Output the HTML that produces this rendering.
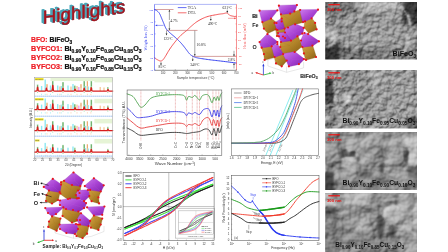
<!DOCTYPE html>
<html><head><meta charset="utf-8"><title>Highlights</title>
<style>html,body{margin:0;padding:0;background:#fff;overflow:hidden}svg{display:block}</style>
</head><body>
<svg width="448" height="252" viewBox="0 0 448 252">
<defs>
<filter id="blur2" x="-50%" y="-50%" width="200%" height="200%"><feGaussianBlur stdDeviation="2.2"/></filter>
<filter id="blur1" x="-50%" y="-50%" width="200%" height="200%"><feGaussianBlur stdDeviation="1.0"/></filter>
<filter id="blur06" x="-50%" y="-50%" width="200%" height="200%"><feGaussianBlur stdDeviation="0.6"/></filter>
<filter id="blur4" x="-50%" y="-50%" width="200%" height="200%"><feGaussianBlur stdDeviation="4"/></filter>
<filter id="semtex0" x="0" y="0" width="1" height="1" color-interpolation-filters="sRGB">
<feTurbulence type="fractalNoise" baseFrequency="0.18" numOctaves="4" seed="11" result="n"/>
<feDiffuseLighting in="n" surfaceScale="2.0" diffuseConstant="0.68" lighting-color="#fff" result="lit"><feDistantLight azimuth="235" elevation="50"/></feDiffuseLighting>
<feColorMatrix in="lit" type="saturate" values="0" result="g"/>
<feBlend in="g" in2="SourceGraphic" mode="overlay" result="b"/>
<feComposite in="b" in2="SourceGraphic" operator="arithmetic" k1="0" k2="1" k3="0" k4="0" result="c"/>
<feComposite in="c" in2="SourceGraphic" operator="in"/>
</filter>
<filter id="semtex1" x="0" y="0" width="1" height="1" color-interpolation-filters="sRGB">
<feTurbulence type="fractalNoise" baseFrequency="0.2" numOctaves="4" seed="5" result="n"/>
<feDiffuseLighting in="n" surfaceScale="2.0" diffuseConstant="0.68" lighting-color="#fff" result="lit"><feDistantLight azimuth="235" elevation="50"/></feDiffuseLighting>
<feColorMatrix in="lit" type="saturate" values="0" result="g"/>
<feBlend in="g" in2="SourceGraphic" mode="overlay" result="b"/>
<feComposite in="b" in2="SourceGraphic" operator="arithmetic" k1="0" k2="1" k3="0" k4="0" result="c"/>
<feComposite in="c" in2="SourceGraphic" operator="in"/>
</filter>
<filter id="semtex2" x="0" y="0" width="1" height="1" color-interpolation-filters="sRGB">
<feTurbulence type="fractalNoise" baseFrequency="0.08" numOctaves="3" seed="8" result="n"/>
<feDiffuseLighting in="n" surfaceScale="2.6" diffuseConstant="0.68" lighting-color="#fff" result="lit"><feDistantLight azimuth="235" elevation="50"/></feDiffuseLighting>
<feColorMatrix in="lit" type="saturate" values="0" result="g"/>
<feBlend in="g" in2="SourceGraphic" mode="overlay" result="b"/>
<feComposite in="b" in2="SourceGraphic" operator="arithmetic" k1="0" k2="1" k3="0" k4="0" result="c"/>
<feComposite in="c" in2="SourceGraphic" operator="in"/>
</filter>
<filter id="semtex3" x="0" y="0" width="1" height="1" color-interpolation-filters="sRGB">
<feTurbulence type="fractalNoise" baseFrequency="0.08" numOctaves="3" seed="21" result="n"/>
<feDiffuseLighting in="n" surfaceScale="2.6" diffuseConstant="0.68" lighting-color="#fff" result="lit"><feDistantLight azimuth="235" elevation="50"/></feDiffuseLighting>
<feColorMatrix in="lit" type="saturate" values="0" result="g"/>
<feBlend in="g" in2="SourceGraphic" mode="overlay" result="b"/>
<feComposite in="b" in2="SourceGraphic" operator="arithmetic" k1="0" k2="1" k3="0" k4="0" result="c"/>
<feComposite in="c" in2="SourceGraphic" operator="in"/>
</filter>
<clipPath id="semclip0"><rect x="325.2" y="1.9" width="91.8" height="57.6"/></clipPath>
<clipPath id="semclip1"><rect x="325.2" y="70" width="91.8" height="58.5"/></clipPath>
<clipPath id="semclip2"><rect x="325.2" y="132" width="91.8" height="58"/></clipPath>
<clipPath id="semclip3"><rect x="325.2" y="193" width="91.8" height="59.5"/></clipPath>

<linearGradient id="gp" x1="0" y1="0" x2="1" y2="1"><stop offset="0" stop-color="#cf80ee"/><stop offset="0.5" stop-color="#a943d4"/><stop offset="1" stop-color="#7f22ac"/></linearGradient>
<linearGradient id="gb" x1="0" y1="0" x2="1" y2="1"><stop offset="0" stop-color="#d6a444"/><stop offset="0.5" stop-color="#b3852a"/><stop offset="1" stop-color="#845a12"/></linearGradient>
</defs>
<rect width="448" height="252" fill="#fff"/>
<text x="40.2" y="22.3" font-size="18.6" font-weight="normal" font-family="'Liberation Sans',Arial,sans-serif" fill="#8ccdd9" stroke="#8ccdd9" stroke-width="0.5" textLength="82.6" lengthAdjust="spacingAndGlyphs" transform="translate(42.8 24) skewY(-7.7) translate(-42.8 -24)">Highlights</text>
<text x="40.52" y="22.51" font-size="18.6" font-weight="normal" font-family="'Liberation Sans',Arial,sans-serif" fill="#4ea6b8" stroke="#4ea6b8" stroke-width="0.5" textLength="82.6" lengthAdjust="spacingAndGlyphs" transform="translate(42.8 24) skewY(-7.7) translate(-42.8 -24)">Highlights</text>
<text x="40.85" y="22.73" font-size="18.6" font-weight="normal" font-family="'Liberation Sans',Arial,sans-serif" fill="#4ea6b8" stroke="#4ea6b8" stroke-width="0.5" textLength="82.6" lengthAdjust="spacingAndGlyphs" transform="translate(42.8 24) skewY(-7.7) translate(-42.8 -24)">Highlights</text>
<text x="41.17" y="22.94" font-size="18.6" font-weight="normal" font-family="'Liberation Sans',Arial,sans-serif" fill="#4ea6b8" stroke="#4ea6b8" stroke-width="0.5" textLength="82.6" lengthAdjust="spacingAndGlyphs" transform="translate(42.8 24) skewY(-7.7) translate(-42.8 -24)">Highlights</text>
<text x="41.5" y="23.15" font-size="18.6" font-weight="normal" font-family="'Liberation Sans',Arial,sans-serif" fill="#4ea6b8" stroke="#4ea6b8" stroke-width="0.5" textLength="82.6" lengthAdjust="spacingAndGlyphs" transform="translate(42.8 24) skewY(-7.7) translate(-42.8 -24)">Highlights</text>
<text x="41.82" y="23.36" font-size="18.6" font-weight="normal" font-family="'Liberation Sans',Arial,sans-serif" fill="#4ea6b8" stroke="#4ea6b8" stroke-width="0.5" textLength="82.6" lengthAdjust="spacingAndGlyphs" transform="translate(42.8 24) skewY(-7.7) translate(-42.8 -24)">Highlights</text>
<text x="42.15" y="23.57" font-size="18.6" font-weight="normal" font-family="'Liberation Sans',Arial,sans-serif" fill="#4ea6b8" stroke="#4ea6b8" stroke-width="0.5" textLength="82.6" lengthAdjust="spacingAndGlyphs" transform="translate(42.8 24) skewY(-7.7) translate(-42.8 -24)">Highlights</text>
<text x="42.47" y="23.79" font-size="18.6" font-weight="normal" font-family="'Liberation Sans',Arial,sans-serif" fill="#4ea6b8" stroke="#4ea6b8" stroke-width="0.5" textLength="82.6" lengthAdjust="spacingAndGlyphs" transform="translate(42.8 24) skewY(-7.7) translate(-42.8 -24)">Highlights</text>
<text x="42.8" y="24" font-size="18.6" font-weight="normal" font-family="'Liberation Sans',Arial,sans-serif" fill="#a8141e" stroke="#a8141e" stroke-width="0.45" textLength="82.6" lengthAdjust="spacingAndGlyphs" transform="translate(42.8 24) skewY(-7.7) translate(-42.8 -24)">Highlights</text>
<text x="31" y="41.6" font-size="7.2" font-weight="bold" font-family="'Liberation Sans',Arial,sans-serif" fill="#111" stroke="#111" stroke-width="0.22" textLength="41.2" lengthAdjust="spacingAndGlyphs"><tspan fill="#ee1c24" stroke="#ee1c24">BFO:</tspan> BiFeO<tspan font-size="5.0" dy="1.9">3</tspan><tspan dy="-1.9">​</tspan></text>
<text x="31" y="50.6" font-size="7.2" font-weight="bold" font-family="'Liberation Sans',Arial,sans-serif" fill="#111" stroke="#111" stroke-width="0.22" textLength="110.5" lengthAdjust="spacingAndGlyphs"><tspan fill="#ee1c24" stroke="#ee1c24">BYFCO1:</tspan> Bi<tspan font-size="5.0" dy="1.9">0.90</tspan><tspan dy="-1.9">​</tspan>Y<tspan font-size="5.0" dy="1.9">0.10</tspan><tspan dy="-1.9">​</tspan>Fe<tspan font-size="5.0" dy="1.9">0.95</tspan><tspan dy="-1.9">​</tspan>Cu<tspan font-size="5.0" dy="1.9">0.05</tspan><tspan dy="-1.9">​</tspan>O<tspan font-size="5.0" dy="1.9">3</tspan><tspan dy="-1.9">​</tspan></text>
<text x="31" y="59.8" font-size="7.2" font-weight="bold" font-family="'Liberation Sans',Arial,sans-serif" fill="#111" stroke="#111" stroke-width="0.22" textLength="110.5" lengthAdjust="spacingAndGlyphs"><tspan fill="#ee1c24" stroke="#ee1c24">BYFCO2:</tspan> Bi<tspan font-size="5.0" dy="1.9">0.90</tspan><tspan dy="-1.9">​</tspan>Y<tspan font-size="5.0" dy="1.9">0.10</tspan><tspan dy="-1.9">​</tspan>Fe<tspan font-size="5.0" dy="1.9">0.90</tspan><tspan dy="-1.9">​</tspan>Cu<tspan font-size="5.0" dy="1.9">0.10</tspan><tspan dy="-1.9">​</tspan>O<tspan font-size="5.0" dy="1.9">3</tspan><tspan dy="-1.9">​</tspan></text>
<text x="31" y="69" font-size="7.2" font-weight="bold" font-family="'Liberation Sans',Arial,sans-serif" fill="#111" stroke="#111" stroke-width="0.22" textLength="110.5" lengthAdjust="spacingAndGlyphs"><tspan fill="#ee1c24" stroke="#ee1c24">BYFCO3:</tspan> Bi<tspan font-size="5.0" dy="1.9">0.90</tspan><tspan dy="-1.9">​</tspan>Y<tspan font-size="5.0" dy="1.9">0.10</tspan><tspan dy="-1.9">​</tspan>Fe<tspan font-size="5.0" dy="1.9">0.85</tspan><tspan dy="-1.9">​</tspan>Cu<tspan font-size="5.0" dy="1.9">0.15</tspan><tspan dy="-1.9">​</tspan>O<tspan font-size="5.0" dy="1.9">3</tspan><tspan dy="-1.9">​</tspan></text>
<line x1="154.5" y1="9.5" x2="173.5" y2="9.5" stroke="#b5524f" stroke-width="0.55" />
<line x1="166.5" y1="30.4" x2="197.5" y2="30.4" stroke="#b5524f" stroke-width="0.55" />
<line x1="192" y1="56.4" x2="236.3" y2="56.4" stroke="#b5524f" stroke-width="0.55" />
<polyline points="154.5,57.8 154.68,57.93 154.92,58.11 155.19,58.32 155.51,58.56 155.85,58.8 156.22,59.05 156.6,59.29 157,59.5 157.43,59.72 157.9,59.98 158.4,60.25 158.91,60.51 159.43,60.74 159.95,60.91 160.44,61.01 160.9,61 161.31,60.93 161.67,60.82 162,60.66 162.33,60.44 162.67,60.13 163.05,59.71 163.49,59.17 164,58.5 164.59,57.64 165.26,56.58 165.97,55.38 166.72,54.09 167.49,52.76 168.27,51.43 169.05,50.16 169.8,49 170.55,47.91 171.3,46.84 172.07,45.79 172.84,44.77 173.6,43.77 174.35,42.81 175.09,41.88 175.8,41 176.48,40.16 177.14,39.37 177.79,38.62 178.42,37.89 179.05,37.2 179.68,36.52 180.33,35.86 181,35.2 181.69,34.56 182.41,33.94 183.14,33.35 183.87,32.77 184.61,32.2 185.33,31.64 186.03,31.07 186.7,30.5 187.33,29.93 187.92,29.37 188.49,28.82 189.05,28.27 189.62,27.72 190.2,27.16 190.82,26.59 191.5,26 192.22,25.39 192.95,24.77 193.71,24.13 194.5,23.48 195.32,22.84 196.17,22.21 197.07,21.59 198,21 198.97,20.42 199.99,19.85 201.03,19.29 202.12,18.74 203.24,18.21 204.39,17.7 205.58,17.23 206.8,16.8 208.11,16.4 209.53,16.03 211.02,15.69 212.53,15.38 214,15.1 215.41,14.84 216.69,14.61 217.8,14.4 218.74,14.23 219.55,14.11 220.25,14.01 220.87,13.94 221.43,13.89 221.96,13.84 222.47,13.78 223,13.7 223.53,13.6 224.03,13.48 224.5,13.35 224.95,13.23 225.37,13.12 225.77,13.04 226.15,13 226.5,13 226.82,13.06 227.11,13.16 227.36,13.3 227.59,13.47 227.82,13.65 228.04,13.84 228.26,14.03 228.5,14.2 228.72,14.37 228.91,14.54 229.08,14.72 229.26,14.9 229.47,15.08 229.73,15.26 230.07,15.43 230.5,15.6 231.08,15.77 231.82,15.94 232.65,16.12 233.53,16.29 234.38,16.45 235.17,16.59 235.83,16.71 236.3,16.8" fill="none" stroke="#f0484a" stroke-width="0.95" stroke-linejoin="round" stroke-linecap="round" />
<polyline points="154.5,9.5 154.69,9.59 154.95,9.7 155.25,9.83 155.59,9.98 155.95,10.15 156.32,10.35 156.67,10.56 157,10.8 157.32,11.06 157.64,11.33 157.96,11.63 158.28,11.95 158.6,12.29 158.91,12.67 159.21,13.07 159.5,13.5 159.77,13.97 160.04,14.49 160.29,15.04 160.53,15.62 160.77,16.21 161.01,16.81 161.25,17.41 161.5,18 161.75,18.58 161.99,19.16 162.23,19.74 162.47,20.33 162.71,20.92 162.96,21.53 163.23,22.15 163.5,22.8 163.79,23.48 164.08,24.21 164.38,24.97 164.69,25.73 165,26.48 165.33,27.21 165.66,27.89 166,28.5 166.33,29.03 166.63,29.47 166.92,29.87 167.23,30.24 167.57,30.61 167.97,31.01 168.44,31.46 169,32 169.68,32.63 170.47,33.32 171.34,34.07 172.26,34.85 173.2,35.64 174.12,36.42 175,37.18 175.8,37.9 176.53,38.57 177.22,39.21 177.89,39.84 178.53,40.46 179.16,41.07 179.77,41.69 180.38,42.33 181,43 181.62,43.7 182.24,44.43 182.86,45.19 183.47,45.94 184.06,46.7 184.64,47.43 185.18,48.14 185.7,48.8 186.18,49.43 186.64,50.05 187.07,50.64 187.47,51.21 187.87,51.76 188.25,52.27 188.63,52.76 189,53.2 189.36,53.6 189.7,53.96 190.03,54.28 190.35,54.58 190.67,54.85 191,55.1 191.34,55.35 191.7,55.6 192.07,55.84 192.45,56.07 192.84,56.28 193.23,56.48 193.64,56.67 194.07,56.85 194.52,57.03 195,57.2 195.47,57.36 195.92,57.5 196.37,57.63 196.86,57.76 197.39,57.88 198.01,58.01 198.74,58.15 199.6,58.3 200.61,58.47 201.75,58.65 203,58.84 204.34,59.03 205.73,59.23 207.15,59.42 208.58,59.61 210,59.8 211.41,59.98 212.83,60.15 214.28,60.31 215.76,60.48 217.26,60.65 218.8,60.82 220.38,61.01 222,61.2 223.78,61.42 225.75,61.66 227.82,61.92 229.9,62.19 231.88,62.44 233.68,62.67 235.18,62.86 236.3,63" fill="none" stroke="#3b47f0" stroke-width="1" stroke-linejoin="round" stroke-linecap="round" />
<line x1="169.4" y1="20" x2="169.4" y2="10" stroke="#222" stroke-width="0.4" /><polygon points="168.5,11.6 170.3,11.6 169.4,10" fill="#222" stroke="none" stroke-width="0" /><line x1="169.4" y1="21.5" x2="169.4" y2="30" stroke="#222" stroke-width="0.4" /><polygon points="168.5,28.4 170.3,28.4 169.4,30" fill="#222" stroke="none" stroke-width="0" />
<line x1="194.8" y1="30.6" x2="194.8" y2="55.8" stroke="#222" stroke-width="0.4" /><polygon points="193.9,54.2 195.7,54.2 194.8,55.8" fill="#222" stroke="none" stroke-width="0" />
<line x1="234" y1="50.8" x2="234" y2="56.2" stroke="#222" stroke-width="0.4" /><polygon points="233.1,54.6 234.9,54.6 234,56.2" fill="#222" stroke="none" stroke-width="0" /><line x1="234" y1="68.5" x2="234" y2="63.2" stroke="#222" stroke-width="0.4" /><polygon points="233.1,64.8 234.9,64.8 234,63.2" fill="#222" stroke="none" stroke-width="0" />
<line x1="166.5" y1="30.6" x2="166.5" y2="35.2" stroke="#222" stroke-width="0.4" /><polygon points="165.6,33.6 167.4,33.6 166.5,35.2" fill="#222" stroke="none" stroke-width="0" />
<line x1="161" y1="62" x2="161" y2="65" stroke="#222" stroke-width="0.4" /><polygon points="160.1,63.4 161.9,63.4 161,65" fill="#222" stroke="none" stroke-width="0" />
<line x1="192.7" y1="57.5" x2="192.7" y2="61" stroke="#222" stroke-width="0.4" /><polygon points="191.8,59.4 193.6,59.4 192.7,61" fill="#222" stroke="none" stroke-width="0" />
<line x1="210.8" y1="16.5" x2="210.8" y2="20.6" stroke="#222" stroke-width="0.4" /><polygon points="209.9,19 211.7,19 210.8,20.6" fill="#222" stroke="none" stroke-width="0" />
<line x1="227.3" y1="9.6" x2="227.3" y2="12.7" stroke="#222" stroke-width="0.4" /><polygon points="226.4,11.1 228.2,11.1 227.3,12.7" fill="#222" stroke="none" stroke-width="0" />
<line x1="163.5" y1="25.4" x2="155.8" y2="25.4" stroke="#3b47f0" stroke-width="0.5" /><polygon points="155.2,25.4 157.2,24.5 157.2,26.3" fill="#3b47f0" stroke="none" stroke-width="0" />
<line x1="228" y1="18.3" x2="235.6" y2="18.3" stroke="#f0484a" stroke-width="0.5" /><polygon points="236.2,18.3 234.2,17.4 234.2,19.2" fill="#f0484a" stroke="none" stroke-width="0" />
<text x="170.3" y="21.5" font-size="3.6" fill="#222" text-anchor="start" font-family="'Liberation Serif','Times New Roman',serif" font-weight="normal" >4.7%</text>
<text x="196.6" y="45.8" font-size="3.6" fill="#222" text-anchor="start" font-family="'Liberation Serif','Times New Roman',serif" font-weight="normal" >10.8%</text>
<text x="227.8" y="61" font-size="3.6" fill="#222" text-anchor="start" font-family="'Liberation Serif','Times New Roman',serif" font-weight="normal" >2.8%</text>
<text x="163.5" y="40.3" font-size="3.6" fill="#222" text-anchor="start" font-family="'Liberation Serif','Times New Roman',serif" font-weight="normal" >123°C</text>
<text x="158.6" y="67.8" font-size="3.6" fill="#222" text-anchor="start" font-family="'Liberation Serif','Times New Roman',serif" font-weight="normal" >85°C</text>
<text x="190.3" y="65.6" font-size="3.6" fill="#222" text-anchor="start" font-family="'Liberation Serif','Times New Roman',serif" font-weight="normal" >340°C</text>
<text x="208" y="25.2" font-size="3.6" fill="#222" text-anchor="start" font-family="'Liberation Serif','Times New Roman',serif" font-weight="normal" >490°C</text>
<text x="222.6" y="9" font-size="3.6" fill="#222" text-anchor="start" font-family="'Liberation Serif','Times New Roman',serif" font-weight="normal" >621°C</text>
<line x1="177.8" y1="7.6" x2="186.5" y2="7.6" stroke="#3b47f0" stroke-width="0.8" /><text x="187.8" y="9" font-size="4" fill="#333" text-anchor="start" font-family="'Liberation Serif','Times New Roman',serif" font-weight="normal" >TGA</text>
<line x1="177.8" y1="12.8" x2="186.5" y2="12.8" stroke="#f0484a" stroke-width="0.8" /><text x="187.8" y="14.2" font-size="4" fill="#333" text-anchor="start" font-family="'Liberation Serif','Times New Roman',serif" font-weight="normal" >DTA</text>
<line x1="154.5" y1="4.4" x2="236.5" y2="4.4" stroke="#7a86f0" stroke-width="0.6" />
<line x1="154.5" y1="4.4" x2="154.5" y2="70.3" stroke="#3b47f0" stroke-width="0.6" />
<line x1="236.5" y1="4.4" x2="236.5" y2="70.3" stroke="#f0484a" stroke-width="0.6" />
<line x1="154.5" y1="70.3" x2="236.5" y2="70.3" stroke="#444" stroke-width="0.6" />
<line x1="154.5" y1="9.8" x2="155.7" y2="9.8" stroke="#3b47f0" stroke-width="0.4" />
<text x="153.2" y="10.7" font-size="2.7" fill="#3b47f0" text-anchor="end" font-family="'Liberation Serif','Times New Roman',serif" font-weight="normal" >100</text>
<line x1="154.5" y1="21.85" x2="155.7" y2="21.85" stroke="#3b47f0" stroke-width="0.4" />
<text x="153.2" y="22.75" font-size="2.7" fill="#3b47f0" text-anchor="end" font-family="'Liberation Serif','Times New Roman',serif" font-weight="normal" >95</text>
<line x1="154.5" y1="33.9" x2="155.7" y2="33.9" stroke="#3b47f0" stroke-width="0.4" />
<text x="153.2" y="34.8" font-size="2.7" fill="#3b47f0" text-anchor="end" font-family="'Liberation Serif','Times New Roman',serif" font-weight="normal" >90</text>
<line x1="154.5" y1="45.95" x2="155.7" y2="45.95" stroke="#3b47f0" stroke-width="0.4" />
<text x="153.2" y="46.85" font-size="2.7" fill="#3b47f0" text-anchor="end" font-family="'Liberation Serif','Times New Roman',serif" font-weight="normal" >85</text>
<line x1="154.5" y1="58" x2="155.7" y2="58" stroke="#3b47f0" stroke-width="0.4" />
<text x="153.2" y="58.9" font-size="2.7" fill="#3b47f0" text-anchor="end" font-family="'Liberation Serif','Times New Roman',serif" font-weight="normal" >80</text>
<line x1="154.5" y1="70.05" x2="155.7" y2="70.05" stroke="#3b47f0" stroke-width="0.4" />
<text x="153.2" y="70.95" font-size="2.7" fill="#3b47f0" text-anchor="end" font-family="'Liberation Serif','Times New Roman',serif" font-weight="normal" >75</text>
<line x1="236.5" y1="7.9" x2="235.5" y2="7.9" stroke="#f0484a" stroke-width="0.4" />
<text x="238.1" y="8.8" font-size="2.7" fill="#f0484a" text-anchor="start" font-family="'Liberation Serif','Times New Roman',serif" font-weight="normal" >100</text>
<line x1="236.5" y1="15.9" x2="235.5" y2="15.9" stroke="#f0484a" stroke-width="0.4" />
<text x="238.1" y="16.8" font-size="2.7" fill="#f0484a" text-anchor="start" font-family="'Liberation Serif','Times New Roman',serif" font-weight="normal" >80</text>
<line x1="236.5" y1="23.9" x2="235.5" y2="23.9" stroke="#f0484a" stroke-width="0.4" />
<text x="238.1" y="24.8" font-size="2.7" fill="#f0484a" text-anchor="start" font-family="'Liberation Serif','Times New Roman',serif" font-weight="normal" >60</text>
<line x1="236.5" y1="31.9" x2="235.5" y2="31.9" stroke="#f0484a" stroke-width="0.4" />
<text x="238.1" y="32.8" font-size="2.7" fill="#f0484a" text-anchor="start" font-family="'Liberation Serif','Times New Roman',serif" font-weight="normal" >40</text>
<line x1="236.5" y1="39.9" x2="235.5" y2="39.9" stroke="#f0484a" stroke-width="0.4" />
<text x="238.1" y="40.8" font-size="2.7" fill="#f0484a" text-anchor="start" font-family="'Liberation Serif','Times New Roman',serif" font-weight="normal" >20</text>
<line x1="236.5" y1="47.9" x2="235.5" y2="47.9" stroke="#f0484a" stroke-width="0.4" />
<text x="238.1" y="48.8" font-size="2.7" fill="#f0484a" text-anchor="start" font-family="'Liberation Serif','Times New Roman',serif" font-weight="normal" >0</text>
<line x1="236.5" y1="55.9" x2="235.5" y2="55.9" stroke="#f0484a" stroke-width="0.4" />
<text x="238.1" y="56.8" font-size="2.7" fill="#f0484a" text-anchor="start" font-family="'Liberation Serif','Times New Roman',serif" font-weight="normal" >-20</text>
<line x1="236.5" y1="63.9" x2="235.5" y2="63.9" stroke="#f0484a" stroke-width="0.4" />
<text x="238.1" y="64.8" font-size="2.7" fill="#f0484a" text-anchor="start" font-family="'Liberation Serif','Times New Roman',serif" font-weight="normal" >-40</text>
<line x1="163.1" y1="70.3" x2="163.1" y2="69.3" stroke="#444" stroke-width="0.4" />
<text x="163.1" y="73.9" font-size="2.8" fill="#444" text-anchor="middle" font-family="'Liberation Sans',Arial,sans-serif" font-weight="normal" >100</text>
<line x1="175.3" y1="70.3" x2="175.3" y2="69.3" stroke="#444" stroke-width="0.4" />
<text x="175.3" y="73.9" font-size="2.8" fill="#444" text-anchor="middle" font-family="'Liberation Sans',Arial,sans-serif" font-weight="normal" >200</text>
<line x1="187.5" y1="70.3" x2="187.5" y2="69.3" stroke="#444" stroke-width="0.4" />
<text x="187.5" y="73.9" font-size="2.8" fill="#444" text-anchor="middle" font-family="'Liberation Sans',Arial,sans-serif" font-weight="normal" >300</text>
<line x1="199.7" y1="70.3" x2="199.7" y2="69.3" stroke="#444" stroke-width="0.4" />
<text x="199.7" y="73.9" font-size="2.8" fill="#444" text-anchor="middle" font-family="'Liberation Sans',Arial,sans-serif" font-weight="normal" >400</text>
<line x1="211.9" y1="70.3" x2="211.9" y2="69.3" stroke="#444" stroke-width="0.4" />
<text x="211.9" y="73.9" font-size="2.8" fill="#444" text-anchor="middle" font-family="'Liberation Sans',Arial,sans-serif" font-weight="normal" >500</text>
<line x1="224.1" y1="70.3" x2="224.1" y2="69.3" stroke="#444" stroke-width="0.4" />
<text x="224.1" y="73.9" font-size="2.8" fill="#444" text-anchor="middle" font-family="'Liberation Sans',Arial,sans-serif" font-weight="normal" >600</text>
<line x1="236.3" y1="70.3" x2="236.3" y2="69.3" stroke="#444" stroke-width="0.4" />
<text x="236.3" y="73.9" font-size="2.8" fill="#444" text-anchor="middle" font-family="'Liberation Sans',Arial,sans-serif" font-weight="normal" >700</text>
<text x="195.5" y="79" font-size="3.4" fill="#444" text-anchor="middle" font-family="'Liberation Sans',Arial,sans-serif" font-weight="normal" >Sample temperature (°C)</text>
<text x="0" y="0" font-size="3.9" fill="#3b47f0" text-anchor="middle" font-family="'Liberation Serif','Times New Roman',serif" font-weight="normal" transform="translate(147.2 38) rotate(-90)">Weight loss (%)</text>
<text x="0" y="0" font-size="3.9" fill="#f0484a" text-anchor="middle" font-family="'Liberation Serif','Times New Roman',serif" font-weight="normal" transform="translate(245.6 36) rotate(-90)">Heat flow (mW)</text>
<line x1="267.9" y1="60" x2="267.9" y2="66" stroke="#c4c4c4" stroke-width="0.4" />
<line x1="267.9" y1="66" x2="286.6" y2="72.3" stroke="#c4c4c4" stroke-width="0.4" />
<line x1="286.6" y1="72.3" x2="303.6" y2="67.9" stroke="#c4c4c4" stroke-width="0.4" />
<line x1="286.6" y1="72.3" x2="286.6" y2="66.5" stroke="#c4c4c4" stroke-width="0.4" />
<line x1="303.6" y1="67.9" x2="303.6" y2="62" stroke="#c4c4c4" stroke-width="0.4" />
<line x1="267.9" y1="60" x2="276" y2="57.5" stroke="#c4c4c4" stroke-width="0.4" />
<polygon points="261.97,21.88 271.08,18.17 276.91,22.83 276.38,29.51 267.9,33.43 263.56,28.77" fill="url(#gb)" stroke="#7d5612" stroke-width="0.25" /><line x1="269.63" y1="25.77" x2="261.97" y2="21.88" stroke="#a07824" stroke-width="0.25" opacity="0.7"/><line x1="269.63" y1="25.77" x2="276.91" y2="22.83" stroke="#a07824" stroke-width="0.25" opacity="0.7"/><line x1="269.63" y1="25.77" x2="267.9" y2="33.43" stroke="#a07824" stroke-width="0.25" opacity="0.7"/>
<polygon points="280.43,13.94 290.08,13.2 300.68,9.39 303.75,22.21 295.38,24.54 287.85,27.94 284.25,29.1 281.18,21.47" fill="url(#gb)" stroke="#7d5612" stroke-width="0.25" /><line x1="290.45" y1="20.23" x2="280.43" y2="13.94" stroke="#a07824" stroke-width="0.25" opacity="0.7"/><line x1="290.45" y1="20.23" x2="300.68" y2="9.39" stroke="#a07824" stroke-width="0.25" opacity="0.7"/><line x1="290.45" y1="20.23" x2="295.38" y2="24.54" stroke="#a07824" stroke-width="0.25" opacity="0.7"/><line x1="290.45" y1="20.23" x2="284.25" y2="29.1" stroke="#a07824" stroke-width="0.25" opacity="0.7"/>
<polygon points="311.68,17.88 315.39,22.75 316.98,29.54 308.61,33.35 304.05,27.21 304.69,21.16" fill="url(#gb)" stroke="#7d5612" stroke-width="0.25" /><line x1="310.23" y1="25.32" x2="311.68" y2="17.88" stroke="#a07824" stroke-width="0.25" opacity="0.7"/><line x1="310.23" y1="25.32" x2="316.98" y2="29.54" stroke="#a07824" stroke-width="0.25" opacity="0.7"/><line x1="310.23" y1="25.32" x2="304.05" y2="27.21" stroke="#a07824" stroke-width="0.25" opacity="0.7"/>
<polygon points="275.68,29.83 284.8,28.35 286.28,33.01 283.1,36.72 276.74,36.19" fill="url(#gb)" stroke="#7d5612" stroke-width="0.25" /><line x1="281.32" y1="32.82" x2="275.68" y2="29.83" stroke="#a07824" stroke-width="0.25" opacity="0.7"/><line x1="281.32" y1="32.82" x2="286.28" y2="33.01" stroke="#a07824" stroke-width="0.25" opacity="0.7"/><line x1="281.32" y1="32.82" x2="276.74" y2="36.19" stroke="#a07824" stroke-width="0.25" opacity="0.7"/>
<polygon points="261.36,47.38 271.96,45.9 275.04,57.24 264.44,60.31 263.7,54.17" fill="url(#gb)" stroke="#7d5612" stroke-width="0.25" /><line x1="267.3" y1="53" x2="261.36" y2="47.38" stroke="#a07824" stroke-width="0.25" opacity="0.7"/><line x1="267.3" y1="53" x2="275.04" y2="57.24" stroke="#a07824" stroke-width="0.25" opacity="0.7"/><line x1="267.3" y1="53" x2="263.7" y2="54.17" stroke="#a07824" stroke-width="0.25" opacity="0.7"/>
<polygon points="280.47,41.79 291.07,40.31 297.85,35.75 302.41,46.35 294.88,52.39 282.69,54.62 279.73,47.09" fill="url(#gb)" stroke="#7d5612" stroke-width="0.25" /><line x1="289.87" y1="45.47" x2="280.47" y2="41.79" stroke="#a07824" stroke-width="0.25" opacity="0.7"/><line x1="289.87" y1="45.47" x2="297.85" y2="35.75" stroke="#a07824" stroke-width="0.25" opacity="0.7"/><line x1="289.87" y1="45.47" x2="294.88" y2="52.39" stroke="#a07824" stroke-width="0.25" opacity="0.7"/><line x1="289.87" y1="45.47" x2="279.73" y2="47.09" stroke="#a07824" stroke-width="0.25" opacity="0.7"/>
<polygon points="274.25,56.8 283.26,53.73 287.08,60.62 281.78,66.66 275.73,63.59" fill="url(#gb)" stroke="#7d5612" stroke-width="0.25" /><line x1="280.42" y1="60.28" x2="274.25" y2="56.8" stroke="#a07824" stroke-width="0.25" opacity="0.7"/><line x1="280.42" y1="60.28" x2="287.08" y2="60.62" stroke="#a07824" stroke-width="0.25" opacity="0.7"/><line x1="280.42" y1="60.28" x2="275.73" y2="63.59" stroke="#a07824" stroke-width="0.25" opacity="0.7"/>
<polygon points="302.06,46.67 312.66,45.18 316.47,57.27 305.87,60.34 303.65,53.45" fill="url(#gb)" stroke="#7d5612" stroke-width="0.25" /><line x1="308.14" y1="52.58" x2="302.06" y2="46.67" stroke="#a07824" stroke-width="0.25" opacity="0.7"/><line x1="308.14" y1="52.58" x2="316.47" y2="57.27" stroke="#a07824" stroke-width="0.25" opacity="0.7"/><line x1="308.14" y1="52.58" x2="303.65" y2="53.45" stroke="#a07824" stroke-width="0.25" opacity="0.7"/>
<polygon points="259.12,10.42 277.99,9.99 271.2,18.79 262.09,22.5" fill="url(#gp)" stroke="#8a2aa8" stroke-width="0.25" /><line x1="267.6" y1="15.43" x2="259.12" y2="10.42" stroke="#b764dc" stroke-width="0.25" opacity="0.7"/><line x1="267.6" y1="15.43" x2="271.2" y2="18.79" stroke="#b764dc" stroke-width="0.25" opacity="0.7"/>
<polygon points="278.34,5.44 297.42,4.7 294.77,11.48 290.21,13.82 280.56,14.56" fill="url(#gp)" stroke="#8a2aa8" stroke-width="0.25" /><line x1="288.26" y1="10" x2="278.34" y2="5.44" stroke="#b764dc" stroke-width="0.25" opacity="0.7"/><line x1="288.26" y1="10" x2="294.77" y2="11.48" stroke="#b764dc" stroke-width="0.25" opacity="0.7"/><line x1="288.26" y1="10" x2="280.56" y2="14.56" stroke="#b764dc" stroke-width="0.25" opacity="0.7"/>
<polygon points="299.62,9.7 318.59,9.38 311.81,18.5 302.69,22.52" fill="url(#gp)" stroke="#8a2aa8" stroke-width="0.25" /><line x1="308.18" y1="15.03" x2="299.62" y2="9.7" stroke="#b764dc" stroke-width="0.25" opacity="0.7"/><line x1="308.18" y1="15.03" x2="311.81" y2="18.5" stroke="#b764dc" stroke-width="0.25" opacity="0.7"/>
<polygon points="274.3,22.77 281.83,18.21 284.9,28.81 277.27,30.3" fill="url(#gp)" stroke="#8a2aa8" stroke-width="0.25" /><line x1="279.57" y1="25.02" x2="274.3" y2="22.77" stroke="#b764dc" stroke-width="0.25" opacity="0.7"/><line x1="279.57" y1="25.02" x2="284.9" y2="28.81" stroke="#b764dc" stroke-width="0.25" opacity="0.7"/>
<polygon points="284.97,28.35 295.15,23.79 304.26,27.61 302.78,33.65 297.59,36.51 290.8,41.07 284.44,38.31" fill="url(#gp)" stroke="#8a2aa8" stroke-width="0.25" /><line x1="294.29" y1="32.76" x2="284.97" y2="28.35" stroke="#b764dc" stroke-width="0.25" opacity="0.7"/><line x1="294.29" y1="32.76" x2="304.26" y2="27.61" stroke="#b764dc" stroke-width="0.25" opacity="0.7"/><line x1="294.29" y1="32.76" x2="297.59" y2="36.51" stroke="#b764dc" stroke-width="0.25" opacity="0.7"/><line x1="294.29" y1="32.76" x2="284.44" y2="38.31" stroke="#b764dc" stroke-width="0.25" opacity="0.7"/>
<polygon points="304.19,32.56 308.11,33.73 319.56,41.36 312.67,45.92 302.07,47.4 300.59,40.62" fill="url(#gp)" stroke="#8a2aa8" stroke-width="0.25" /><line x1="307.87" y1="40.27" x2="304.19" y2="32.56" stroke="#b764dc" stroke-width="0.25" opacity="0.7"/><line x1="307.87" y1="40.27" x2="319.56" y2="41.36" stroke="#b764dc" stroke-width="0.25" opacity="0.7"/><line x1="307.87" y1="40.27" x2="302.07" y2="47.4" stroke="#b764dc" stroke-width="0.25" opacity="0.7"/>
<polygon points="267.39,33.6 277.99,41.97 271.95,46.53 261.35,48.02 259.12,41.97" fill="url(#gp)" stroke="#8a2aa8" stroke-width="0.25" /><line x1="267.56" y1="42.42" x2="267.39" y2="33.6" stroke="#b764dc" stroke-width="0.25" opacity="0.7"/><line x1="267.56" y1="42.42" x2="271.95" y2="46.53" stroke="#b764dc" stroke-width="0.25" opacity="0.7"/><line x1="267.56" y1="42.42" x2="259.12" y2="41.97" stroke="#b764dc" stroke-width="0.25" opacity="0.7"/>
<polygon points="277.71,32.77 285.13,32.24 291.49,40.82 280.89,42.31 278.67,36.27" fill="url(#gp)" stroke="#8a2aa8" stroke-width="0.25" /><line x1="282.78" y1="36.88" x2="277.71" y2="32.77" stroke="#b764dc" stroke-width="0.25" opacity="0.7"/><line x1="282.78" y1="36.88" x2="291.49" y2="40.82" stroke="#b764dc" stroke-width="0.25" opacity="0.7"/><line x1="282.78" y1="36.88" x2="278.67" y2="36.27" stroke="#b764dc" stroke-width="0.25" opacity="0.7"/>
<polygon points="271.4,46.06 277.44,43.72 283.48,54.32 274.47,57.4" fill="url(#gp)" stroke="#8a2aa8" stroke-width="0.25" /><line x1="276.7" y1="50.38" x2="271.4" y2="46.06" stroke="#b764dc" stroke-width="0.25" opacity="0.7"/><line x1="276.7" y1="50.38" x2="283.48" y2="54.32" stroke="#b764dc" stroke-width="0.25" opacity="0.7"/>
<polygon points="282.53,53.78 294.72,51.56 304.57,59.08 299.27,64.38 288.67,66.72 286.34,60.67" fill="url(#gp)" stroke="#8a2aa8" stroke-width="0.25" /><line x1="292.68" y1="59.37" x2="282.53" y2="53.78" stroke="#b764dc" stroke-width="0.25" opacity="0.7"/><line x1="292.68" y1="59.37" x2="304.57" y2="59.08" stroke="#b764dc" stroke-width="0.25" opacity="0.7"/><line x1="292.68" y1="59.37" x2="288.67" y2="66.72" stroke="#b764dc" stroke-width="0.25" opacity="0.7"/>
<circle cx="259.6" cy="10.7" r="1.1" fill="#e8161b" /><circle cx="277.4" cy="10.3" r="1.1" fill="#e8161b" /><circle cx="271" cy="18.6" r="1.1" fill="#e8161b" /><circle cx="262.4" cy="22.1" r="1.1" fill="#e8161b" /><circle cx="278.9" cy="5.7" r="1.1" fill="#e8161b" /><circle cx="296.9" cy="5" r="1.1" fill="#e8161b" /><circle cx="294.4" cy="11.4" r="1.1" fill="#e8161b" /><circle cx="290.1" cy="13.6" r="1.1" fill="#e8161b" /><circle cx="281" cy="14.3" r="1.1" fill="#e8161b" /><circle cx="300.1" cy="10" r="1.1" fill="#e8161b" /><circle cx="318" cy="9.7" r="1.1" fill="#e8161b" /><circle cx="311.6" cy="18.3" r="1.1" fill="#e8161b" /><circle cx="303" cy="22.1" r="1.1" fill="#e8161b" /><circle cx="274.6" cy="22.9" r="1.1" fill="#e8161b" /><circle cx="281.7" cy="18.6" r="1.1" fill="#e8161b" /><circle cx="284.6" cy="28.6" r="1.1" fill="#e8161b" /><circle cx="277.4" cy="30" r="1.1" fill="#e8161b" /><circle cx="295.1" cy="24.3" r="1.1" fill="#e8161b" /><circle cx="303.7" cy="27.9" r="1.1" fill="#e8161b" /><circle cx="302.3" cy="33.6" r="1.1" fill="#e8161b" /><circle cx="297.4" cy="36.3" r="1.1" fill="#e8161b" /><circle cx="291" cy="40.6" r="1.1" fill="#e8161b" /><circle cx="285" cy="38" r="1.1" fill="#e8161b" /><circle cx="304.4" cy="33" r="1.1" fill="#e8161b" /><circle cx="308.1" cy="34.1" r="1.1" fill="#e8161b" /><circle cx="318.9" cy="41.3" r="1.1" fill="#e8161b" /><circle cx="312.4" cy="45.6" r="1.1" fill="#e8161b" /><circle cx="302.4" cy="47" r="1.1" fill="#e8161b" /><circle cx="301" cy="40.6" r="1.1" fill="#e8161b" /><circle cx="267.4" cy="34.1" r="1.1" fill="#e8161b" /><circle cx="277.4" cy="42" r="1.1" fill="#e8161b" /><circle cx="271.7" cy="46.3" r="1.1" fill="#e8161b" /><circle cx="261.7" cy="47.7" r="1.1" fill="#e8161b" /><circle cx="259.6" cy="42" r="1.1" fill="#e8161b" /><circle cx="278" cy="33" r="1.1" fill="#e8161b" /><circle cx="285" cy="32.5" r="1.1" fill="#e8161b" /><circle cx="281" cy="42" r="1.1" fill="#e8161b" /><circle cx="278.9" cy="36.3" r="1.1" fill="#e8161b" /><circle cx="277.4" cy="44.1" r="1.1" fill="#e8161b" /><circle cx="283.1" cy="54.1" r="1.1" fill="#e8161b" /><circle cx="274.6" cy="57" r="1.1" fill="#e8161b" /><circle cx="294.6" cy="52" r="1.1" fill="#e8161b" /><circle cx="303.9" cy="59.1" r="1.1" fill="#e8161b" /><circle cx="298.9" cy="64.1" r="1.1" fill="#e8161b" /><circle cx="288.9" cy="66.3" r="1.1" fill="#e8161b" /><circle cx="286.7" cy="60.6" r="1.1" fill="#e8161b" /><circle cx="276.5" cy="23" r="1.1" fill="#e8161b" /><circle cx="276" cy="29.3" r="1.1" fill="#e8161b" /><circle cx="263.9" cy="28.6" r="1.1" fill="#e8161b" /><circle cx="288" cy="27.5" r="1.1" fill="#e8161b" /><circle cx="281.7" cy="21.4" r="1.1" fill="#e8161b" /><circle cx="315.1" cy="22.9" r="1.1" fill="#e8161b" /><circle cx="316.6" cy="29.3" r="1.1" fill="#e8161b" /><circle cx="305" cy="21.4" r="1.1" fill="#e8161b" /><circle cx="283" cy="36.5" r="1.1" fill="#e8161b" /><circle cx="277" cy="36" r="1.1" fill="#e8161b" /><circle cx="264.6" cy="59.9" r="1.1" fill="#e8161b" /><circle cx="263.9" cy="54.1" r="1.1" fill="#e8161b" /><circle cx="280.3" cy="47" r="1.1" fill="#e8161b" /><circle cx="281.7" cy="66.3" r="1.1" fill="#e8161b" /><circle cx="276" cy="63.4" r="1.1" fill="#e8161b" /><circle cx="316" cy="57" r="1.1" fill="#e8161b" /><circle cx="306" cy="59.9" r="1.1" fill="#e8161b" /><circle cx="303.9" cy="53.4" r="1.1" fill="#e8161b" />
<line x1="263.4" y1="75" x2="263.4" y2="65.6" stroke="#2a3ad8" stroke-width="0.8" /><polygon points="263.4,63.6 262.3,66.2 264.5,66.2" fill="#2a3ad8" stroke="none" stroke-width="0" />
<line x1="263.4" y1="75" x2="269.8" y2="73.4" stroke="#22b02a" stroke-width="0.8" /><polygon points="271.6,72.9 269.2,72.2 269.7,74.3" fill="#22b02a" stroke="none" stroke-width="0" />
<line x1="263.4" y1="75" x2="257" y2="73" stroke="#e02020" stroke-width="0.8" /><polygon points="255.2,72.4 257.6,71.9 257,74" fill="#e02020" stroke="none" stroke-width="0" />
<text x="262.5" y="62.6" font-size="2.8" fill="#333" text-anchor="start" font-family="'Liberation Sans',Arial,sans-serif" font-weight="normal" >c</text>
<text x="272.6" y="74" font-size="2.8" fill="#333" text-anchor="start" font-family="'Liberation Sans',Arial,sans-serif" font-weight="normal" >b</text>
<text x="251.6" y="74" font-size="2.8" fill="#333" text-anchor="start" font-family="'Liberation Sans',Arial,sans-serif" font-weight="normal" >a</text>
<text x="252.2" y="18.4" font-size="5.4" fill="#222" text-anchor="start" font-family="'Liberation Sans',Arial,sans-serif" font-weight="bold" stroke="#222" stroke-width="0.2">Bi</text>
<text x="252.2" y="27.4" font-size="5.4" fill="#222" text-anchor="start" font-family="'Liberation Sans',Arial,sans-serif" font-weight="bold" >Fe</text>
<text x="252.6" y="49.4" font-size="5.4" fill="#222" text-anchor="start" font-family="'Liberation Sans',Arial,sans-serif" font-weight="bold" >O</text>
<text x="300.2" y="77.8" font-size="6" fill="#333" text-anchor="start" font-family="'Liberation Sans',Arial,sans-serif" font-weight="bold" textLength="17.5" lengthAdjust="spacingAndGlyphs" stroke="#333" stroke-width="0.2">BiFeO<tspan font-size="4" dy="1.2">3</tspan></text>
<g clip-path="url(#semclip0)"><g filter="url(#semtex0)">
<rect x="325.2" y="1.9" width="91.8" height="57.6" fill="#8e8e8e" stroke="none" stroke-width="0" />
<rect x="319" y="-4" width="38" height="20" fill="#6c6c6c" stroke="none" stroke-width="0" filter="url(#blur2)"/>
<rect x="357" y="-4" width="44" height="16" fill="#a6a6a6" stroke="none" stroke-width="0" filter="url(#blur2)"/>
<ellipse cx="380" cy="6" rx="16" ry="4" fill="#b4b4b4" filter="url(#blur1)" opacity="1" transform="rotate(0 380 6)"/>
<rect x="402" y="-4" width="22" height="31" fill="#383838" stroke="none" stroke-width="0" filter="url(#blur2)"/>
<rect x="319" y="14" width="20" height="18" fill="#888888" stroke="none" stroke-width="0" filter="url(#blur2)"/>
<rect x="339" y="13" width="62" height="35" fill="#979797" stroke="none" stroke-width="0" filter="url(#blur2)"/>
<ellipse cx="332" cy="36" rx="6" ry="5" fill="#bcbcbc" filter="url(#blur1)" opacity="1" transform="rotate(0 332 36)"/>
<rect x="319" y="43" width="22" height="23" fill="#323232" stroke="none" stroke-width="0" filter="url(#blur2)"/>
<rect x="340" y="49" width="42" height="17" fill="#6e6e6e" stroke="none" stroke-width="0" filter="url(#blur2)"/>
<rect x="401" y="26" width="23" height="22" fill="#8c8c8c" stroke="none" stroke-width="0" filter="url(#blur2)"/>
<ellipse cx="407" cy="40" rx="2" ry="7" fill="#bdbdbd" filter="url(#blur1)" opacity="1" transform="rotate(0 407 40)"/>
<rect x="382" y="48" width="42" height="18" fill="#7c7c7c" stroke="none" stroke-width="0" filter="url(#blur2)"/>
<path d="M356,9 Q380,0 401,7 Q413,18 410,34 Q409,44 404,52" fill="none" stroke="#b8b8b8" stroke-width="2.2" stroke-linecap="round" filter="url(#blur1)"/>
<path d="M346,13 Q338,24 338,40 Q340,50 352,53" fill="none" stroke="#646464" stroke-width="2" stroke-linecap="round" filter="url(#blur1)"/>
<path d="M326,30 Q334,28 338,34 Q336,44 327,47" fill="none" stroke="#c0c0c0" stroke-width="2" stroke-linecap="round" filter="url(#blur1)"/>
</g></g>
<rect x="328.3" y="4.1" width="11.6" height="1.2" fill="#ee1111" stroke="none" stroke-width="0" />
<text x="327" y="10.5" font-size="4.2" fill="#ee1111" text-anchor="start" font-family="'Liberation Sans',Arial,sans-serif" font-weight="bold" textLength="14.5" lengthAdjust="spacingAndGlyphs">300 nm</text>
<g clip-path="url(#semclip1)"><g filter="url(#semtex1)">
<rect x="325.2" y="70" width="91.8" height="58.5" fill="#909090" stroke="none" stroke-width="0" />
<rect x="319" y="64" width="18" height="14" fill="#8a8a8a" stroke="none" stroke-width="0" filter="url(#blur1)"/>
<rect x="319" y="79" width="15" height="25" fill="#3e3e3e" stroke="none" stroke-width="0" filter="url(#blur1)"/>
<ellipse cx="335.5" cy="92" rx="1.2" ry="11" fill="#b0b0b0" filter="url(#blur1)" opacity="1" transform="rotate(0 335.5 92)"/>
<rect x="319" y="103" width="15" height="32" fill="#727272" stroke="none" stroke-width="0" filter="url(#blur2)"/>
<ellipse cx="327" cy="118" rx="3" ry="3" fill="#b0b0b0" filter="url(#blur1)" opacity="1" transform="rotate(0 327 118)"/>
<rect x="336" y="64" width="36" height="71" fill="#8f8f8f" stroke="none" stroke-width="0" filter="url(#blur2)"/>
<ellipse cx="347.3" cy="98.7" rx="3.5" ry="4" fill="#d4d4d4" filter="url(#blur1)" opacity="1" transform="rotate(0 347.3 98.7)"/>
<rect x="372" y="64" width="52" height="53" fill="#999999" stroke="none" stroke-width="0" filter="url(#blur2)"/>
<ellipse cx="376" cy="78" rx="3" ry="10" fill="#b0b0b0" filter="url(#blur1)" opacity="1" transform="rotate(0 376 78)"/>
<rect x="405" y="117" width="19" height="18" fill="#5e5e5e" stroke="none" stroke-width="0" filter="url(#blur2)"/>
<rect x="338" y="117" width="67" height="18" fill="#9a9a9a" stroke="none" stroke-width="0" filter="url(#blur2)"/>
<path d="M334,72 Q331,86 335,100 Q338,112 346,124" fill="none" stroke="#b4b4b4" stroke-width="1.8" stroke-linecap="round" filter="url(#blur1)"/>
<path d="M372,70 Q370,80 374,92" fill="none" stroke="#b4b4b4" stroke-width="1.8" stroke-linecap="round" filter="url(#blur1)"/>
<path d="M352,108 Q362,114 372,128" fill="none" stroke="#b0b0b0" stroke-width="1.6" stroke-linecap="round" filter="url(#blur1)"/>
<rect x="319" y="80" width="14" height="23" fill="#3c3c3c" stroke="none" stroke-width="0" filter="url(#blur1)"/>
</g></g>
<rect x="328.3" y="72.2" width="11.6" height="1.2" fill="#ee1111" stroke="none" stroke-width="0" />
<text x="327" y="78.6" font-size="4.2" fill="#ee1111" text-anchor="start" font-family="'Liberation Sans',Arial,sans-serif" font-weight="bold" textLength="14.5" lengthAdjust="spacingAndGlyphs">300 nm</text>
<g clip-path="url(#semclip2)"><g filter="url(#semtex2)">
<rect x="325.2" y="132" width="91.8" height="58" fill="#7e7e7e" stroke="none" stroke-width="0" />
<rect x="319" y="126" width="105" height="15.5" fill="#8c8c8c" stroke="none" stroke-width="0" filter="url(#blur2)"/>
<polygon points="347,137 372,136 372,149 362,152 350,154 346,147" fill="#a6a6a6" stroke="none" stroke-width="0" filter="url(#blur1)"/>
<path d="M347,148 Q352,153 360,156" fill="none" stroke="#c4c4c4" stroke-width="2" stroke-linecap="round" filter="url(#blur1)"/>
<polygon points="325,144 338,143.5 340,152 336,161 325,162" fill="#979797" stroke="none" stroke-width="0" filter="url(#blur1)"/>
<ellipse cx="344" cy="155" rx="4.5" ry="5" fill="#484848" filter="url(#blur1)" opacity="1" transform="rotate(0 344 155)"/>
<ellipse cx="352" cy="154" rx="3.5" ry="3.5" fill="#505050" filter="url(#blur1)" opacity="1" transform="rotate(0 352 154)"/>
<polygon points="342,158 350,156.5 357,160 357.5,170 349,172 341.5,166" fill="#ababab" stroke="none" stroke-width="0" filter="url(#blur1)"/>
<path d="M343,160 Q349,157 356,161" fill="none" stroke="#c4c4c4" stroke-width="1.6" stroke-linecap="round" filter="url(#blur1)"/>
<polygon points="360,146 372,146 372,169 362,168 359,158" fill="#9a9a9a" stroke="none" stroke-width="0" filter="url(#blur1)"/>
<rect x="319" y="172" width="15" height="25" fill="#3e3e3e" stroke="none" stroke-width="0" filter="url(#blur1)"/>
<polygon points="334.5,170 350,169.5 357.5,176 352,184 336,183" fill="#979797" stroke="none" stroke-width="0" filter="url(#blur1)"/>
<rect x="360" y="172" width="12" height="7" fill="#5a5a5a" stroke="none" stroke-width="0" filter="url(#blur1)"/>
<polygon points="380,137 404,136.5 405,146 392,150.5 380,148" fill="#9e9e9e" stroke="none" stroke-width="0" filter="url(#blur1)"/>
<polygon points="370,137 379,137 379,166 370,166" fill="#8c8c8c" stroke="none" stroke-width="0" filter="url(#blur1)"/>
<polygon points="384,151 404,150 405,160 398,165 385,164" fill="#9a9a9a" stroke="none" stroke-width="0" filter="url(#blur1)"/>
<polygon points="405,137 418,136 418,165 410,165 406,155" fill="#bdbdbd" stroke="none" stroke-width="0" filter="url(#blur1)"/>
<path d="M406,139 Q405,150 410,163" fill="none" stroke="#cccccc" stroke-width="1.8" stroke-linecap="round" filter="url(#blur1)"/>
<ellipse cx="406.5" cy="156" rx="2" ry="9" fill="#4a4a4a" filter="url(#blur1)" opacity="1" transform="rotate(0 406.5 156)"/>
<ellipse cx="382.5" cy="168" rx="3.5" ry="5.5" fill="#4e4e4e" filter="url(#blur1)" opacity="1" transform="rotate(0 382.5 168)"/>
<polygon points="384,167 406,167 407.5,180 394,182 385,178" fill="#999999" stroke="none" stroke-width="0" filter="url(#blur1)"/>
<rect x="408" y="167" width="16" height="12" fill="#5a5a5a" stroke="none" stroke-width="0" filter="url(#blur1)"/>
<rect x="357" y="179" width="67" height="18" fill="#868686" stroke="none" stroke-width="0" filter="url(#blur2)"/>
</g></g>
<rect x="328.3" y="134.2" width="11.6" height="1.2" fill="#ee1111" stroke="none" stroke-width="0" />
<text x="327" y="140.6" font-size="4.2" fill="#ee1111" text-anchor="start" font-family="'Liberation Sans',Arial,sans-serif" font-weight="bold" textLength="14.5" lengthAdjust="spacingAndGlyphs">300 nm</text>
<g clip-path="url(#semclip3)"><g filter="url(#semtex3)">
<rect x="325.2" y="193" width="91.8" height="59.5" fill="#828282" stroke="none" stroke-width="0" />
<rect x="319" y="187" width="13" height="11" fill="#aaaaaa" stroke="none" stroke-width="0" filter="url(#blur1)"/>
<polygon points="325,199.5 336.7,200 337,207 325,207" fill="#bdbdbd" stroke="none" stroke-width="0" filter="url(#blur1)"/>
<polygon points="325,207 336.7,207 338,219 325,219" fill="#5c5c5c" stroke="none" stroke-width="0" filter="url(#blur1)"/>
<polygon points="343.7,193 372,193 372,204.7 343.7,204.7" fill="#b2b2b2" stroke="none" stroke-width="0" filter="url(#blur1)"/>
<polygon points="336.7,204.7 355.4,204.7 355.4,218.8 336.7,218.8" fill="#8c8c8c" stroke="none" stroke-width="0" filter="url(#blur1)"/>
<polygon points="339,207 350.8,206.5 351,215.5 340,216.4" fill="#a0a0a0" stroke="none" stroke-width="0" filter="url(#blur1)"/>
<polygon points="348.4,212 372,211.7 372,232.8 348.4,232.8" fill="#929292" stroke="none" stroke-width="0" filter="url(#blur1)"/>
<polygon points="355.4,219 367,218.8 367.2,230 356,230.5" fill="#a8a8a8" stroke="none" stroke-width="0" filter="url(#blur1)"/>
<rect x="319" y="219" width="20" height="40" fill="#787878" stroke="none" stroke-width="0" filter="url(#blur2)"/>
<rect x="339" y="233" width="33" height="26" fill="#848484" stroke="none" stroke-width="0" filter="url(#blur2)"/>
<rect x="372" y="187" width="52" height="15" fill="#929292" stroke="none" stroke-width="0" filter="url(#blur2)"/>
<polygon points="370,202.4 379.4,202.4 379.4,228 370,228" fill="#838383" stroke="none" stroke-width="0" filter="url(#blur1)"/>
<polygon points="383,208 392,205.5 400.4,208 400,220 392,225.8 384,219" fill="#b0b0b0" stroke="none" stroke-width="0" filter="url(#blur1)"/>
<path d="M383.5,219 Q383,209 392,206 Q397,206 400,209" fill="none" stroke="#cccccc" stroke-width="2" stroke-linecap="round" filter="url(#blur1)"/>
<polygon points="398,193 412,193 412,223.4 400,222" fill="#a6a6a6" stroke="none" stroke-width="0" filter="url(#blur1)"/>
<polygon points="412,200 418,200 418,228 412,228" fill="#adadad" stroke="none" stroke-width="0" filter="url(#blur1)"/>
<ellipse cx="380.5" cy="227" rx="3.5" ry="13" fill="#4c4c4c" filter="url(#blur1)" opacity="1" transform="rotate(0 380.5 227)"/>
<ellipse cx="392" cy="232" rx="3.5" ry="8" fill="#525252" filter="url(#blur1)" opacity="1" transform="rotate(0 392 232)"/>
<polygon points="398,224 418,223.4 418,253 398,253" fill="#999999" stroke="none" stroke-width="0" filter="url(#blur1)"/>
<path d="M399,226 Q408,226 416,236" fill="none" stroke="#c0c0c0" stroke-width="1.8" stroke-linecap="round" filter="url(#blur1)"/>
<rect x="372" y="240" width="26" height="19" fill="#808080" stroke="none" stroke-width="0" filter="url(#blur2)"/>
</g></g>
<rect x="328.3" y="195.2" width="11.6" height="1.2" fill="#ee1111" stroke="none" stroke-width="0" />
<text x="327" y="201.6" font-size="4.2" fill="#ee1111" text-anchor="start" font-family="'Liberation Sans',Arial,sans-serif" font-weight="bold" textLength="14.5" lengthAdjust="spacingAndGlyphs">300 nm</text>
<text x="392.6" y="56.2" font-size="7" fill="#111" text-anchor="start" font-family="'Liberation Sans',Arial,sans-serif" font-weight="bold" textLength="23.6" lengthAdjust="spacingAndGlyphs">BiFeO<tspan font-size="4.6" dy="1.6">3</tspan><tspan dy="-1.6">​</tspan></text>
<text x="342.5" y="123.3" font-size="6.6" fill="#111" text-anchor="start" font-family="'Liberation Sans',Arial,sans-serif" font-weight="bold" textLength="72.8" lengthAdjust="spacingAndGlyphs">Bi<tspan font-size="4.6" dy="1.6">0.90</tspan><tspan dy="-1.6">​</tspan>Y<tspan font-size="4.6" dy="1.6">0.10</tspan><tspan dy="-1.6">​</tspan>Fe<tspan font-size="4.6" dy="1.6">0.95</tspan><tspan dy="-1.6">​</tspan>Cu<tspan font-size="4.6" dy="1.6">0.05</tspan><tspan dy="-1.6">​</tspan>O<tspan font-size="4.6" dy="1.6">3</tspan><tspan dy="-1.6">​</tspan></text>
<text x="342.5" y="185.3" font-size="6.6" fill="#111" text-anchor="start" font-family="'Liberation Sans',Arial,sans-serif" font-weight="bold" textLength="72.8" lengthAdjust="spacingAndGlyphs">Bi<tspan font-size="4.6" dy="1.6">0.90</tspan><tspan dy="-1.6">​</tspan>Y<tspan font-size="4.6" dy="1.6">0.10</tspan><tspan dy="-1.6">​</tspan>Fe<tspan font-size="4.6" dy="1.6">0.90</tspan><tspan dy="-1.6">​</tspan>Cu<tspan font-size="4.6" dy="1.6">0.10</tspan><tspan dy="-1.6">​</tspan>O<tspan font-size="4.6" dy="1.6">3</tspan><tspan dy="-1.6">​</tspan></text>
<text x="335.3" y="247.3" font-size="6.6" fill="#111" text-anchor="start" font-family="'Liberation Sans',Arial,sans-serif" font-weight="bold" textLength="69" lengthAdjust="spacingAndGlyphs">Bi<tspan font-size="4.6" dy="1.6">0.90</tspan><tspan dy="-1.6">​</tspan>Y<tspan font-size="4.6" dy="1.6">0.10</tspan><tspan dy="-1.6">​</tspan>Fe<tspan font-size="4.6" dy="1.6">0.85</tspan><tspan dy="-1.6">​</tspan>Cu<tspan font-size="4.6" dy="1.6">0.15</tspan><tspan dy="-1.6">​</tspan>O<tspan font-size="4.6" dy="1.6">3</tspan><tspan dy="-1.6">​</tspan></text>
<rect x="40.9" y="86" width="1.4" height="5" fill="#8ee8f2" stroke="none" stroke-width="0" />
<rect x="44.5" y="79.5" width="1.4" height="11.5" fill="#8ee8f2" stroke="none" stroke-width="0" />
<rect x="49.8" y="85.5" width="1.4" height="5.5" fill="#8ee8f2" stroke="none" stroke-width="0" />
<rect x="57" y="85.5" width="1.4" height="5.5" fill="#8ee8f2" stroke="none" stroke-width="0" />
<rect x="60.5" y="86" width="1.4" height="5" fill="#8ee8f2" stroke="none" stroke-width="0" />
<rect x="67.3" y="85.5" width="1.4" height="5.5" fill="#8ee8f2" stroke="none" stroke-width="0" />
<rect x="72.3" y="84" width="1.4" height="7" fill="#8ee8f2" stroke="none" stroke-width="0" />
<rect x="84.8" y="86" width="1.4" height="5" fill="#8ee8f2" stroke="none" stroke-width="0" />
<rect x="87.5" y="86.5" width="1.4" height="4.5" fill="#8ee8f2" stroke="none" stroke-width="0" />
<rect x="46.4" y="84" width="1.2" height="7" fill="#f6c08e" stroke="none" stroke-width="0" />
<rect x="46.7" y="84.6" width="0.6" height="3.15" fill="#e09a5a" stroke="none" stroke-width="0" />
<rect x="59.3" y="86.5" width="1.2" height="4.5" fill="#f6c08e" stroke="none" stroke-width="0" />
<rect x="70.4" y="86.5" width="1.2" height="4.5" fill="#f6c08e" stroke="none" stroke-width="0" />
<rect x="76.4" y="86" width="1.2" height="5" fill="#f6c08e" stroke="none" stroke-width="0" />
<rect x="80.4" y="84" width="1.2" height="7" fill="#f6c08e" stroke="none" stroke-width="0" />
<rect x="80.7" y="84.6" width="0.6" height="3.15" fill="#e09a5a" stroke="none" stroke-width="0" />
<rect x="86.7" y="81" width="1.2" height="10" fill="#f6c08e" stroke="none" stroke-width="0" />
<rect x="87" y="81.6" width="0.6" height="4.5" fill="#e09a5a" stroke="none" stroke-width="0" />
<rect x="90.3" y="87" width="1.2" height="4" fill="#f6c08e" stroke="none" stroke-width="0" />
<rect x="99.6" y="87" width="1.2" height="4" fill="#f6c08e" stroke="none" stroke-width="0" />
<rect x="103.4" y="87.5" width="1.2" height="3.5" fill="#f6c08e" stroke="none" stroke-width="0" />
<rect x="36.8" y="84.5" width="1.6" height="6.5" fill="#9cd49c" stroke="none" stroke-width="0" />
<rect x="37.25" y="85.1" width="0.7" height="2.93" fill="#5f9f5f" stroke="none" stroke-width="0" />
<rect x="51.95" y="81" width="1.6" height="10" fill="#9cd49c" stroke="none" stroke-width="0" />
<rect x="52.4" y="81.6" width="0.7" height="4.5" fill="#5f9f5f" stroke="none" stroke-width="0" />
<rect x="62.2" y="82" width="1.6" height="9" fill="#9cd49c" stroke="none" stroke-width="0" />
<rect x="62.65" y="82.6" width="0.7" height="4.05" fill="#5f9f5f" stroke="none" stroke-width="0" />
<rect x="74" y="85.5" width="1.6" height="5.5" fill="#9cd49c" stroke="none" stroke-width="0" />
<rect x="74.45" y="86.1" width="0.7" height="2.48" fill="#5f9f5f" stroke="none" stroke-width="0" />
<rect x="83.4" y="81" width="1.6" height="10" fill="#9cd49c" stroke="none" stroke-width="0" />
<rect x="83.85" y="81.6" width="0.7" height="4.5" fill="#5f9f5f" stroke="none" stroke-width="0" />
<rect x="90.5" y="81" width="1.6" height="10" fill="#9cd49c" stroke="none" stroke-width="0" />
<rect x="90.95" y="81.6" width="0.7" height="4.5" fill="#5f9f5f" stroke="none" stroke-width="0" />
<rect x="107" y="87" width="1.6" height="4" fill="#9cd49c" stroke="none" stroke-width="0" />
<rect x="45.9" y="87.5" width="1.4" height="3.5" fill="#f0a0f2" stroke="none" stroke-width="0" />
<rect x="78.1" y="87" width="1.4" height="4" fill="#f0a0f2" stroke="none" stroke-width="0" />
<rect x="37.1" y="91.9" width="1" height="1" fill="#9cd49c" stroke="none" stroke-width="0" />
<rect x="52.25" y="91.9" width="1" height="1" fill="#9cd49c" stroke="none" stroke-width="0" />
<rect x="62.5" y="91.9" width="1" height="1" fill="#9cd49c" stroke="none" stroke-width="0" />
<rect x="74.3" y="91.9" width="1" height="1" fill="#9cd49c" stroke="none" stroke-width="0" />
<rect x="83.7" y="91.9" width="1" height="1" fill="#9cd49c" stroke="none" stroke-width="0" />
<rect x="90.8" y="91.9" width="1" height="1" fill="#9cd49c" stroke="none" stroke-width="0" />
<rect x="107.3" y="91.9" width="1" height="1" fill="#9cd49c" stroke="none" stroke-width="0" />
<rect x="46.6" y="93.8" width="0.8" height="1" fill="#f6c08e" stroke="none" stroke-width="0" />
<rect x="59.5" y="93.8" width="0.8" height="1" fill="#f6c08e" stroke="none" stroke-width="0" />
<rect x="70.6" y="93.8" width="0.8" height="1" fill="#f6c08e" stroke="none" stroke-width="0" />
<rect x="76.6" y="93.8" width="0.8" height="1" fill="#f6c08e" stroke="none" stroke-width="0" />
<rect x="80.6" y="93.8" width="0.8" height="1" fill="#f6c08e" stroke="none" stroke-width="0" />
<rect x="86.9" y="93.8" width="0.8" height="1" fill="#f6c08e" stroke="none" stroke-width="0" />
<rect x="90.5" y="93.8" width="0.8" height="1" fill="#f6c08e" stroke="none" stroke-width="0" />
<rect x="41.2" y="93.8" width="0.8" height="1" fill="#8ee8f2" stroke="none" stroke-width="0" />
<rect x="44.8" y="93.8" width="0.8" height="1" fill="#8ee8f2" stroke="none" stroke-width="0" />
<rect x="50.1" y="93.8" width="0.8" height="1" fill="#8ee8f2" stroke="none" stroke-width="0" />
<rect x="57.3" y="93.8" width="0.8" height="1" fill="#8ee8f2" stroke="none" stroke-width="0" />
<rect x="60.8" y="93.8" width="0.8" height="1" fill="#8ee8f2" stroke="none" stroke-width="0" />
<rect x="67.6" y="93.8" width="0.8" height="1" fill="#8ee8f2" stroke="none" stroke-width="0" />
<polyline points="34.7,91 34.95,91 35.2,91 35.45,91 35.7,91 35.95,91 36.2,91 36.45,90.99 36.7,90.93 36.95,90.5 37.2,89.18 37.45,87.42 37.7,87.19 37.95,88.82 38.2,90.32 38.45,90.89 38.7,90.99 38.95,91 39.2,91 39.45,91 39.7,91 39.95,91 40.2,91 40.45,91 40.7,91 40.95,91 41.2,91 41.45,91 41.7,91 41.95,91 42.2,91 42.45,91 42.7,91 42.95,91 43.2,91 43.45,91 43.7,91 43.95,91 44.2,91 44.45,91 44.7,91 44.95,91 45.2,91 45.45,90.97 45.7,90.73 45.95,89.9 46.2,88.54 46.45,88.04 46.7,89.08 46.95,90.33 47.2,90.87 47.45,90.99 47.7,91 47.95,91 48.2,91 48.45,91 48.7,91 48.95,91 49.2,91 49.45,91 49.7,91 49.95,91 50.2,91 50.45,91 50.7,91 50.95,91 51.2,91 51.45,91 51.7,90.98 51.95,90.83 52.2,89.99 52.45,87.72 52.7,85.29 52.95,85.63 53.2,88.28 53.45,90.26 53.7,90.89 53.95,90.99 54.2,91 54.45,91 54.7,91 54.95,91 55.2,91 55.45,91 55.7,91 55.95,91 56.2,91 56.45,91 56.7,91 56.95,91 57.2,91 57.45,91 57.7,91 57.95,91 58.2,91 58.45,91 58.7,91 58.95,91 59.2,91 59.45,91 59.7,91 59.95,91 60.2,91 60.45,91 60.7,91 60.95,91 61.2,91 61.45,91 61.7,91 61.95,90.99 62.2,90.88 62.45,90.37 62.7,89.2 62.95,88.23 63.2,88.7 63.45,89.97 63.7,90.75 63.95,90.97 64.2,91 64.45,91 64.7,91 64.95,91 65.2,91 65.45,91 65.7,91 65.95,91 66.2,91 66.45,91 66.7,91 66.95,91 67.2,91 67.45,91 67.7,91 67.95,91 68.2,91 68.45,91 68.7,91 68.95,91 69.2,91 69.45,91 69.7,91 69.95,91 70.2,91 70.45,91 70.7,91 70.95,91 71.2,91 71.45,91 71.7,91 71.95,91 72.2,91 72.45,91 72.7,91 72.95,91 73.2,91 73.45,91 73.7,91 73.95,90.99 74.2,90.92 74.45,90.55 74.7,89.72 74.95,89.02 75.2,89.36 75.45,90.26 75.7,90.82 75.95,90.98 76.2,91 76.45,91 76.7,91 76.95,91 77.2,91 77.45,91 77.7,91 77.95,91 78.2,91 78.45,91 78.7,91 78.95,91 79.2,91 79.45,91 79.7,91 79.95,91 80.2,91 80.45,91 80.7,91 80.95,91 81.2,91 81.45,91 81.7,91 81.95,91 82.2,91 82.45,91 82.7,91 82.95,91 83.2,90.98 83.45,90.83 83.7,90.19 83.95,88.94 84.2,88.2 84.45,88.94 84.7,90.19 84.95,90.83 85.2,90.98 85.45,91 85.7,91 85.95,91 86.2,91 86.45,91 86.7,91 86.95,91 87.2,91 87.45,91 87.7,91 87.95,91 88.2,91 88.45,91 88.7,91 88.95,91 89.2,91 89.45,91 89.7,91 89.95,91 90.2,90.99 90.45,90.9 90.7,90.41 90.95,89.09 91.2,87.67 91.45,87.87 91.7,89.41 91.95,90.57 92.2,90.94 92.45,90.99 92.7,91 92.95,91 93.2,91 93.45,91 93.7,91 93.95,91 94.2,91 94.45,91 94.7,91 94.95,91 95.2,91 95.45,91 95.7,91 95.95,91 96.2,91 96.45,91 96.7,91 96.95,91 97.2,91 97.45,91 97.7,91 97.95,91 98.2,91 98.45,91 98.7,91 98.95,91 99.2,91 99.45,91 99.7,91 99.95,91 100.2,91 100.45,91 100.7,91 100.95,91 101.2,91 101.45,91 101.7,91 101.95,91 102.2,91 102.45,91 102.7,91 102.95,91 103.2,91 103.45,91 103.7,91 103.95,91 104.2,91 104.45,91 104.7,91 104.95,91 105.2,91 105.45,91 105.7,91 105.95,91 106.2,91 106.45,91 106.7,91 106.95,90.99 107.2,90.93 107.45,90.64 107.7,89.97 107.95,89.42 108.2,89.69 108.45,90.41 108.7,90.86 108.95,90.98 109.2,91 109.45,91 109.7,91 109.95,91 110.2,91 110.45,91 110.7,91 110.95,91 111.2,91 111.45,91 111.7,91 111.95,91 112.2,91 112.45,91 112.7,91" fill="none" stroke="#d81c1c" stroke-width="1.25" stroke-linejoin="round" stroke-linecap="round" />
<line x1="34.7" y1="96.2" x2="112.7" y2="96.2" stroke="#d6e4f7" stroke-width="1.1" />
<line x1="34.7" y1="96.2" x2="112.7" y2="96.2" stroke="#78a8ea" stroke-width="0.5" stroke-dasharray="1.2,0.8"/>
<rect x="35.1" y="78" width="8.4" height="2.3" fill="#f2e630" stroke="none" stroke-width="0" />
<text x="39.3" y="79.8" font-size="1.8" fill="#555" text-anchor="middle" font-family="'Liberation Sans',Arial,sans-serif" font-weight="normal" >BYFCO-3</text>
<rect x="50.5" y="78" width="62" height="3" fill="#e6f4d6" stroke="none" stroke-width="0" />
<rect x="94.4" y="78" width="17.9" height="4.4" fill="#e6f4d6" stroke="none" stroke-width="0" />
<rect x="40.9" y="104.6" width="1.4" height="5" fill="#8ee8f2" stroke="none" stroke-width="0" />
<rect x="44.5" y="98.5" width="1.4" height="11.1" fill="#8ee8f2" stroke="none" stroke-width="0" />
<rect x="49.8" y="104.1" width="1.4" height="5.5" fill="#8ee8f2" stroke="none" stroke-width="0" />
<rect x="57" y="104.1" width="1.4" height="5.5" fill="#8ee8f2" stroke="none" stroke-width="0" />
<rect x="60.5" y="104.6" width="1.4" height="5" fill="#8ee8f2" stroke="none" stroke-width="0" />
<rect x="67.3" y="104.1" width="1.4" height="5.5" fill="#8ee8f2" stroke="none" stroke-width="0" />
<rect x="72.3" y="102.6" width="1.4" height="7" fill="#8ee8f2" stroke="none" stroke-width="0" />
<rect x="84.8" y="104.6" width="1.4" height="5" fill="#8ee8f2" stroke="none" stroke-width="0" />
<rect x="87.5" y="105.1" width="1.4" height="4.5" fill="#8ee8f2" stroke="none" stroke-width="0" />
<rect x="46.4" y="102.6" width="1.2" height="7" fill="#f6c08e" stroke="none" stroke-width="0" />
<rect x="46.7" y="103.2" width="0.6" height="3.15" fill="#e09a5a" stroke="none" stroke-width="0" />
<rect x="59.3" y="105.1" width="1.2" height="4.5" fill="#f6c08e" stroke="none" stroke-width="0" />
<rect x="70.4" y="105.1" width="1.2" height="4.5" fill="#f6c08e" stroke="none" stroke-width="0" />
<rect x="76.4" y="104.6" width="1.2" height="5" fill="#f6c08e" stroke="none" stroke-width="0" />
<rect x="80.4" y="102.6" width="1.2" height="7" fill="#f6c08e" stroke="none" stroke-width="0" />
<rect x="80.7" y="103.2" width="0.6" height="3.15" fill="#e09a5a" stroke="none" stroke-width="0" />
<rect x="86.7" y="99.6" width="1.2" height="10" fill="#f6c08e" stroke="none" stroke-width="0" />
<rect x="87" y="100.2" width="0.6" height="4.5" fill="#e09a5a" stroke="none" stroke-width="0" />
<rect x="90.3" y="105.6" width="1.2" height="4" fill="#f6c08e" stroke="none" stroke-width="0" />
<rect x="99.6" y="105.6" width="1.2" height="4" fill="#f6c08e" stroke="none" stroke-width="0" />
<rect x="103.4" y="106.1" width="1.2" height="3.5" fill="#f6c08e" stroke="none" stroke-width="0" />
<rect x="36.8" y="103.1" width="1.6" height="6.5" fill="#9cd49c" stroke="none" stroke-width="0" />
<rect x="37.25" y="103.7" width="0.7" height="2.93" fill="#5f9f5f" stroke="none" stroke-width="0" />
<rect x="51.95" y="99.6" width="1.6" height="10" fill="#9cd49c" stroke="none" stroke-width="0" />
<rect x="52.4" y="100.2" width="0.7" height="4.5" fill="#5f9f5f" stroke="none" stroke-width="0" />
<rect x="62.2" y="100.6" width="1.6" height="9" fill="#9cd49c" stroke="none" stroke-width="0" />
<rect x="62.65" y="101.2" width="0.7" height="4.05" fill="#5f9f5f" stroke="none" stroke-width="0" />
<rect x="74" y="104.1" width="1.6" height="5.5" fill="#9cd49c" stroke="none" stroke-width="0" />
<rect x="74.45" y="104.7" width="0.7" height="2.48" fill="#5f9f5f" stroke="none" stroke-width="0" />
<rect x="83.4" y="99.6" width="1.6" height="10" fill="#9cd49c" stroke="none" stroke-width="0" />
<rect x="83.85" y="100.2" width="0.7" height="4.5" fill="#5f9f5f" stroke="none" stroke-width="0" />
<rect x="90.5" y="99.6" width="1.6" height="10" fill="#9cd49c" stroke="none" stroke-width="0" />
<rect x="90.95" y="100.2" width="0.7" height="4.5" fill="#5f9f5f" stroke="none" stroke-width="0" />
<rect x="107" y="105.6" width="1.6" height="4" fill="#9cd49c" stroke="none" stroke-width="0" />
<rect x="45.9" y="106.1" width="1.4" height="3.5" fill="#f0a0f2" stroke="none" stroke-width="0" />
<rect x="78.1" y="105.6" width="1.4" height="4" fill="#f0a0f2" stroke="none" stroke-width="0" />
<rect x="37.1" y="110.5" width="1" height="1" fill="#9cd49c" stroke="none" stroke-width="0" />
<rect x="52.25" y="110.5" width="1" height="1" fill="#9cd49c" stroke="none" stroke-width="0" />
<rect x="62.5" y="110.5" width="1" height="1" fill="#9cd49c" stroke="none" stroke-width="0" />
<rect x="74.3" y="110.5" width="1" height="1" fill="#9cd49c" stroke="none" stroke-width="0" />
<rect x="83.7" y="110.5" width="1" height="1" fill="#9cd49c" stroke="none" stroke-width="0" />
<rect x="90.8" y="110.5" width="1" height="1" fill="#9cd49c" stroke="none" stroke-width="0" />
<rect x="107.3" y="110.5" width="1" height="1" fill="#9cd49c" stroke="none" stroke-width="0" />
<rect x="46.6" y="112.4" width="0.8" height="1" fill="#f6c08e" stroke="none" stroke-width="0" />
<rect x="59.5" y="112.4" width="0.8" height="1" fill="#f6c08e" stroke="none" stroke-width="0" />
<rect x="70.6" y="112.4" width="0.8" height="1" fill="#f6c08e" stroke="none" stroke-width="0" />
<rect x="76.6" y="112.4" width="0.8" height="1" fill="#f6c08e" stroke="none" stroke-width="0" />
<rect x="80.6" y="112.4" width="0.8" height="1" fill="#f6c08e" stroke="none" stroke-width="0" />
<rect x="86.9" y="112.4" width="0.8" height="1" fill="#f6c08e" stroke="none" stroke-width="0" />
<rect x="90.5" y="112.4" width="0.8" height="1" fill="#f6c08e" stroke="none" stroke-width="0" />
<rect x="41.2" y="112.4" width="0.8" height="1" fill="#8ee8f2" stroke="none" stroke-width="0" />
<rect x="44.8" y="112.4" width="0.8" height="1" fill="#8ee8f2" stroke="none" stroke-width="0" />
<rect x="50.1" y="112.4" width="0.8" height="1" fill="#8ee8f2" stroke="none" stroke-width="0" />
<rect x="57.3" y="112.4" width="0.8" height="1" fill="#8ee8f2" stroke="none" stroke-width="0" />
<rect x="60.8" y="112.4" width="0.8" height="1" fill="#8ee8f2" stroke="none" stroke-width="0" />
<rect x="67.6" y="112.4" width="0.8" height="1" fill="#8ee8f2" stroke="none" stroke-width="0" />
<polyline points="34.7,109.6 34.95,109.6 35.2,109.6 35.45,109.6 35.7,109.6 35.95,109.6 36.2,109.6 36.45,109.59 36.7,109.53 36.95,109.1 37.2,107.78 37.45,106.02 37.7,105.79 37.95,107.42 38.2,108.92 38.45,109.49 38.7,109.59 38.95,109.6 39.2,109.6 39.45,109.6 39.7,109.6 39.95,109.6 40.2,109.6 40.45,109.6 40.7,109.6 40.95,109.6 41.2,109.6 41.45,109.6 41.7,109.6 41.95,109.6 42.2,109.6 42.45,109.6 42.7,109.6 42.95,109.6 43.2,109.6 43.45,109.6 43.7,109.6 43.95,109.6 44.2,109.6 44.45,109.6 44.7,109.6 44.95,109.6 45.2,109.6 45.45,109.57 45.7,109.33 45.95,108.5 46.2,107.14 46.45,106.64 46.7,107.68 46.95,108.93 47.2,109.47 47.45,109.59 47.7,109.6 47.95,109.6 48.2,109.6 48.45,109.6 48.7,109.6 48.95,109.6 49.2,109.6 49.45,109.6 49.7,109.6 49.95,109.6 50.2,109.6 50.45,109.6 50.7,109.6 50.95,109.6 51.2,109.6 51.45,109.6 51.7,109.58 51.95,109.43 52.2,108.59 52.45,106.32 52.7,103.89 52.95,104.23 53.2,106.88 53.45,108.86 53.7,109.49 53.95,109.59 54.2,109.6 54.45,109.6 54.7,109.6 54.95,109.6 55.2,109.6 55.45,109.6 55.7,109.6 55.95,109.6 56.2,109.6 56.45,109.6 56.7,109.6 56.95,109.6 57.2,109.6 57.45,109.6 57.7,109.6 57.95,109.6 58.2,109.6 58.45,109.6 58.7,109.6 58.95,109.6 59.2,109.6 59.45,109.6 59.7,109.6 59.95,109.6 60.2,109.6 60.45,109.6 60.7,109.6 60.95,109.6 61.2,109.6 61.45,109.6 61.7,109.6 61.95,109.59 62.2,109.48 62.45,108.97 62.7,107.8 62.95,106.83 63.2,107.3 63.45,108.57 63.7,109.35 63.95,109.57 64.2,109.6 64.45,109.6 64.7,109.6 64.95,109.6 65.2,109.6 65.45,109.6 65.7,109.6 65.95,109.6 66.2,109.6 66.45,109.6 66.7,109.6 66.95,109.6 67.2,109.6 67.45,109.6 67.7,109.6 67.95,109.6 68.2,109.6 68.45,109.6 68.7,109.6 68.95,109.6 69.2,109.6 69.45,109.6 69.7,109.6 69.95,109.6 70.2,109.6 70.45,109.6 70.7,109.6 70.95,109.6 71.2,109.6 71.45,109.6 71.7,109.6 71.95,109.6 72.2,109.6 72.45,109.6 72.7,109.6 72.95,109.6 73.2,109.6 73.45,109.6 73.7,109.6 73.95,109.59 74.2,109.52 74.45,109.15 74.7,108.32 74.95,107.62 75.2,107.96 75.45,108.86 75.7,109.42 75.95,109.58 76.2,109.6 76.45,109.6 76.7,109.6 76.95,109.6 77.2,109.6 77.45,109.6 77.7,109.6 77.95,109.6 78.2,109.6 78.45,109.6 78.7,109.6 78.95,109.6 79.2,109.6 79.45,109.6 79.7,109.6 79.95,109.6 80.2,109.6 80.45,109.6 80.7,109.6 80.95,109.6 81.2,109.6 81.45,109.6 81.7,109.6 81.95,109.6 82.2,109.6 82.45,109.6 82.7,109.6 82.95,109.6 83.2,109.58 83.45,109.43 83.7,108.79 83.95,107.54 84.2,106.8 84.45,107.54 84.7,108.79 84.95,109.43 85.2,109.58 85.45,109.6 85.7,109.6 85.95,109.6 86.2,109.6 86.45,109.6 86.7,109.6 86.95,109.6 87.2,109.6 87.45,109.6 87.7,109.6 87.95,109.6 88.2,109.6 88.45,109.6 88.7,109.6 88.95,109.6 89.2,109.6 89.45,109.6 89.7,109.6 89.95,109.6 90.2,109.59 90.45,109.5 90.7,109.01 90.95,107.69 91.2,106.27 91.45,106.47 91.7,108.01 91.95,109.17 92.2,109.54 92.45,109.59 92.7,109.6 92.95,109.6 93.2,109.6 93.45,109.6 93.7,109.6 93.95,109.6 94.2,109.6 94.45,109.6 94.7,109.6 94.95,109.6 95.2,109.6 95.45,109.6 95.7,109.6 95.95,109.6 96.2,109.6 96.45,109.6 96.7,109.6 96.95,109.6 97.2,109.6 97.45,109.6 97.7,109.6 97.95,109.6 98.2,109.6 98.45,109.6 98.7,109.6 98.95,109.6 99.2,109.6 99.45,109.6 99.7,109.6 99.95,109.6 100.2,109.6 100.45,109.6 100.7,109.6 100.95,109.6 101.2,109.6 101.45,109.6 101.7,109.6 101.95,109.6 102.2,109.6 102.45,109.6 102.7,109.6 102.95,109.6 103.2,109.6 103.45,109.6 103.7,109.6 103.95,109.6 104.2,109.6 104.45,109.6 104.7,109.6 104.95,109.6 105.2,109.6 105.45,109.6 105.7,109.6 105.95,109.6 106.2,109.6 106.45,109.6 106.7,109.6 106.95,109.59 107.2,109.53 107.45,109.24 107.7,108.57 107.95,108.02 108.2,108.29 108.45,109.01 108.7,109.46 108.95,109.58 109.2,109.6 109.45,109.6 109.7,109.6 109.95,109.6 110.2,109.6 110.45,109.6 110.7,109.6 110.95,109.6 111.2,109.6 111.45,109.6 111.7,109.6 111.95,109.6 112.2,109.6 112.45,109.6 112.7,109.6" fill="none" stroke="#d81c1c" stroke-width="1.25" stroke-linejoin="round" stroke-linecap="round" />
<line x1="34.7" y1="116.2" x2="112.7" y2="116.2" stroke="#d6e4f7" stroke-width="1.1" />
<line x1="34.7" y1="116.2" x2="112.7" y2="116.2" stroke="#78a8ea" stroke-width="0.5" stroke-dasharray="1.2,0.8"/>
<rect x="35.1" y="98.1" width="8.4" height="2.3" fill="#f2e630" stroke="none" stroke-width="0" />
<text x="39.3" y="99.9" font-size="1.8" fill="#555" text-anchor="middle" font-family="'Liberation Sans',Arial,sans-serif" font-weight="normal" >BYFCO-2</text>
<rect x="94.4" y="98.8" width="17.9" height="4.5" fill="#e6f4d6" stroke="none" stroke-width="0" />
<rect x="40.9" y="125.85" width="1.4" height="4.75" fill="#8ee8f2" stroke="none" stroke-width="0" />
<rect x="44.5" y="119.67" width="1.4" height="10.92" fill="#8ee8f2" stroke="none" stroke-width="0" />
<rect x="49.8" y="125.38" width="1.4" height="5.22" fill="#8ee8f2" stroke="none" stroke-width="0" />
<rect x="57" y="125.38" width="1.4" height="5.22" fill="#8ee8f2" stroke="none" stroke-width="0" />
<rect x="60.5" y="125.85" width="1.4" height="4.75" fill="#8ee8f2" stroke="none" stroke-width="0" />
<rect x="67.3" y="125.38" width="1.4" height="5.22" fill="#8ee8f2" stroke="none" stroke-width="0" />
<rect x="72.3" y="123.95" width="1.4" height="6.65" fill="#8ee8f2" stroke="none" stroke-width="0" />
<rect x="84.8" y="125.85" width="1.4" height="4.75" fill="#8ee8f2" stroke="none" stroke-width="0" />
<rect x="87.5" y="126.32" width="1.4" height="4.27" fill="#8ee8f2" stroke="none" stroke-width="0" />
<rect x="46.4" y="123.95" width="1.2" height="6.65" fill="#f6c08e" stroke="none" stroke-width="0" />
<rect x="46.7" y="124.55" width="0.6" height="2.99" fill="#e09a5a" stroke="none" stroke-width="0" />
<rect x="59.3" y="126.32" width="1.2" height="4.27" fill="#f6c08e" stroke="none" stroke-width="0" />
<rect x="70.4" y="126.32" width="1.2" height="4.27" fill="#f6c08e" stroke="none" stroke-width="0" />
<rect x="76.4" y="125.85" width="1.2" height="4.75" fill="#f6c08e" stroke="none" stroke-width="0" />
<rect x="80.4" y="123.95" width="1.2" height="6.65" fill="#f6c08e" stroke="none" stroke-width="0" />
<rect x="80.7" y="124.55" width="0.6" height="2.99" fill="#e09a5a" stroke="none" stroke-width="0" />
<rect x="86.7" y="121.1" width="1.2" height="9.5" fill="#f6c08e" stroke="none" stroke-width="0" />
<rect x="87" y="121.7" width="0.6" height="4.28" fill="#e09a5a" stroke="none" stroke-width="0" />
<rect x="90.3" y="126.8" width="1.2" height="3.8" fill="#f6c08e" stroke="none" stroke-width="0" />
<rect x="99.6" y="126.8" width="1.2" height="3.8" fill="#f6c08e" stroke="none" stroke-width="0" />
<rect x="103.4" y="127.27" width="1.2" height="3.32" fill="#f6c08e" stroke="none" stroke-width="0" />
<rect x="36.8" y="124.42" width="1.6" height="6.17" fill="#9cd49c" stroke="none" stroke-width="0" />
<rect x="37.25" y="125.02" width="0.7" height="2.78" fill="#5f9f5f" stroke="none" stroke-width="0" />
<rect x="51.95" y="121.1" width="1.6" height="9.5" fill="#9cd49c" stroke="none" stroke-width="0" />
<rect x="52.4" y="121.7" width="0.7" height="4.28" fill="#5f9f5f" stroke="none" stroke-width="0" />
<rect x="62.2" y="122.05" width="1.6" height="8.55" fill="#9cd49c" stroke="none" stroke-width="0" />
<rect x="62.65" y="122.65" width="0.7" height="3.85" fill="#5f9f5f" stroke="none" stroke-width="0" />
<rect x="74" y="125.38" width="1.6" height="5.22" fill="#9cd49c" stroke="none" stroke-width="0" />
<rect x="74.45" y="125.97" width="0.7" height="2.35" fill="#5f9f5f" stroke="none" stroke-width="0" />
<rect x="83.4" y="121.1" width="1.6" height="9.5" fill="#9cd49c" stroke="none" stroke-width="0" />
<rect x="83.85" y="121.7" width="0.7" height="4.28" fill="#5f9f5f" stroke="none" stroke-width="0" />
<rect x="90.5" y="121.1" width="1.6" height="9.5" fill="#9cd49c" stroke="none" stroke-width="0" />
<rect x="90.95" y="121.7" width="0.7" height="4.28" fill="#5f9f5f" stroke="none" stroke-width="0" />
<rect x="107" y="126.8" width="1.6" height="3.8" fill="#9cd49c" stroke="none" stroke-width="0" />
<rect x="45.9" y="127.27" width="1.4" height="3.32" fill="#f0a0f2" stroke="none" stroke-width="0" />
<rect x="78.1" y="126.8" width="1.4" height="3.8" fill="#f0a0f2" stroke="none" stroke-width="0" />
<rect x="37.1" y="131.5" width="1" height="1" fill="#9cd49c" stroke="none" stroke-width="0" />
<rect x="52.25" y="131.5" width="1" height="1" fill="#9cd49c" stroke="none" stroke-width="0" />
<rect x="62.5" y="131.5" width="1" height="1" fill="#9cd49c" stroke="none" stroke-width="0" />
<rect x="74.3" y="131.5" width="1" height="1" fill="#9cd49c" stroke="none" stroke-width="0" />
<rect x="83.7" y="131.5" width="1" height="1" fill="#9cd49c" stroke="none" stroke-width="0" />
<rect x="90.8" y="131.5" width="1" height="1" fill="#9cd49c" stroke="none" stroke-width="0" />
<rect x="107.3" y="131.5" width="1" height="1" fill="#9cd49c" stroke="none" stroke-width="0" />
<rect x="46.6" y="133.4" width="0.8" height="1" fill="#f6c08e" stroke="none" stroke-width="0" />
<rect x="59.5" y="133.4" width="0.8" height="1" fill="#f6c08e" stroke="none" stroke-width="0" />
<rect x="70.6" y="133.4" width="0.8" height="1" fill="#f6c08e" stroke="none" stroke-width="0" />
<rect x="76.6" y="133.4" width="0.8" height="1" fill="#f6c08e" stroke="none" stroke-width="0" />
<rect x="80.6" y="133.4" width="0.8" height="1" fill="#f6c08e" stroke="none" stroke-width="0" />
<rect x="86.9" y="133.4" width="0.8" height="1" fill="#f6c08e" stroke="none" stroke-width="0" />
<rect x="90.5" y="133.4" width="0.8" height="1" fill="#f6c08e" stroke="none" stroke-width="0" />
<rect x="41.2" y="133.4" width="0.8" height="1" fill="#8ee8f2" stroke="none" stroke-width="0" />
<rect x="44.8" y="133.4" width="0.8" height="1" fill="#8ee8f2" stroke="none" stroke-width="0" />
<rect x="50.1" y="133.4" width="0.8" height="1" fill="#8ee8f2" stroke="none" stroke-width="0" />
<rect x="57.3" y="133.4" width="0.8" height="1" fill="#8ee8f2" stroke="none" stroke-width="0" />
<rect x="60.8" y="133.4" width="0.8" height="1" fill="#8ee8f2" stroke="none" stroke-width="0" />
<rect x="67.6" y="133.4" width="0.8" height="1" fill="#8ee8f2" stroke="none" stroke-width="0" />
<polyline points="34.7,130.6 34.95,130.6 35.2,130.6 35.45,130.6 35.7,130.6 35.95,130.6 36.2,130.6 36.45,130.59 36.7,130.53 36.95,130.13 37.2,128.88 37.45,127.2 37.7,126.98 37.95,128.52 38.2,129.96 38.45,130.49 38.7,130.59 38.95,130.6 39.2,130.6 39.45,130.6 39.7,130.6 39.95,130.6 40.2,130.6 40.45,130.6 40.7,130.6 40.95,130.6 41.2,130.6 41.45,130.6 41.7,130.6 41.95,130.6 42.2,130.6 42.45,130.6 42.7,130.6 42.95,130.6 43.2,130.6 43.45,130.6 43.7,130.6 43.95,130.6 44.2,130.6 44.45,130.6 44.7,130.6 44.95,130.6 45.2,130.6 45.45,130.57 45.7,130.35 45.95,129.55 46.2,128.26 46.45,127.78 46.7,128.77 46.95,129.96 47.2,130.48 47.45,130.59 47.7,130.6 47.95,130.6 48.2,130.6 48.45,130.6 48.7,130.6 48.95,130.6 49.2,130.6 49.45,130.6 49.7,130.6 49.95,130.6 50.2,130.6 50.45,130.6 50.7,130.6 50.95,130.6 51.2,130.6 51.45,130.6 51.7,130.59 51.95,130.44 52.2,129.64 52.45,127.49 52.7,125.17 52.95,125.5 53.2,128.01 53.45,129.89 53.7,130.5 53.95,130.59 54.2,130.6 54.45,130.6 54.7,130.6 54.95,130.6 55.2,130.6 55.45,130.6 55.7,130.6 55.95,130.6 56.2,130.6 56.45,130.6 56.7,130.6 56.95,130.6 57.2,130.6 57.45,130.6 57.7,130.6 57.95,130.6 58.2,130.6 58.45,130.6 58.7,130.6 58.95,130.6 59.2,130.6 59.45,130.6 59.7,130.6 59.95,130.6 60.2,130.6 60.45,130.6 60.7,130.6 60.95,130.6 61.2,130.6 61.45,130.6 61.7,130.6 61.95,130.59 62.2,130.49 62.45,130 62.7,128.89 62.95,127.97 63.2,128.42 63.45,129.62 63.7,130.36 63.95,130.57 64.2,130.6 64.45,130.6 64.7,130.6 64.95,130.6 65.2,130.6 65.45,130.6 65.7,130.6 65.95,130.6 66.2,130.6 66.45,130.6 66.7,130.6 66.95,130.6 67.2,130.6 67.45,130.6 67.7,130.6 67.95,130.6 68.2,130.6 68.45,130.6 68.7,130.6 68.95,130.6 69.2,130.6 69.45,130.6 69.7,130.6 69.95,130.6 70.2,130.6 70.45,130.6 70.7,130.6 70.95,130.6 71.2,130.6 71.45,130.6 71.7,130.6 71.95,130.6 72.2,130.6 72.45,130.6 72.7,130.6 72.95,130.6 73.2,130.6 73.45,130.6 73.7,130.6 73.95,130.59 74.2,130.52 74.45,130.17 74.7,129.38 74.95,128.72 75.2,129.04 75.45,129.9 75.7,130.43 75.95,130.58 76.2,130.6 76.45,130.6 76.7,130.6 76.95,130.6 77.2,130.6 77.45,130.6 77.7,130.6 77.95,130.6 78.2,130.6 78.45,130.6 78.7,130.6 78.95,130.6 79.2,130.6 79.45,130.6 79.7,130.6 79.95,130.6 80.2,130.6 80.45,130.6 80.7,130.6 80.95,130.6 81.2,130.6 81.45,130.6 81.7,130.6 81.95,130.6 82.2,130.6 82.45,130.6 82.7,130.6 82.95,130.6 83.2,130.58 83.45,130.43 83.7,129.83 83.95,128.65 84.2,127.94 84.45,128.65 84.7,129.83 84.95,130.43 85.2,130.58 85.45,130.6 85.7,130.6 85.95,130.6 86.2,130.6 86.45,130.6 86.7,130.6 86.95,130.6 87.2,130.6 87.45,130.6 87.7,130.6 87.95,130.6 88.2,130.6 88.45,130.6 88.7,130.6 88.95,130.6 89.2,130.6 89.45,130.6 89.7,130.6 89.95,130.6 90.2,130.59 90.45,130.51 90.7,130.04 90.95,128.78 91.2,127.44 91.45,127.62 91.7,129.09 91.95,130.19 92.2,130.54 92.45,130.6 92.7,130.6 92.95,130.6 93.2,130.6 93.45,130.6 93.7,130.6 93.95,130.6 94.2,130.6 94.45,130.6 94.7,130.6 94.95,130.6 95.2,130.6 95.45,130.6 95.7,130.6 95.95,130.6 96.2,130.6 96.45,130.6 96.7,130.6 96.95,130.6 97.2,130.6 97.45,130.6 97.7,130.6 97.95,130.6 98.2,130.6 98.45,130.6 98.7,130.6 98.95,130.6 99.2,130.6 99.45,130.6 99.7,130.6 99.95,130.6 100.2,130.6 100.45,130.6 100.7,130.6 100.95,130.6 101.2,130.6 101.45,130.6 101.7,130.6 101.95,130.6 102.2,130.6 102.45,130.6 102.7,130.6 102.95,130.6 103.2,130.6 103.45,130.6 103.7,130.6 103.95,130.6 104.2,130.6 104.45,130.6 104.7,130.6 104.95,130.6 105.2,130.6 105.45,130.6 105.7,130.6 105.95,130.6 106.2,130.6 106.45,130.6 106.7,130.6 106.95,130.59 107.2,130.54 107.45,130.26 107.7,129.63 107.95,129.1 108.2,129.35 108.45,130.04 108.7,130.46 108.95,130.58 109.2,130.6 109.45,130.6 109.7,130.6 109.95,130.6 110.2,130.6 110.45,130.6 110.7,130.6 110.95,130.6 111.2,130.6 111.45,130.6 111.7,130.6 111.95,130.6 112.2,130.6 112.45,130.6 112.7,130.6" fill="none" stroke="#d81c1c" stroke-width="1.25" stroke-linejoin="round" stroke-linecap="round" />
<line x1="34.7" y1="136.2" x2="112.7" y2="136.2" stroke="#d6e4f7" stroke-width="1.1" />
<line x1="34.7" y1="136.2" x2="112.7" y2="136.2" stroke="#78a8ea" stroke-width="0.5" stroke-dasharray="1.2,0.8"/>
<rect x="35.1" y="118.2" width="8.4" height="2.3" fill="#f2e630" stroke="none" stroke-width="0" />
<text x="39.3" y="120" font-size="1.8" fill="#555" text-anchor="middle" font-family="'Liberation Sans',Arial,sans-serif" font-weight="normal" >BYFCO-1</text>
<rect x="94.4" y="118.9" width="17.9" height="4.5" fill="#e6f4d6" stroke="none" stroke-width="0" />
<rect x="40.9" y="148.1" width="1.4" height="4" fill="#8ee8f2" stroke="none" stroke-width="0" />
<rect x="44.5" y="142.9" width="1.4" height="9.2" fill="#8ee8f2" stroke="none" stroke-width="0" />
<rect x="49.8" y="147.7" width="1.4" height="4.4" fill="#8ee8f2" stroke="none" stroke-width="0" />
<rect x="57" y="147.7" width="1.4" height="4.4" fill="#8ee8f2" stroke="none" stroke-width="0" />
<rect x="60.5" y="148.1" width="1.4" height="4" fill="#8ee8f2" stroke="none" stroke-width="0" />
<rect x="67.3" y="147.7" width="1.4" height="4.4" fill="#8ee8f2" stroke="none" stroke-width="0" />
<rect x="72.3" y="146.5" width="1.4" height="5.6" fill="#8ee8f2" stroke="none" stroke-width="0" />
<rect x="84.8" y="148.1" width="1.4" height="4" fill="#8ee8f2" stroke="none" stroke-width="0" />
<rect x="87.5" y="148.5" width="1.4" height="3.6" fill="#8ee8f2" stroke="none" stroke-width="0" />
<rect x="46.4" y="146.5" width="1.2" height="5.6" fill="#f6c08e" stroke="none" stroke-width="0" />
<rect x="86.7" y="144.1" width="1.2" height="8" fill="#f6c08e" stroke="none" stroke-width="0" />
<rect x="87" y="144.7" width="0.6" height="3.6" fill="#e09a5a" stroke="none" stroke-width="0" />
<rect x="36.8" y="146.9" width="1.6" height="5.2" fill="#9cd49c" stroke="none" stroke-width="0" />
<rect x="37.25" y="147.5" width="0.7" height="2.34" fill="#5f9f5f" stroke="none" stroke-width="0" />
<rect x="51.95" y="144.1" width="1.6" height="8" fill="#9cd49c" stroke="none" stroke-width="0" />
<rect x="52.4" y="144.7" width="0.7" height="3.6" fill="#5f9f5f" stroke="none" stroke-width="0" />
<rect x="62.2" y="144.9" width="1.6" height="7.2" fill="#9cd49c" stroke="none" stroke-width="0" />
<rect x="62.65" y="145.5" width="0.7" height="3.24" fill="#5f9f5f" stroke="none" stroke-width="0" />
<rect x="74" y="147.7" width="1.6" height="4.4" fill="#9cd49c" stroke="none" stroke-width="0" />
<rect x="83.4" y="144.1" width="1.6" height="8" fill="#9cd49c" stroke="none" stroke-width="0" />
<rect x="83.85" y="144.7" width="0.7" height="3.6" fill="#5f9f5f" stroke="none" stroke-width="0" />
<rect x="90.5" y="144.1" width="1.6" height="8" fill="#9cd49c" stroke="none" stroke-width="0" />
<rect x="90.95" y="144.7" width="0.7" height="3.6" fill="#5f9f5f" stroke="none" stroke-width="0" />
<rect x="107" y="148.9" width="1.6" height="3.2" fill="#9cd49c" stroke="none" stroke-width="0" />
<rect x="37.1" y="153" width="1" height="1" fill="#9cd49c" stroke="none" stroke-width="0" />
<rect x="52.25" y="153" width="1" height="1" fill="#9cd49c" stroke="none" stroke-width="0" />
<rect x="62.5" y="153" width="1" height="1" fill="#9cd49c" stroke="none" stroke-width="0" />
<rect x="74.3" y="153" width="1" height="1" fill="#9cd49c" stroke="none" stroke-width="0" />
<rect x="83.7" y="153" width="1" height="1" fill="#9cd49c" stroke="none" stroke-width="0" />
<rect x="90.8" y="153" width="1" height="1" fill="#9cd49c" stroke="none" stroke-width="0" />
<rect x="107.3" y="153" width="1" height="1" fill="#9cd49c" stroke="none" stroke-width="0" />
<rect x="46.6" y="154.9" width="0.8" height="1" fill="#f6c08e" stroke="none" stroke-width="0" />
<rect x="59.5" y="154.9" width="0.8" height="1" fill="#f6c08e" stroke="none" stroke-width="0" />
<rect x="70.6" y="154.9" width="0.8" height="1" fill="#f6c08e" stroke="none" stroke-width="0" />
<rect x="76.6" y="154.9" width="0.8" height="1" fill="#f6c08e" stroke="none" stroke-width="0" />
<rect x="80.6" y="154.9" width="0.8" height="1" fill="#f6c08e" stroke="none" stroke-width="0" />
<rect x="86.9" y="154.9" width="0.8" height="1" fill="#f6c08e" stroke="none" stroke-width="0" />
<rect x="90.5" y="154.9" width="0.8" height="1" fill="#f6c08e" stroke="none" stroke-width="0" />
<rect x="41.2" y="154.9" width="0.8" height="1" fill="#8ee8f2" stroke="none" stroke-width="0" />
<rect x="44.8" y="154.9" width="0.8" height="1" fill="#8ee8f2" stroke="none" stroke-width="0" />
<rect x="50.1" y="154.9" width="0.8" height="1" fill="#8ee8f2" stroke="none" stroke-width="0" />
<rect x="57.3" y="154.9" width="0.8" height="1" fill="#8ee8f2" stroke="none" stroke-width="0" />
<rect x="60.8" y="154.9" width="0.8" height="1" fill="#8ee8f2" stroke="none" stroke-width="0" />
<rect x="67.6" y="154.9" width="0.8" height="1" fill="#8ee8f2" stroke="none" stroke-width="0" />
<polyline points="34.7,152.1 34.95,152.1 35.2,152.1 35.45,152.1 35.7,152.1 35.95,152.1 36.2,152.1 36.45,152.1 36.7,152.04 36.95,151.7 37.2,150.65 37.45,149.24 37.7,149.05 37.95,150.35 38.2,151.56 38.45,152.01 38.7,152.09 38.95,152.1 39.2,152.1 39.45,152.1 39.7,152.1 39.95,152.1 40.2,152.1 40.45,152.1 40.7,152.1 40.95,152.1 41.2,152.1 41.45,152.1 41.7,152.1 41.95,152.1 42.2,152.1 42.45,152.1 42.7,152.1 42.95,152.1 43.2,152.1 43.45,152.1 43.7,152.1 43.95,152.1 44.2,152.1 44.45,152.1 44.7,152.1 44.95,152.1 45.2,152.1 45.45,152.07 45.7,151.89 45.95,151.22 46.2,150.13 46.45,149.73 46.7,150.56 46.95,151.56 47.2,152 47.45,152.09 47.7,152.1 47.95,152.1 48.2,152.1 48.45,152.1 48.7,152.1 48.95,152.1 49.2,152.1 49.45,152.1 49.7,152.1 49.95,152.1 50.2,152.1 50.45,152.1 50.7,152.1 50.95,152.1 51.2,152.1 51.45,152.1 51.7,152.09 51.95,151.96 52.2,151.29 52.45,149.48 52.7,147.53 52.95,147.8 53.2,149.92 53.45,151.5 53.7,152.01 53.95,152.09 54.2,152.1 54.45,152.1 54.7,152.1 54.95,152.1 55.2,152.1 55.45,152.1 55.7,152.1 55.95,152.1 56.2,152.1 56.45,152.1 56.7,152.1 56.95,152.1 57.2,152.1 57.45,152.1 57.7,152.1 57.95,152.1 58.2,152.1 58.45,152.1 58.7,152.1 58.95,152.1 59.2,152.1 59.45,152.1 59.7,152.1 59.95,152.1 60.2,152.1 60.45,152.1 60.7,152.1 60.95,152.1 61.2,152.1 61.45,152.1 61.7,152.1 61.95,152.09 62.2,152.01 62.45,151.6 62.7,150.66 62.95,149.89 63.2,150.26 63.45,151.28 63.7,151.9 63.95,152.07 64.2,152.1 64.45,152.1 64.7,152.1 64.95,152.1 65.2,152.1 65.45,152.1 65.7,152.1 65.95,152.1 66.2,152.1 66.45,152.1 66.7,152.1 66.95,152.1 67.2,152.1 67.45,152.1 67.7,152.1 67.95,152.1 68.2,152.1 68.45,152.1 68.7,152.1 68.95,152.1 69.2,152.1 69.45,152.1 69.7,152.1 69.95,152.1 70.2,152.1 70.45,152.1 70.7,152.1 70.95,152.1 71.2,152.1 71.45,152.1 71.7,152.1 71.95,152.1 72.2,152.1 72.45,152.1 72.7,152.1 72.95,152.1 73.2,152.1 73.45,152.1 73.7,152.1 73.95,152.09 74.2,152.03 74.45,151.74 74.7,151.07 74.95,150.52 75.2,150.79 75.45,151.51 75.7,151.96 75.95,152.08 76.2,152.1 76.45,152.1 76.7,152.1 76.95,152.1 77.2,152.1 77.45,152.1 77.7,152.1 77.95,152.1 78.2,152.1 78.45,152.1 78.7,152.1 78.95,152.1 79.2,152.1 79.45,152.1 79.7,152.1 79.95,152.1 80.2,152.1 80.45,152.1 80.7,152.1 80.95,152.1 81.2,152.1 81.45,152.1 81.7,152.1 81.95,152.1 82.2,152.1 82.45,152.1 82.7,152.1 82.95,152.1 83.2,152.08 83.45,151.96 83.7,151.45 83.95,150.45 84.2,149.86 84.45,150.45 84.7,151.45 84.95,151.96 85.2,152.08 85.45,152.1 85.7,152.1 85.95,152.1 86.2,152.1 86.45,152.1 86.7,152.1 86.95,152.1 87.2,152.1 87.45,152.1 87.7,152.1 87.95,152.1 88.2,152.1 88.45,152.1 88.7,152.1 88.95,152.1 89.2,152.1 89.45,152.1 89.7,152.1 89.95,152.1 90.2,152.09 90.45,152.02 90.7,151.63 90.95,150.57 91.2,149.43 91.45,149.59 91.7,150.83 91.95,151.75 92.2,152.05 92.45,152.1 92.7,152.1 92.95,152.1 93.2,152.1 93.45,152.1 93.7,152.1 93.95,152.1 94.2,152.1 94.45,152.1 94.7,152.1 94.95,152.1 95.2,152.1 95.45,152.1 95.7,152.1 95.95,152.1 96.2,152.1 96.45,152.1 96.7,152.1 96.95,152.1 97.2,152.1 97.45,152.1 97.7,152.1 97.95,152.1 98.2,152.1 98.45,152.1 98.7,152.1 98.95,152.1 99.2,152.1 99.45,152.1 99.7,152.1 99.95,152.1 100.2,152.1 100.45,152.1 100.7,152.1 100.95,152.1 101.2,152.1 101.45,152.1 101.7,152.1 101.95,152.1 102.2,152.1 102.45,152.1 102.7,152.1 102.95,152.1 103.2,152.1 103.45,152.1 103.7,152.1 103.95,152.1 104.2,152.1 104.45,152.1 104.7,152.1 104.95,152.1 105.2,152.1 105.45,152.1 105.7,152.1 105.95,152.1 106.2,152.1 106.45,152.1 106.7,152.1 106.95,152.09 107.2,152.05 107.45,151.81 107.7,151.28 107.95,150.84 108.2,151.05 108.45,151.63 108.7,151.99 108.95,152.09 109.2,152.1 109.45,152.1 109.7,152.1 109.95,152.1 110.2,152.1 110.45,152.1 110.7,152.1 110.95,152.1 111.2,152.1 111.45,152.1 111.7,152.1 111.95,152.1 112.2,152.1 112.45,152.1 112.7,152.1" fill="none" stroke="#d81c1c" stroke-width="1.25" stroke-linejoin="round" stroke-linecap="round" />
<line x1="34.7" y1="156.1" x2="112.7" y2="156.1" stroke="#d6e4f7" stroke-width="1.1" />
<line x1="34.7" y1="156.1" x2="112.7" y2="156.1" stroke="#78a8ea" stroke-width="0.5" stroke-dasharray="1.2,0.8"/>
<rect x="35.1" y="139.4" width="4.4" height="2.1" fill="#f2e630" stroke="none" stroke-width="0" />
<text x="37.3" y="141.1" font-size="1.8" fill="#555" text-anchor="middle" font-family="'Liberation Sans',Arial,sans-serif" font-weight="normal" >BFO</text>
<rect x="94.4" y="139" width="17.9" height="4.5" fill="#e6f4d6" stroke="none" stroke-width="0" />
<rect x="34.7" y="77.4" width="78" height="80.6" fill="none" stroke="#9a9a9a" stroke-width="0.5" />
<text x="34.7" y="161.2" font-size="2.8" fill="#444" text-anchor="middle" font-family="'Liberation Sans',Arial,sans-serif" font-weight="normal" >20</text>
<line x1="34.7" y1="158" x2="34.7" y2="157.2" stroke="#777" stroke-width="0.3" />
<text x="42.5" y="161.2" font-size="2.8" fill="#444" text-anchor="middle" font-family="'Liberation Sans',Arial,sans-serif" font-weight="normal" >25</text>
<line x1="42.5" y1="158" x2="42.5" y2="157.2" stroke="#777" stroke-width="0.3" />
<text x="50.3" y="161.2" font-size="2.8" fill="#444" text-anchor="middle" font-family="'Liberation Sans',Arial,sans-serif" font-weight="normal" >30</text>
<line x1="50.3" y1="158" x2="50.3" y2="157.2" stroke="#777" stroke-width="0.3" />
<text x="58.1" y="161.2" font-size="2.8" fill="#444" text-anchor="middle" font-family="'Liberation Sans',Arial,sans-serif" font-weight="normal" >35</text>
<line x1="58.1" y1="158" x2="58.1" y2="157.2" stroke="#777" stroke-width="0.3" />
<text x="65.9" y="161.2" font-size="2.8" fill="#444" text-anchor="middle" font-family="'Liberation Sans',Arial,sans-serif" font-weight="normal" >40</text>
<line x1="65.9" y1="158" x2="65.9" y2="157.2" stroke="#777" stroke-width="0.3" />
<text x="73.7" y="161.2" font-size="2.8" fill="#444" text-anchor="middle" font-family="'Liberation Sans',Arial,sans-serif" font-weight="normal" >45</text>
<line x1="73.7" y1="158" x2="73.7" y2="157.2" stroke="#777" stroke-width="0.3" />
<text x="81.5" y="161.2" font-size="2.8" fill="#444" text-anchor="middle" font-family="'Liberation Sans',Arial,sans-serif" font-weight="normal" >50</text>
<line x1="81.5" y1="158" x2="81.5" y2="157.2" stroke="#777" stroke-width="0.3" />
<text x="89.3" y="161.2" font-size="2.8" fill="#444" text-anchor="middle" font-family="'Liberation Sans',Arial,sans-serif" font-weight="normal" >55</text>
<line x1="89.3" y1="158" x2="89.3" y2="157.2" stroke="#777" stroke-width="0.3" />
<text x="97.1" y="161.2" font-size="2.8" fill="#444" text-anchor="middle" font-family="'Liberation Sans',Arial,sans-serif" font-weight="normal" >60</text>
<line x1="97.1" y1="158" x2="97.1" y2="157.2" stroke="#777" stroke-width="0.3" />
<text x="104.9" y="161.2" font-size="2.8" fill="#444" text-anchor="middle" font-family="'Liberation Sans',Arial,sans-serif" font-weight="normal" >65</text>
<line x1="104.9" y1="158" x2="104.9" y2="157.2" stroke="#777" stroke-width="0.3" />
<text x="112.7" y="161.2" font-size="2.8" fill="#444" text-anchor="middle" font-family="'Liberation Sans',Arial,sans-serif" font-weight="normal" >70</text>
<line x1="112.7" y1="158" x2="112.7" y2="157.2" stroke="#777" stroke-width="0.3" />
<text x="73.5" y="165.8" font-size="3.2" fill="#333" text-anchor="middle" font-family="'Liberation Sans',Arial,sans-serif" font-weight="normal" >2θ (Degree)</text>
<text x="0" y="0" font-size="3" fill="#333" text-anchor="middle" font-family="'Liberation Sans',Arial,sans-serif" font-weight="normal" transform="translate(31.6 118) rotate(-90)">Intensity (A.U.)</text>
<line x1="140.9" y1="90.5" x2="140.9" y2="141" stroke="#d04848" stroke-width="0.45" stroke-dasharray="0.8,0.6"/>
<line x1="175.4" y1="90.5" x2="175.4" y2="140" stroke="#d04848" stroke-width="0.45" stroke-dasharray="0.8,0.6"/>
<line x1="186.6" y1="90.5" x2="186.6" y2="140" stroke="#d04848" stroke-width="0.45" stroke-dasharray="0.8,0.6"/>
<line x1="192.3" y1="90.5" x2="192.3" y2="140" stroke="#d04848" stroke-width="0.45" stroke-dasharray="0.8,0.6"/>
<line x1="197.1" y1="90.5" x2="197.1" y2="140" stroke="#d04848" stroke-width="0.45" stroke-dasharray="0.8,0.6"/>
<line x1="199.5" y1="90.5" x2="199.5" y2="140" stroke="#d04848" stroke-width="0.45" stroke-dasharray="0.8,0.6"/>
<line x1="207.9" y1="90.5" x2="207.9" y2="140" stroke="#d04848" stroke-width="0.45" stroke-dasharray="0.8,0.6"/>
<line x1="212.9" y1="90.5" x2="212.9" y2="140" stroke="#d04848" stroke-width="0.45" stroke-dasharray="0.8,0.6"/>
<line x1="216" y1="90.5" x2="216" y2="140" stroke="#d04848" stroke-width="0.45" stroke-dasharray="0.8,0.6"/>
<line x1="218.75" y1="90.5" x2="218.75" y2="140" stroke="#d04848" stroke-width="0.45" stroke-dasharray="0.8,0.6"/>
<polyline points="127.1,93.9 127.92,94.19 129.1,94.57 130.46,95.05 131.82,95.69 133,96.5 134.01,97.59 134.95,98.92 135.85,100.37 136.69,101.78 137.5,103 138.24,104.11 138.91,105.2 139.54,106.16 140.19,106.9 140.9,107.3 141.65,107.33 142.41,107.06 143.21,106.55 144.07,105.84 145,105 146.01,103.89 147.09,102.47 148.24,100.94 149.44,99.52 150.7,98.4 151.97,97.63 153.24,97.08 154.6,96.67 156.12,96.34 157.9,96 160.04,95.66 162.49,95.38 165.08,95.14 167.64,94.94 170,94.8 172.22,94.7 174.42,94.66 176.5,94.66 178.39,94.7 180,94.8 181.29,94.92 182.31,95.05 183.14,95.25 183.84,95.55 184.5,96 185.08,96.77 185.52,97.84 185.89,98.94 186.23,99.82 186.6,100.2 186.96,99.89 187.28,99.06 187.61,98.02 188,97.07 188.5,96.5 189.16,96.45 189.94,96.71 190.77,97.09 191.58,97.42 192.3,97.5 192.88,97.19 193.37,96.6 193.84,95.98 194.36,95.53 195,95.5 195.82,96.12 196.77,97.24 197.76,98.5 198.7,99.54 199.5,100 200.1,99.7 200.57,98.89 200.99,97.83 201.44,96.78 202,96 202.72,95.49 203.54,95.08 204.4,94.76 205.24,94.57 206,94.5 206.66,94.52 207.27,94.62 207.85,94.87 208.42,95.31 209,96 209.62,97.24 210.25,98.99 210.87,100.8 211.46,102.25 212,102.9 212.46,102.39 212.87,101.01 213.25,99.3 213.62,97.78 214,97 214.41,97.22 214.82,98.08 215.24,99.19 215.63,100.13 216,100.5 216.33,100.05 216.64,99.06 216.92,97.88 217.21,96.91 217.5,96.5 217.8,96.94 218.1,97.98 218.4,99.2 218.7,100.18 219,100.5 219.3,99.95 219.61,98.82 219.91,97.4 220.21,96.03 220.5,95 220.79,94.34 221.1,93.85 221.38,93.49 221.63,93.22 221.8,93" fill="none" stroke="#5aa85a" stroke-width="0.95" stroke-linejoin="round" stroke-linecap="round" />
<polyline points="127.1,107.9 127.61,108.36 128.31,108.98 129.14,109.74 130.06,110.59 131,111.5 131.98,112.58 133.04,113.85 134.15,115.14 135.28,116.28 136.4,117.1 137.46,117.54 138.48,117.71 139.53,117.7 140.68,117.61 142,117.5 143.53,117.39 145.23,117.21 147.03,116.97 148.87,116.67 150.7,116.3 152.51,115.82 154.34,115.24 156.2,114.62 158.09,114.02 160,113.5 161.96,113.06 163.95,112.66 165.97,112.3 167.99,112.01 170,111.8 172.09,111.67 174.26,111.62 176.4,111.63 178.35,111.7 180,111.8 181.29,111.94 182.31,112.12 183.14,112.35 183.84,112.64 184.5,113 185.08,113.53 185.52,114.23 185.89,114.94 186.23,115.48 186.6,115.7 186.96,115.45 187.28,114.83 187.61,114.07 188,113.39 188.5,113 189.16,113 189.94,113.25 190.77,113.6 191.58,113.9 192.3,114 192.88,113.8 193.37,113.41 193.84,112.97 194.36,112.62 195,112.5 195.8,112.78 196.72,113.36 197.69,114 198.64,114.46 199.5,114.5 200.26,113.97 200.95,113.02 201.61,111.9 202.28,110.81 203,110 203.79,109.46 204.64,109.04 205.48,108.74 206.29,108.56 207,108.5 207.6,108.52 208.11,108.62 208.57,108.86 209.02,109.3 209.5,110 210.01,111.27 210.52,113.08 211.04,114.94 211.53,116.41 212,117 212.43,116.29 212.84,114.58 213.22,112.54 213.61,110.79 214,110 214.41,110.56 214.82,112.04 215.24,113.84 215.63,115.36 216,116 216.33,115.36 216.64,113.84 216.92,112.04 217.21,110.56 217.5,110 217.8,110.81 218.1,112.58 218.4,114.66 218.7,116.35 219,117 219.3,116.28 219.61,114.64 219.91,112.56 220.21,110.52 220.5,109 220.79,108.03 221.1,107.3 221.38,106.74 221.63,106.33 221.8,106" fill="none" stroke="#4a4ae8" stroke-width="0.95" stroke-linejoin="round" stroke-linecap="round" />
<polyline points="127.1,118 127.72,118.51 128.56,119.22 129.58,120.07 130.74,121.01 132,122 133.4,123.17 134.98,124.55 136.65,125.94 138.35,127.12 140,127.9 141.54,128.17 143.01,128.08 144.51,127.77 146.14,127.36 148,127 150.18,126.66 152.61,126.26 155.15,125.82 157.66,125.39 160,125 162.13,124.63 164.14,124.26 166.1,123.92 168.03,123.62 170,123.4 172.09,123.25 174.26,123.16 176.4,123.12 178.35,123.13 180,123.2 181.29,123.32 182.31,123.49 183.14,123.72 183.84,123.99 184.5,124.3 185.08,124.74 185.52,125.3 185.89,125.87 186.23,126.31 186.6,126.5 186.96,126.33 187.28,125.88 187.61,125.32 188,124.81 188.5,124.5 189.16,124.47 189.94,124.62 190.77,124.82 191.58,124.99 192.3,125 192.88,124.77 193.37,124.38 193.84,123.94 194.36,123.61 195,123.5 195.8,123.8 196.72,124.41 197.69,125.07 198.64,125.52 199.5,125.5 200.26,124.83 200.95,123.7 201.61,122.34 202.28,121.03 203,120 203.79,119.24 204.64,118.59 205.48,118.07 206.29,117.7 207,117.5 207.6,117.46 208.11,117.57 208.57,117.85 209.02,118.32 209.5,119 210.02,120.18 210.55,121.84 211.07,123.56 211.56,124.92 212,125.5 212.35,124.9 212.62,123.4 212.88,121.6 213.15,120.1 213.5,119.5 213.95,120.2 214.48,121.8 215.02,123.7 215.55,125.3 216,126 216.36,125.4 216.67,123.9 216.95,122.1 217.22,120.6 217.5,120 217.8,120.71 218.1,122.32 218.4,124.24 218.7,125.83 219,126.5 219.3,125.96 219.61,124.62 219.91,122.9 220.21,121.22 220.5,120 220.79,119.28 221.1,118.78 221.38,118.44 221.63,118.2 221.8,118" fill="none" stroke="#e84848" stroke-width="0.95" stroke-linejoin="round" stroke-linecap="round" />
<polyline points="127.1,128 127.88,128.39 128.98,128.93 130.28,129.57 131.66,130.28 133,131 134.28,131.84 135.58,132.83 136.93,133.82 138.39,134.65 140,135.2 141.81,135.38 143.78,135.29 145.86,135.04 147.95,134.74 150,134.5 152,134.32 154,134.12 156,133.91 158,133.7 160,133.5 162,133.28 164,133.05 166,132.82 168,132.63 170,132.5 172.05,132.44 174.16,132.42 176.24,132.45 178.22,132.51 180,132.6 181.55,132.76 182.93,132.99 184.19,133.23 185.39,133.42 186.6,133.5 187.77,133.44 188.87,133.28 189.96,133.06 191.08,132.82 192.3,132.6 193.67,132.42 195.15,132.24 196.67,132.05 198.14,131.81 199.5,131.5 200.73,131.03 201.89,130.43 202.99,129.82 204.02,129.3 205,129 205.91,128.91 206.76,128.96 207.54,129.14 208.29,129.49 209,130 209.68,130.93 210.32,132.26 210.92,133.64 211.48,134.67 212,135 212.46,134.21 212.87,132.56 213.25,130.64 213.62,129.09 214,128.5 214.4,129.35 214.8,131.24 215.2,133.44 215.6,135.27 216,136 216.41,135.18 216.82,133.29 217.24,131.01 217.63,129.02 218,128 218.32,128.36 218.6,129.64 218.87,131.24 219.16,132.56 219.5,133 219.95,132.26 220.47,130.73 221.01,128.87 221.47,127.14 221.8,126" fill="none" stroke="#444" stroke-width="0.95" stroke-linejoin="round" stroke-linecap="round" />
<text x="156" y="95.2" font-size="3.4" fill="#5aa85a" text-anchor="start" font-family="'Liberation Serif','Times New Roman',serif" font-weight="normal" >BYFCO-3</text>
<text x="156" y="112.6" font-size="3.4" fill="#4a4ae8" text-anchor="start" font-family="'Liberation Serif','Times New Roman',serif" font-weight="normal" >BYFCO-2</text>
<text x="156" y="122.2" font-size="3.4" fill="#e84848" text-anchor="start" font-family="'Liberation Serif','Times New Roman',serif" font-weight="normal" >BYFCO-1</text>
<text x="156" y="131.4" font-size="3.4" fill="#333" text-anchor="start" font-family="'Liberation Serif','Times New Roman',serif" font-weight="normal" >BFO</text>
<text x="0" y="0" font-size="3.3" fill="#222" text-anchor="middle" font-family="'Liberation Serif','Times New Roman',serif" font-weight="normal" transform="translate(142 146) rotate(-90)">O-H</text>
<text x="0" y="0" font-size="3.3" fill="#222" text-anchor="middle" font-family="'Liberation Serif','Times New Roman',serif" font-weight="normal" transform="translate(176.5 145) rotate(-90)">C≡C</text>
<text x="0" y="0" font-size="3.3" fill="#222" text-anchor="middle" font-family="'Liberation Serif','Times New Roman',serif" font-weight="normal" transform="translate(187.7 145) rotate(-90)">C=O</text>
<text x="0" y="0" font-size="3.3" fill="#222" text-anchor="middle" font-family="'Liberation Serif','Times New Roman',serif" font-weight="normal" transform="translate(193.4 145) rotate(-90)">N-O</text>
<text x="0" y="0" font-size="3.3" fill="#222" text-anchor="middle" font-family="'Liberation Serif','Times New Roman',serif" font-weight="normal" transform="translate(198.2 145) rotate(-90)">C-O</text>
<text x="0" y="0" font-size="3.3" fill="#222" text-anchor="middle" font-family="'Liberation Serif','Times New Roman',serif" font-weight="normal" transform="translate(200.6 145) rotate(-90)">NO₃</text>
<text x="0" y="0" font-size="3.3" fill="#222" text-anchor="middle" font-family="'Liberation Serif','Times New Roman',serif" font-weight="normal" transform="translate(209 145) rotate(-90)">C-H</text>
<text x="0" y="0" font-size="3.3" fill="#222" text-anchor="middle" font-family="'Liberation Serif','Times New Roman',serif" font-weight="normal" transform="translate(214 145) rotate(-90)">FeO₆</text>
<text x="0" y="0" font-size="3.3" fill="#222" text-anchor="middle" font-family="'Liberation Serif','Times New Roman',serif" font-weight="normal" transform="translate(217.1 145) rotate(-90)">FeO₆</text>
<text x="0" y="0" font-size="3.3" fill="#222" text-anchor="middle" font-family="'Liberation Serif','Times New Roman',serif" font-weight="normal" transform="translate(219.85 145) rotate(-90)">BiO₆</text>
<rect x="127.1" y="90" width="94.7" height="65.4" fill="none" stroke="#555" stroke-width="0.55" />
<text x="128.9" y="159.6" font-size="3.3" fill="#333" text-anchor="middle" font-family="'Liberation Sans',Arial,sans-serif" font-weight="normal" >4000</text>
<line x1="128.9" y1="155.4" x2="128.9" y2="154.4" stroke="#555" stroke-width="0.4" />
<text x="139.6" y="159.6" font-size="3.3" fill="#333" text-anchor="middle" font-family="'Liberation Sans',Arial,sans-serif" font-weight="normal" >3500</text>
<line x1="139.6" y1="155.4" x2="139.6" y2="154.4" stroke="#555" stroke-width="0.4" />
<text x="150.7" y="159.6" font-size="3.3" fill="#333" text-anchor="middle" font-family="'Liberation Sans',Arial,sans-serif" font-weight="normal" >3000</text>
<line x1="150.7" y1="155.4" x2="150.7" y2="154.4" stroke="#555" stroke-width="0.4" />
<text x="162.8" y="159.6" font-size="3.3" fill="#333" text-anchor="middle" font-family="'Liberation Sans',Arial,sans-serif" font-weight="normal" >2500</text>
<line x1="162.8" y1="155.4" x2="162.8" y2="154.4" stroke="#555" stroke-width="0.4" />
<text x="176.6" y="159.6" font-size="3.3" fill="#333" text-anchor="middle" font-family="'Liberation Sans',Arial,sans-serif" font-weight="normal" >2000</text>
<line x1="176.6" y1="155.4" x2="176.6" y2="154.4" stroke="#555" stroke-width="0.4" />
<text x="189" y="159.6" font-size="3.3" fill="#333" text-anchor="middle" font-family="'Liberation Sans',Arial,sans-serif" font-weight="normal" >1500</text>
<line x1="189" y1="155.4" x2="189" y2="154.4" stroke="#555" stroke-width="0.4" />
<text x="202.1" y="159.6" font-size="3.3" fill="#333" text-anchor="middle" font-family="'Liberation Sans',Arial,sans-serif" font-weight="normal" >1000</text>
<line x1="202.1" y1="155.4" x2="202.1" y2="154.4" stroke="#555" stroke-width="0.4" />
<text x="215.3" y="159.6" font-size="3.3" fill="#333" text-anchor="middle" font-family="'Liberation Sans',Arial,sans-serif" font-weight="normal" >500</text>
<line x1="215.3" y1="155.4" x2="215.3" y2="154.4" stroke="#555" stroke-width="0.4" />
<text x="175" y="164.8" font-size="4.4" fill="#333" text-anchor="middle" font-family="'Liberation Sans',Arial,sans-serif" font-weight="normal" >Wave Number (cm<tspan dy="-1.2" font-size="2.8">-1</tspan><tspan dy="1.2">)</tspan></text>
<text x="0" y="0" font-size="3.9" fill="#333" text-anchor="middle" font-family="'Liberation Sans',Arial,sans-serif" font-weight="normal" transform="translate(124.8 122) rotate(-90)">Transmittance (T%) A.U.</text>
<line x1="265.7" y1="155.7" x2="292.97" y2="90" stroke="#3ee0e8" stroke-width="0.6" />
<line x1="270" y1="155.7" x2="297.27" y2="90" stroke="#3ee0e8" stroke-width="0.6" />
<line x1="275.7" y1="155.7" x2="302.97" y2="90" stroke="#3ee0e8" stroke-width="0.6" />
<polyline points="231.5,143.3 236.41,143.3 243.55,143.31 251.58,143.32 259.18,143.32 265,143.3 268.74,143.31 271.3,143.36 273.12,143.38 274.67,143.28 276.4,143 278.33,142.53 280.14,141.93 281.83,141.2 283.36,140.32 284.7,139.3 285.79,138.13 286.64,136.82 287.36,135.37 288.05,133.79 288.8,132.1 289.62,130.24 290.44,128.2 291.26,126.07 292.08,123.91 292.9,121.8 293.74,119.7 294.59,117.57 295.44,115.45 296.25,113.41 297,111.5 297.68,109.69 298.3,107.94 298.89,106.3 299.45,104.81 300,103.5 300.52,102.42 301.01,101.53 301.49,100.79 301.98,100.13 302.5,99.5 303.07,98.91 303.66,98.4 304.27,97.96 304.89,97.56 305.5,97.2 306.09,96.89 306.67,96.66 307.26,96.45 307.9,96.24 308.6,96 309.38,95.71 310.21,95.41 311.09,95.09 312.02,94.79 313,94.5 314.13,94.22 315.42,93.94 316.71,93.68 317.82,93.46 318.6,93.3" fill="none" stroke="#555" stroke-width="0.95" stroke-linejoin="round" stroke-linecap="round" />
<polyline points="231.5,143.2 236.01,143.19 242.58,143.18 249.96,143.16 256.85,143.13 262,143.1 265.06,143.07 266.87,143.04 267.95,143 268.82,142.93 270,142.8 271.45,142.7 272.84,142.63 274.2,142.48 275.57,142.14 277,141.5 278.52,140.59 280.1,139.48 281.69,138.14 283.24,136.49 284.7,134.5 286.07,131.97 287.39,128.93 288.64,125.67 289.82,122.5 290.9,119.7 291.85,117.35 292.69,115.26 293.46,113.3 294.21,111.39 295,109.4 295.83,107.34 296.67,105.28 297.51,103.21 298.32,101.15 299.1,99.1 299.88,96.89 300.67,94.52 301.42,92.24 302.05,90.29 302.5,88.9" fill="none" stroke="#ee5050" stroke-width="0.95" stroke-linejoin="round" stroke-linecap="round" />
<polyline points="231.5,143.2 235.4,143.19 241.08,143.18 247.46,143.17 253.46,143.14 258,143.1 260.78,143.05 262.51,143 263.66,142.94 264.67,142.84 266,142.7 267.66,142.59 269.34,142.53 271.04,142.39 272.73,142.05 274.4,141.4 276.12,140.36 277.89,139 279.62,137.44 281.23,135.8 282.6,134.2 283.68,132.64 284.53,131.06 285.25,129.42 285.94,127.71 286.7,125.9 287.54,124 288.38,122.02 289.22,119.97 290.06,117.83 290.9,115.6 291.76,113.19 292.65,110.59 293.52,107.96 294.32,105.44 295,103.2 295.55,101.26 295.99,99.52 296.36,97.93 296.68,96.44 297,95 297.31,93.55 297.6,92.12 297.84,90.8 298.05,89.7 298.2,88.9" fill="none" stroke="#4a5ae0" stroke-width="0.95" stroke-linejoin="round" stroke-linecap="round" />
<polyline points="231.5,143.1 234.22,143.06 238.17,143.01 242.61,142.95 246.8,142.88 250,142.8 252,142.72 253.3,142.63 254.2,142.54 255,142.43 256,142.3 257.16,142.2 258.29,142.12 259.44,142.01 260.66,141.79 262,141.4 263.5,140.85 265.12,140.19 266.81,139.4 268.52,138.44 270.2,137.3 271.89,135.96 273.61,134.43 275.33,132.74 276.97,130.92 278.5,129 279.89,126.95 281.18,124.75 282.4,122.44 283.56,120.08 284.7,117.7 285.8,115.26 286.86,112.72 287.88,110.16 288.86,107.66 289.8,105.3 290.73,103.04 291.64,100.83 292.5,98.72 293.3,96.76 294,95 294.62,93.41 295.17,91.96 295.64,90.7 296.02,89.66 296.3,88.9" fill="none" stroke="#5aaa6a" stroke-width="0.95" stroke-linejoin="round" stroke-linecap="round" />
<text x="0" y="0" font-size="2.6" fill="#333" text-anchor="middle" font-family="'Liberation Serif','Times New Roman',serif" font-weight="normal" transform="translate(265.8 148) rotate(-69)">2.03 eV</text>
<text x="0" y="0" font-size="2.6" fill="#333" text-anchor="middle" font-family="'Liberation Serif','Times New Roman',serif" font-weight="normal" transform="translate(271.6 148) rotate(-69)">2.11 eV</text>
<text x="0" y="0" font-size="2.6" fill="#333" text-anchor="middle" font-family="'Liberation Serif','Times New Roman',serif" font-weight="normal" transform="translate(281.2 148) rotate(-69)">2.17 eV</text>
<line x1="234.1" y1="93" x2="241.6" y2="93" stroke="#888" stroke-width="0.8" />
<text x="243.4" y="94.2" font-size="3.6" fill="#333" text-anchor="start" font-family="'Liberation Serif','Times New Roman',serif" font-weight="normal" >BFO</text>
<line x1="234.1" y1="97.8" x2="241.6" y2="97.8" stroke="#f3a0a0" stroke-width="0.8" />
<text x="243.4" y="99" font-size="3.6" fill="#333" text-anchor="start" font-family="'Liberation Serif','Times New Roman',serif" font-weight="normal" >BYFCO-1</text>
<line x1="234.1" y1="102.6" x2="241.6" y2="102.6" stroke="#4a7ae8" stroke-width="0.8" />
<text x="243.4" y="103.8" font-size="3.6" fill="#333" text-anchor="start" font-family="'Liberation Serif','Times New Roman',serif" font-weight="normal" >BYFCO-2</text>
<line x1="234.1" y1="107.4" x2="241.6" y2="107.4" stroke="#50c08a" stroke-width="0.8" />
<text x="243.4" y="108.6" font-size="3.6" fill="#333" text-anchor="start" font-family="'Liberation Serif','Times New Roman',serif" font-weight="normal" >BYFCO-3</text>
<rect x="231.5" y="88.9" width="87.1" height="66.8" fill="none" stroke="#666" stroke-width="0.55" />
<text x="231.5" y="159.2" font-size="2.9" fill="#333" text-anchor="middle" font-family="'Liberation Sans',Arial,sans-serif" font-weight="normal" >1.6</text>
<line x1="231.5" y1="155.7" x2="231.5" y2="154.8" stroke="#666" stroke-width="0.35" />
<text x="239.36" y="159.2" font-size="2.9" fill="#333" text-anchor="middle" font-family="'Liberation Sans',Arial,sans-serif" font-weight="normal" >1.7</text>
<line x1="239.36" y1="155.7" x2="239.36" y2="154.8" stroke="#666" stroke-width="0.35" />
<text x="247.22" y="159.2" font-size="2.9" fill="#333" text-anchor="middle" font-family="'Liberation Sans',Arial,sans-serif" font-weight="normal" >1.8</text>
<line x1="247.22" y1="155.7" x2="247.22" y2="154.8" stroke="#666" stroke-width="0.35" />
<text x="255.08" y="159.2" font-size="2.9" fill="#333" text-anchor="middle" font-family="'Liberation Sans',Arial,sans-serif" font-weight="normal" >1.9</text>
<line x1="255.08" y1="155.7" x2="255.08" y2="154.8" stroke="#666" stroke-width="0.35" />
<text x="262.94" y="159.2" font-size="2.9" fill="#333" text-anchor="middle" font-family="'Liberation Sans',Arial,sans-serif" font-weight="normal" >2.0</text>
<line x1="262.94" y1="155.7" x2="262.94" y2="154.8" stroke="#666" stroke-width="0.35" />
<text x="270.8" y="159.2" font-size="2.9" fill="#333" text-anchor="middle" font-family="'Liberation Sans',Arial,sans-serif" font-weight="normal" >2.1</text>
<line x1="270.8" y1="155.7" x2="270.8" y2="154.8" stroke="#666" stroke-width="0.35" />
<text x="278.66" y="159.2" font-size="2.9" fill="#333" text-anchor="middle" font-family="'Liberation Sans',Arial,sans-serif" font-weight="normal" >2.2</text>
<line x1="278.66" y1="155.7" x2="278.66" y2="154.8" stroke="#666" stroke-width="0.35" />
<text x="286.52" y="159.2" font-size="2.9" fill="#333" text-anchor="middle" font-family="'Liberation Sans',Arial,sans-serif" font-weight="normal" >2.3</text>
<line x1="286.52" y1="155.7" x2="286.52" y2="154.8" stroke="#666" stroke-width="0.35" />
<text x="294.38" y="159.2" font-size="2.9" fill="#333" text-anchor="middle" font-family="'Liberation Sans',Arial,sans-serif" font-weight="normal" >2.4</text>
<line x1="294.38" y1="155.7" x2="294.38" y2="154.8" stroke="#666" stroke-width="0.35" />
<text x="302.24" y="159.2" font-size="2.9" fill="#333" text-anchor="middle" font-family="'Liberation Sans',Arial,sans-serif" font-weight="normal" >2.5</text>
<line x1="302.24" y1="155.7" x2="302.24" y2="154.8" stroke="#666" stroke-width="0.35" />
<text x="310.1" y="159.2" font-size="2.9" fill="#333" text-anchor="middle" font-family="'Liberation Sans',Arial,sans-serif" font-weight="normal" >2.6</text>
<line x1="310.1" y1="155.7" x2="310.1" y2="154.8" stroke="#666" stroke-width="0.35" />
<text x="317.96" y="159.2" font-size="2.9" fill="#333" text-anchor="middle" font-family="'Liberation Sans',Arial,sans-serif" font-weight="normal" >2.7</text>
<line x1="317.96" y1="155.7" x2="317.96" y2="154.8" stroke="#666" stroke-width="0.35" />
<text x="272" y="164.4" font-size="3.4" fill="#333" text-anchor="middle" font-family="'Liberation Sans',Arial,sans-serif" font-weight="normal" >Energy, E (eV)</text>
<text x="0" y="0" font-size="3" fill="#333" text-anchor="middle" font-family="'Liberation Sans',Arial,sans-serif" font-weight="normal" transform="translate(229.4 121) rotate(-90)">(αhν)² (a.u.)</text>
<line x1="55.1" y1="228" x2="55.1" y2="233" stroke="#c4c4c4" stroke-width="0.4" />
<line x1="55.1" y1="233" x2="73.5" y2="238.3" stroke="#c4c4c4" stroke-width="0.4" />
<line x1="73.5" y1="238.3" x2="91" y2="236.5" stroke="#c4c4c4" stroke-width="0.4" />
<line x1="91" y1="236.5" x2="104" y2="231.5" stroke="#c4c4c4" stroke-width="0.4" />
<line x1="73.5" y1="238.3" x2="73.5" y2="234" stroke="#c4c4c4" stroke-width="0.4" />
<line x1="104" y1="231.5" x2="104" y2="226" stroke="#c4c4c4" stroke-width="0.4" />
<polygon points="48.83,190.21 60.06,191.8 58.37,200.18 52.01,203.89 45.65,201.24 46.18,194.88" fill="url(#gb)" stroke="#7d5612" stroke-width="0.25" /><line x1="51.85" y1="197.03" x2="48.83" y2="190.21" stroke="#a07824" stroke-width="0.25" opacity="0.7"/><line x1="51.85" y1="197.03" x2="58.37" y2="200.18" stroke="#a07824" stroke-width="0.25" opacity="0.7"/><line x1="51.85" y1="197.03" x2="45.65" y2="201.24" stroke="#a07824" stroke-width="0.25" opacity="0.7"/>
<polygon points="60.54,181.85 64.57,180.26 72.1,184.71 80.89,185.88 80.05,193.19 77.4,199.02 67.86,199.55 59.8,193.72" fill="url(#gb)" stroke="#7d5612" stroke-width="0.25" /><line x1="70.4" y1="189.78" x2="60.54" y2="181.85" stroke="#a07824" stroke-width="0.25" opacity="0.7"/><line x1="70.4" y1="189.78" x2="72.1" y2="184.71" stroke="#a07824" stroke-width="0.25" opacity="0.7"/><line x1="70.4" y1="189.78" x2="80.05" y2="193.19" stroke="#a07824" stroke-width="0.25" opacity="0.7"/><line x1="70.4" y1="189.78" x2="67.86" y2="199.55" stroke="#a07824" stroke-width="0.25" opacity="0.7"/>
<polygon points="89.83,189.5 101.06,191.09 98.62,197.45 99.37,203.81 91.42,201.48 87.6,195.97" fill="url(#gb)" stroke="#7d5612" stroke-width="0.25" /><line x1="94.65" y1="196.55" x2="89.83" y2="189.5" stroke="#a07824" stroke-width="0.25" opacity="0.7"/><line x1="94.65" y1="196.55" x2="98.62" y2="197.45" stroke="#a07824" stroke-width="0.25" opacity="0.7"/><line x1="94.65" y1="196.55" x2="91.42" y2="201.48" stroke="#a07824" stroke-width="0.25" opacity="0.7"/>
<polygon points="51.97,215.89 60.76,218.33 59.92,224.69 56.74,231.16 47.94,227.13 48.68,221.51" fill="url(#gb)" stroke="#7d5612" stroke-width="0.25" /><line x1="54.33" y1="223.12" x2="51.97" y2="215.89" stroke="#a07824" stroke-width="0.25" opacity="0.7"/><line x1="54.33" y1="223.12" x2="59.92" y2="224.69" stroke="#a07824" stroke-width="0.25" opacity="0.7"/><line x1="54.33" y1="223.12" x2="47.94" y2="227.13" stroke="#a07824" stroke-width="0.25" opacity="0.7"/>
<polygon points="62.88,206.85 73.06,209.71 81.54,213.21 80.48,220.31 72,222.96 62.04,216.07" fill="url(#gb)" stroke="#7d5612" stroke-width="0.25" /><line x1="72" y1="214.85" x2="62.88" y2="206.85" stroke="#a07824" stroke-width="0.25" opacity="0.7"/><line x1="72" y1="214.85" x2="81.54" y2="213.21" stroke="#a07824" stroke-width="0.25" opacity="0.7"/><line x1="72" y1="214.85" x2="72" y2="222.96" stroke="#a07824" stroke-width="0.25" opacity="0.7"/>
<polygon points="93.77,215.16 102.57,218.34 100.98,224.7 98.54,230.32 90.59,227.88 89.74,220.78" fill="url(#gb)" stroke="#7d5612" stroke-width="0.25" /><line x1="96.03" y1="222.87" x2="93.77" y2="215.16" stroke="#a07824" stroke-width="0.25" opacity="0.7"/><line x1="96.03" y1="222.87" x2="100.98" y2="224.7" stroke="#a07824" stroke-width="0.25" opacity="0.7"/><line x1="96.03" y1="222.87" x2="90.59" y2="227.88" stroke="#a07824" stroke-width="0.25" opacity="0.7"/>
<polygon points="77.73,224.18 88.96,225.77 87.37,233.82 82.6,238.38 76.14,236.26" fill="url(#gb)" stroke="#7d5612" stroke-width="0.25" /><line x1="82.56" y1="231.68" x2="77.73" y2="224.18" stroke="#a07824" stroke-width="0.25" opacity="0.7"/><line x1="82.56" y1="231.68" x2="87.37" y2="233.82" stroke="#a07824" stroke-width="0.25" opacity="0.7"/><line x1="82.56" y1="231.68" x2="76.14" y2="236.26" stroke="#a07824" stroke-width="0.25" opacity="0.7"/>
<polygon points="52.77,178.44 61.57,184.48 59.98,192.43 48.74,190.84 43.23,186.92" fill="url(#gp)" stroke="#8a2aa8" stroke-width="0.25" /><line x1="53.26" y1="186.62" x2="52.77" y2="178.44" stroke="#b764dc" stroke-width="0.25" opacity="0.7"/><line x1="53.26" y1="186.62" x2="59.98" y2="192.43" stroke="#b764dc" stroke-width="0.25" opacity="0.7"/><line x1="53.26" y1="186.62" x2="43.23" y2="186.92" stroke="#b764dc" stroke-width="0.25" opacity="0.7"/>
<polygon points="73.43,172 83.82,180.05 80.64,186.41 71.84,185.25 63.47,180.79" fill="url(#gp)" stroke="#8a2aa8" stroke-width="0.25" /><line x1="74.64" y1="180.9" x2="73.43" y2="172" stroke="#b764dc" stroke-width="0.25" opacity="0.7"/><line x1="74.64" y1="180.9" x2="80.64" y2="186.41" stroke="#b764dc" stroke-width="0.25" opacity="0.7"/><line x1="74.64" y1="180.9" x2="63.47" y2="180.79" stroke="#b764dc" stroke-width="0.25" opacity="0.7"/>
<polygon points="93.86,177.83 104.24,185.25 101.06,191.71 89.83,190.12 84.21,186.09" fill="url(#gp)" stroke="#8a2aa8" stroke-width="0.25" /><line x1="94.64" y1="186.2" x2="93.86" y2="177.83" stroke="#b764dc" stroke-width="0.25" opacity="0.7"/><line x1="94.64" y1="186.2" x2="101.06" y2="191.71" stroke="#b764dc" stroke-width="0.25" opacity="0.7"/><line x1="94.64" y1="186.2" x2="84.21" y2="186.09" stroke="#b764dc" stroke-width="0.25" opacity="0.7"/>
<polygon points="77.74,190.33 88.34,189.69 89.72,196.05 84.2,201.56 78.59,198.38 75.62,194.99" fill="url(#gp)" stroke="#8a2aa8" stroke-width="0.25" /><line x1="82.37" y1="195.17" x2="77.74" y2="190.33" stroke="#b764dc" stroke-width="0.25" opacity="0.7"/><line x1="82.37" y1="195.17" x2="89.72" y2="196.05" stroke="#b764dc" stroke-width="0.25" opacity="0.7"/><line x1="82.37" y1="195.17" x2="78.59" y2="198.38" stroke="#b764dc" stroke-width="0.25" opacity="0.7"/>
<polygon points="59.23,200.27 69.83,198.15 79.37,199.21 86.79,202.92 84.67,208.22 78.62,211.93 65.59,209.28 59.23,205.04" fill="url(#gp)" stroke="#8a2aa8" stroke-width="0.25" /><line x1="72.91" y1="204.38" x2="59.23" y2="200.27" stroke="#b764dc" stroke-width="0.25" opacity="0.7"/><line x1="72.91" y1="204.38" x2="79.37" y2="199.21" stroke="#b764dc" stroke-width="0.25" opacity="0.7"/><line x1="72.91" y1="204.38" x2="84.67" y2="208.22" stroke="#b764dc" stroke-width="0.25" opacity="0.7"/><line x1="72.91" y1="204.38" x2="65.59" y2="209.28" stroke="#b764dc" stroke-width="0.25" opacity="0.7"/>
<polygon points="44.84,207.78 64.03,207.03 56.18,214.14 52.05,216.57 47.7,213.08" fill="url(#gp)" stroke="#8a2aa8" stroke-width="0.25" /><line x1="52.96" y1="211.72" x2="44.84" y2="207.78" stroke="#b764dc" stroke-width="0.25" opacity="0.7"/><line x1="52.96" y1="211.72" x2="56.18" y2="214.14" stroke="#b764dc" stroke-width="0.25" opacity="0.7"/><line x1="52.96" y1="211.72" x2="47.7" y2="213.08" stroke="#b764dc" stroke-width="0.25" opacity="0.7"/>
<polygon points="86.51,207.08 104.85,206.23 102.52,215.03 93.72,215.87" fill="url(#gp)" stroke="#8a2aa8" stroke-width="0.25" /><line x1="96.9" y1="211.05" x2="86.51" y2="207.08" stroke="#b764dc" stroke-width="0.25" opacity="0.7"/><line x1="96.9" y1="211.05" x2="102.52" y2="215.03" stroke="#b764dc" stroke-width="0.25" opacity="0.7"/>
<polygon points="80.86,212.84 90.51,220.9 88.92,226.41 79.8,224.82 76.62,219.94" fill="url(#gp)" stroke="#8a2aa8" stroke-width="0.25" /><line x1="83.34" y1="220.98" x2="80.86" y2="212.84" stroke="#b764dc" stroke-width="0.25" opacity="0.7"/><line x1="83.34" y1="220.98" x2="88.92" y2="226.41" stroke="#b764dc" stroke-width="0.25" opacity="0.7"/><line x1="83.34" y1="220.98" x2="76.62" y2="219.94" stroke="#b764dc" stroke-width="0.25" opacity="0.7"/>
<polygon points="59.03,224.34 76.41,223.7 78.53,229 75.35,234.3 66.23,233.24 59.45,229" fill="url(#gp)" stroke="#8a2aa8" stroke-width="0.25" /><line x1="69.17" y1="228.93" x2="59.03" y2="224.34" stroke="#b764dc" stroke-width="0.25" opacity="0.7"/><line x1="69.17" y1="228.93" x2="78.53" y2="229" stroke="#b764dc" stroke-width="0.25" opacity="0.7"/><line x1="69.17" y1="228.93" x2="66.23" y2="233.24" stroke="#b764dc" stroke-width="0.25" opacity="0.7"/>
<circle cx="52.8" cy="178.9" r="1.1" fill="#e8161b" /><circle cx="61.1" cy="184.6" r="1.1" fill="#e8161b" /><circle cx="59.6" cy="192.1" r="1.1" fill="#e8161b" /><circle cx="49" cy="190.6" r="1.1" fill="#e8161b" /><circle cx="43.8" cy="186.9" r="1.1" fill="#e8161b" /><circle cx="73.5" cy="172.5" r="1.1" fill="#e8161b" /><circle cx="83.3" cy="180.1" r="1.1" fill="#e8161b" /><circle cx="80.3" cy="186.1" r="1.1" fill="#e8161b" /><circle cx="72" cy="185" r="1.1" fill="#e8161b" /><circle cx="64.1" cy="180.8" r="1.1" fill="#e8161b" /><circle cx="93.9" cy="178.3" r="1.1" fill="#e8161b" /><circle cx="103.7" cy="185.3" r="1.1" fill="#e8161b" /><circle cx="100.7" cy="191.4" r="1.1" fill="#e8161b" /><circle cx="90.1" cy="189.9" r="1.1" fill="#e8161b" /><circle cx="84.8" cy="186.1" r="1.1" fill="#e8161b" /><circle cx="78" cy="190.6" r="1.1" fill="#e8161b" /><circle cx="88" cy="190" r="1.1" fill="#e8161b" /><circle cx="89.3" cy="196" r="1.1" fill="#e8161b" /><circle cx="84.1" cy="201.2" r="1.1" fill="#e8161b" /><circle cx="78.8" cy="198.2" r="1.1" fill="#e8161b" /><circle cx="76" cy="195" r="1.1" fill="#e8161b" /><circle cx="60" cy="200.5" r="1.1" fill="#e8161b" /><circle cx="70" cy="198.5" r="1.1" fill="#e8161b" /><circle cx="86" cy="203" r="1.1" fill="#e8161b" /><circle cx="84" cy="208" r="1.1" fill="#e8161b" /><circle cx="78.3" cy="211.5" r="1.1" fill="#e8161b" /><circle cx="66" cy="209" r="1.1" fill="#e8161b" /><circle cx="60" cy="205" r="1.1" fill="#e8161b" /><circle cx="45.3" cy="208" r="1.1" fill="#e8161b" /><circle cx="63.4" cy="207.3" r="1.1" fill="#e8161b" /><circle cx="56" cy="214" r="1.1" fill="#e8161b" /><circle cx="52.1" cy="216.3" r="1.1" fill="#e8161b" /><circle cx="48" cy="213" r="1.1" fill="#e8161b" /><circle cx="87.1" cy="207.3" r="1.1" fill="#e8161b" /><circle cx="104.4" cy="206.5" r="1.1" fill="#e8161b" /><circle cx="102.2" cy="214.8" r="1.1" fill="#e8161b" /><circle cx="93.9" cy="215.6" r="1.1" fill="#e8161b" /><circle cx="81" cy="213.3" r="1.1" fill="#e8161b" /><circle cx="90.1" cy="220.9" r="1.1" fill="#e8161b" /><circle cx="88.6" cy="226.1" r="1.1" fill="#e8161b" /><circle cx="80" cy="224.6" r="1.1" fill="#e8161b" /><circle cx="77" cy="220" r="1.1" fill="#e8161b" /><circle cx="59.6" cy="224.6" r="1.1" fill="#e8161b" /><circle cx="76" cy="224" r="1.1" fill="#e8161b" /><circle cx="78" cy="229" r="1.1" fill="#e8161b" /><circle cx="75" cy="234" r="1.1" fill="#e8161b" /><circle cx="66.4" cy="233" r="1.1" fill="#e8161b" /><circle cx="60" cy="229" r="1.1" fill="#e8161b" /><circle cx="58" cy="200" r="1.1" fill="#e8161b" /><circle cx="52" cy="203.5" r="1.1" fill="#e8161b" /><circle cx="46" cy="201" r="1.1" fill="#e8161b" /><circle cx="46.5" cy="195" r="1.1" fill="#e8161b" /><circle cx="61.1" cy="182.3" r="1.1" fill="#e8161b" /><circle cx="79.5" cy="193" r="1.1" fill="#e8161b" /><circle cx="77" cy="198.5" r="1.1" fill="#e8161b" /><circle cx="68" cy="199" r="1.1" fill="#e8161b" /><circle cx="60.4" cy="193.5" r="1.1" fill="#e8161b" /><circle cx="98.4" cy="197.4" r="1.1" fill="#e8161b" /><circle cx="99.1" cy="203.4" r="1.1" fill="#e8161b" /><circle cx="91.6" cy="201.2" r="1.1" fill="#e8161b" /><circle cx="60.4" cy="218.6" r="1.1" fill="#e8161b" /><circle cx="56.6" cy="230.7" r="1.1" fill="#e8161b" /><circle cx="48.3" cy="226.9" r="1.1" fill="#e8161b" /><circle cx="49" cy="221.6" r="1.1" fill="#e8161b" /><circle cx="73" cy="210" r="1.1" fill="#e8161b" /><circle cx="80" cy="220" r="1.1" fill="#e8161b" /><circle cx="72" cy="222.5" r="1.1" fill="#e8161b" /><circle cx="62.6" cy="216" r="1.1" fill="#e8161b" /><circle cx="102.2" cy="218.6" r="1.1" fill="#e8161b" /><circle cx="100.7" cy="224.6" r="1.1" fill="#e8161b" /><circle cx="98.4" cy="229.9" r="1.1" fill="#e8161b" /><circle cx="90.9" cy="227.6" r="1.1" fill="#e8161b" /><circle cx="78" cy="224.6" r="1.1" fill="#e8161b" /><circle cx="87.1" cy="233.7" r="1.1" fill="#e8161b" /><circle cx="82.6" cy="238" r="1.1" fill="#e8161b" /><circle cx="76.5" cy="236" r="1.1" fill="#e8161b" />
<text x="33.6" y="185" font-size="5.6" fill="#222" text-anchor="start" font-family="'Liberation Sans',Arial,sans-serif" font-weight="bold" >Bi</text>
<line x1="41" y1="183.2" x2="48.5" y2="185.3" stroke="#111" stroke-width="0.6" /><polygon points="40.2,183 42.4,182.4 41.8,184.4" fill="#111" stroke="none" stroke-width="0" />
<text x="33.6" y="195.6" font-size="5.6" fill="#222" text-anchor="start" font-family="'Liberation Sans',Arial,sans-serif" font-weight="bold" >Fe</text>
<line x1="42" y1="193.8" x2="51.5" y2="196.8" stroke="#111" stroke-width="0.6" /><polygon points="41.2,193.6 43.4,192.9 42.8,194.9" fill="#111" stroke="none" stroke-width="0" />
<text x="33.8" y="204.6" font-size="5.6" fill="#222" text-anchor="start" font-family="'Liberation Sans',Arial,sans-serif" font-weight="bold" >O</text>
<line x1="40.5" y1="202.6" x2="47.5" y2="202.6" stroke="#111" stroke-width="0.6" /><polygon points="39.6,202.6 41.6,201.7 41.6,203.5" fill="#111" stroke="none" stroke-width="0" />
<line x1="44" y1="240.3" x2="44" y2="231" stroke="#2a3ad8" stroke-width="0.85" /><polygon points="44,229 43,231.6 45,231.6" fill="#2a3ad8" stroke="none" stroke-width="0" />
<line x1="44" y1="240.3" x2="52.5" y2="240.3" stroke="#e02020" stroke-width="0.85" /><polygon points="54.2,240.3 52,239.3 52,241.3" fill="#e02020" stroke="none" stroke-width="0" />
<line x1="44" y1="240.3" x2="38.5" y2="242.3" stroke="#22b02a" stroke-width="0.85" /><polygon points="37,242.8 39,241.2 39.5,243" fill="#22b02a" stroke="none" stroke-width="0" />
<text x="43" y="227.6" font-size="3" fill="#333" text-anchor="start" font-family="'Liberation Sans',Arial,sans-serif" font-weight="normal" >c</text>
<text x="55.3" y="241.6" font-size="3" fill="#333" text-anchor="start" font-family="'Liberation Sans',Arial,sans-serif" font-weight="normal" >a</text>
<text x="32.8" y="245" font-size="3" fill="#333" text-anchor="start" font-family="'Liberation Sans',Arial,sans-serif" font-weight="normal" >b</text>
<text x="42.6" y="247.6" font-size="6" fill="#222" text-anchor="start" font-family="'Liberation Sans',Arial,sans-serif" font-weight="bold" textLength="60.5" lengthAdjust="spacingAndGlyphs">Sample: Bi<tspan font-size="3.6" dy="1.1">0.9</tspan><tspan dy="-1.1">​</tspan>Y<tspan font-size="3.6" dy="1.1">0.1</tspan><tspan dy="-1.1">​</tspan>Fe<tspan font-size="3.6" dy="1.1">0.9</tspan><tspan dy="-1.1">​</tspan>Cu<tspan font-size="3.6" dy="1.1">0.1</tspan><tspan dy="-1.1">​</tspan>O<tspan font-size="3.6" dy="1.1">3</tspan><tspan dy="-1.1">​</tspan></text>
<line x1="123.1" y1="206.6" x2="214.1" y2="206.6" stroke="#666" stroke-width="0.4" />
<line x1="168.8" y1="172.7" x2="168.8" y2="240.4" stroke="#666" stroke-width="0.4" />
<polyline points="124.81,227.52 126.27,226.92 127.74,226.32 129.2,225.71 130.67,225.11 132.14,224.49 133.6,223.87 135.07,223.24 136.54,222.6 138,221.94 139.47,221.27 140.94,220.57 142.4,219.84 143.87,219.08 145.34,218.28 146.8,217.43 148.27,216.53 149.74,215.58 151.2,214.6 152.67,213.57 154.14,212.54 155.6,211.5 157.07,210.48 158.53,209.49 160,208.54 161.47,207.64 162.93,206.8 164.4,205.99 165.87,205.23 167.33,204.5 168.8,203.8 170.27,203.13 171.73,202.47 173.2,201.83 174.67,201.2 176.13,200.58 177.6,199.97 179.07,199.36 180.53,198.75 182,198.15 183.47,197.55 184.93,196.95 186.4,196.35 187.86,195.76 189.33,195.16 190.8,194.56 192.26,193.97 193.73,193.38 195.2,192.78 196.66,192.19 198.13,191.59 199.6,191 201.06,190.41 202.53,189.81 204,189.22 205.46,188.62 206.93,188.03 208.4,187.44 209.86,186.84 211.33,186.25 212.8,185.66" fill="none" stroke="#222" stroke-width="1.05" stroke-linejoin="round" stroke-linecap="round" />
<polyline points="124.81,227.54 126.27,226.95 127.74,226.36 129.2,225.76 130.67,225.17 132.14,224.58 133.6,223.98 135.07,223.39 136.54,222.79 138,222.2 139.47,221.61 140.94,221.01 142.4,220.42 143.87,219.82 145.34,219.23 146.8,218.64 148.27,218.04 149.74,217.44 151.2,216.85 152.67,216.25 154.14,215.65 155.6,215.05 157.07,214.45 158.53,213.84 160,213.23 161.47,212.62 162.93,212 164.4,211.37 165.87,210.73 167.33,210.07 168.8,209.4 170.27,208.7 171.73,207.97 173.2,207.21 174.67,206.4 176.13,205.56 177.6,204.66 179.07,203.71 180.53,202.72 182,201.7 183.47,200.66 184.93,199.63 186.4,198.6 187.86,197.62 189.33,196.67 190.8,195.77 192.26,194.92 193.73,194.12 195.2,193.36 196.66,192.63 198.13,191.93 199.6,191.26 201.06,190.6 202.53,189.96 204,189.33 205.46,188.71 206.93,188.09 208.4,187.49 209.86,186.88 211.33,186.28 212.8,185.68" fill="none" stroke="#222" stroke-width="1.05" stroke-linejoin="round" stroke-linecap="round" />
<polyline points="124.81,228.97 126.27,228.38 127.74,227.8 129.2,227.21 130.67,226.61 132.14,226 133.6,225.38 135.07,224.75 136.54,224.1 138,223.42 139.47,222.72 140.94,221.97 142.4,221.17 143.87,220.32 145.34,219.4 146.8,218.4 148.27,217.32 149.74,216.15 151.2,214.92 152.67,213.63 154.14,212.31 155.6,210.99 157.07,209.71 158.53,208.47 160,207.31 161.47,206.23 162.93,205.23 164.4,204.3 165.87,203.45 167.33,202.65 168.8,201.91 170.27,201.2 171.73,200.52 173.2,199.87 174.67,199.24 176.13,198.62 177.6,198.02 179.07,197.42 180.53,196.83 182,196.24 183.47,195.66 184.93,195.08 186.4,194.5 187.86,193.93 189.33,193.35 190.8,192.78 192.26,192.2 193.73,191.63 195.2,191.06 196.66,190.49 198.13,189.91 199.6,189.34 201.06,188.77 202.53,188.2 204,187.63 205.46,187.06 206.93,186.49 208.4,185.91 209.86,185.34 211.33,184.77 212.8,184.2" fill="none" stroke="#3ee03e" stroke-width="1.05" stroke-linejoin="round" stroke-linecap="round" />
<polyline points="124.81,229 126.27,228.43 127.74,227.86 129.2,227.29 130.67,226.71 132.14,226.14 133.6,225.57 135.07,225 136.54,224.43 138,223.86 139.47,223.29 140.94,222.71 142.4,222.14 143.87,221.57 145.34,221 146.8,220.42 148.27,219.85 149.74,219.27 151.2,218.7 152.67,218.12 154.14,217.54 155.6,216.96 157.07,216.37 158.53,215.78 160,215.18 161.47,214.58 162.93,213.96 164.4,213.33 165.87,212.68 167.33,212 168.8,211.29 170.27,210.55 171.73,209.75 173.2,208.9 174.67,207.97 176.13,206.97 177.6,205.89 179.07,204.73 180.53,203.49 182,202.21 183.47,200.89 184.93,199.57 186.4,198.28 187.86,197.05 189.33,195.88 190.8,194.8 192.26,193.8 193.73,192.88 195.2,192.03 196.66,191.23 198.13,190.48 199.6,189.78 201.06,189.1 202.53,188.45 204,187.82 205.46,187.2 206.93,186.59 208.4,185.99 209.86,185.4 211.33,184.82 212.8,184.23" fill="none" stroke="#3ee03e" stroke-width="1.05" stroke-linejoin="round" stroke-linecap="round" />
<polyline points="124.81,233.41 126.27,232.75 127.74,232.08 129.2,231.41 130.67,230.73 132.14,230.03 133.6,229.32 135.07,228.59 136.54,227.83 138,227.04 139.47,226.2 140.94,225.3 142.4,224.34 143.87,223.29 145.34,222.14 146.8,220.88 148.27,219.51 149.74,218.02 151.2,216.42 152.67,214.75 154.14,213.04 155.6,211.33 157.07,209.66 158.53,208.06 160,206.57 161.47,205.2 162.93,203.94 164.4,202.79 165.87,201.74 167.33,200.78 168.8,199.88 170.27,199.04 171.73,198.25 173.2,197.49 174.67,196.76 176.13,196.05 177.6,195.35 179.07,194.67 180.53,194 182,193.33 183.47,192.67 184.93,192.02 186.4,191.36 187.86,190.71 189.33,190.06 190.8,189.41 192.26,188.77 193.73,188.12 195.2,187.48 196.66,186.83 198.13,186.19 199.6,185.54 201.06,184.9 202.53,184.25 204,183.61 205.46,182.96 206.93,182.32 208.4,181.67 209.86,181.03 211.33,180.39 212.8,179.74" fill="none" stroke="#4848f0" stroke-width="1.05" stroke-linejoin="round" stroke-linecap="round" />
<polyline points="124.81,233.46 126.27,232.81 127.74,232.17 129.2,231.53 130.67,230.88 132.14,230.24 133.6,229.59 135.07,228.95 136.54,228.3 138,227.66 139.47,227.01 140.94,226.37 142.4,225.72 143.87,225.08 145.34,224.43 146.8,223.79 148.27,223.14 149.74,222.49 151.2,221.84 152.67,221.18 154.14,220.53 155.6,219.87 157.07,219.2 158.53,218.53 160,217.85 161.47,217.15 162.93,216.44 164.4,215.71 165.87,214.95 167.33,214.16 168.8,213.32 170.27,212.42 171.73,211.46 173.2,210.41 174.67,209.26 176.13,208 177.6,206.63 179.07,205.14 180.53,203.54 182,201.87 183.47,200.16 184.93,198.45 186.4,196.78 187.86,195.18 189.33,193.69 190.8,192.32 192.26,191.06 193.73,189.91 195.2,188.86 196.66,187.9 198.13,187 199.6,186.16 201.06,185.37 202.53,184.61 204,183.88 205.46,183.17 206.93,182.47 208.4,181.79 209.86,181.12 211.33,180.45 212.8,179.79" fill="none" stroke="#4848f0" stroke-width="1.05" stroke-linejoin="round" stroke-linecap="round" />
<polyline points="124.81,235.67 126.27,234.96 127.74,234.25 129.2,233.54 130.67,232.81 132.14,232.06 133.6,231.3 135.07,230.52 136.54,229.7 138,228.84 139.47,227.94 140.94,226.97 142.4,225.92 143.87,224.77 145.34,223.51 146.8,222.13 148.27,220.62 149.74,218.97 151.2,217.21 152.67,215.36 154.14,213.46 155.6,211.56 157.07,209.71 158.53,207.95 160,206.3 161.47,204.79 162.93,203.41 164.4,202.15 165.87,201 167.33,199.95 168.8,198.98 170.27,198.08 171.73,197.22 173.2,196.4 174.67,195.62 176.13,194.86 177.6,194.11 179.07,193.38 180.53,192.67 182,191.96 183.47,191.25 184.93,190.55 186.4,189.85 187.86,189.16 189.33,188.47 190.8,187.78 192.26,187.09 193.73,186.4 195.2,185.71 196.66,185.02 198.13,184.34 199.6,183.65 201.06,182.96 202.53,182.28 204,181.59 205.46,180.91 206.93,180.22 208.4,179.53 209.86,178.85 211.33,178.16 212.8,177.47" fill="none" stroke="#f04040" stroke-width="1.05" stroke-linejoin="round" stroke-linecap="round" />
<polyline points="124.81,235.73 126.27,235.04 127.74,234.35 129.2,233.67 130.67,232.98 132.14,232.29 133.6,231.61 135.07,230.92 136.54,230.24 138,229.55 139.47,228.86 140.94,228.18 142.4,227.49 143.87,226.8 145.34,226.11 146.8,225.42 148.27,224.73 149.74,224.04 151.2,223.35 152.67,222.65 154.14,221.95 155.6,221.24 157.07,220.53 158.53,219.82 160,219.09 161.47,218.34 162.93,217.58 164.4,216.8 165.87,215.98 167.33,215.12 168.8,214.22 170.27,213.25 171.73,212.2 173.2,211.05 174.67,209.79 176.13,208.41 177.6,206.9 179.07,205.25 180.53,203.49 182,201.64 183.47,199.74 184.93,197.84 186.4,195.99 187.86,194.23 189.33,192.58 190.8,191.07 192.26,189.69 193.73,188.43 195.2,187.28 196.66,186.23 198.13,185.26 199.6,184.36 201.06,183.5 202.53,182.68 204,181.9 205.46,181.14 206.93,180.39 208.4,179.66 209.86,178.95 211.33,178.24 212.8,177.53" fill="none" stroke="#f04040" stroke-width="1.05" stroke-linejoin="round" stroke-linecap="round" />
<rect x="175.7" y="208.7" width="38.6" height="29.4" fill="#fff" stroke="#888" stroke-width="0.4" />
<line x1="178.6" y1="222.5" x2="213.2" y2="222.5" stroke="#aaa" stroke-width="0.3" />
<line x1="195.9" y1="210.9" x2="195.9" y2="234.1" stroke="#aaa" stroke-width="0.3" />
<polyline points="179.75,230.91 180.33,230.67 180.91,230.43 181.48,230.19 182.06,229.95 182.64,229.7 183.21,229.45 183.79,229.2 184.37,228.94 184.94,228.68 185.52,228.41 186.1,228.13 186.67,227.84 187.25,227.54 187.83,227.22 188.4,226.89 188.98,226.54 189.56,226.18 190.13,225.8 190.71,225.39 191.29,224.98 191.86,224.55 192.44,224.11 193.02,223.66 193.59,223.21 194.17,222.77 194.75,222.34 195.32,221.93 195.9,221.52 196.48,221.14 197.05,220.78 197.63,220.43 198.21,220.1 198.78,219.78 199.36,219.48 199.94,219.19 200.51,218.91 201.09,218.64 201.67,218.38 202.24,218.12 202.82,217.87 203.4,217.62 203.97,217.37 204.55,217.13 205.13,216.89 205.7,216.65 206.28,216.41 206.86,216.18 207.43,215.94 208.01,215.71 208.59,215.47 209.16,215.24 209.74,215 210.32,214.77 210.89,214.54 211.47,214.31 212.05,214.07" fill="none" stroke="#222" stroke-width="0.6" stroke-linejoin="round" stroke-linecap="round" />
<polyline points="179.75,230.93 180.33,230.69 180.91,230.46 181.48,230.23 182.06,230 182.64,229.76 183.21,229.53 183.79,229.29 184.37,229.06 184.94,228.82 185.52,228.59 186.1,228.35 186.67,228.11 187.25,227.87 187.83,227.63 188.4,227.38 188.98,227.13 189.56,226.88 190.13,226.62 190.71,226.36 191.29,226.09 191.86,225.81 192.44,225.52 193.02,225.22 193.59,224.9 194.17,224.57 194.75,224.22 195.32,223.86 195.9,223.48 196.48,223.07 197.05,222.66 197.63,222.23 198.21,221.79 198.78,221.34 199.36,220.89 199.94,220.45 200.51,220.02 201.09,219.61 201.67,219.2 202.24,218.82 202.82,218.46 203.4,218.11 203.97,217.78 204.55,217.46 205.13,217.16 205.7,216.87 206.28,216.59 206.86,216.32 207.43,216.06 208.01,215.8 208.59,215.55 209.16,215.3 209.74,215.05 210.32,214.81 210.89,214.57 211.47,214.33 212.05,214.09" fill="none" stroke="#222" stroke-width="0.6" stroke-linejoin="round" stroke-linecap="round" />
<polyline points="179.75,232.28 180.33,232.08 180.91,231.87 181.48,231.65 182.06,231.42 182.64,231.18 183.21,230.93 183.79,230.65 184.37,230.35 184.94,230.03 185.52,229.68 186.1,229.29 186.67,228.86 187.25,228.38 187.83,227.87 188.4,227.3 188.98,226.69 189.56,226.03 190.13,225.34 190.71,224.62 191.29,223.89 191.86,223.16 192.44,222.44 193.02,221.75 193.59,221.1 194.17,220.49 194.75,219.92 195.32,219.4 195.9,218.93 196.48,218.5 197.05,218.11 197.63,217.75 198.21,217.43 198.78,217.13 199.36,216.86 199.94,216.6 200.51,216.36 201.09,216.13 201.67,215.91 202.24,215.7 202.82,215.5 203.4,215.3 203.97,215.11 204.55,214.92 205.13,214.74 205.7,214.55 206.28,214.37 206.86,214.19 207.43,214.01 208.01,213.84 208.59,213.66 209.16,213.48 209.74,213.31 210.32,213.13 210.89,212.95 211.47,212.78 212.05,212.6" fill="none" stroke="#3ee03e" stroke-width="0.6" stroke-linejoin="round" stroke-linecap="round" />
<polyline points="179.75,232.4 180.33,232.22 180.91,232.05 181.48,231.87 182.06,231.69 182.64,231.52 183.21,231.34 183.79,231.16 184.37,230.99 184.94,230.81 185.52,230.63 186.1,230.45 186.67,230.26 187.25,230.08 187.83,229.89 188.4,229.7 188.98,229.5 189.56,229.3 190.13,229.09 190.71,228.87 191.29,228.64 191.86,228.4 192.44,228.14 193.02,227.87 193.59,227.57 194.17,227.25 194.75,226.89 195.32,226.5 195.9,226.07 196.48,225.6 197.05,225.08 197.63,224.51 198.21,223.9 198.78,223.25 199.36,222.56 199.94,221.84 200.51,221.11 201.09,220.38 201.67,219.66 202.24,218.97 202.82,218.31 203.4,217.7 203.97,217.13 204.55,216.62 205.13,216.14 205.7,215.71 206.28,215.32 206.86,214.97 207.43,214.65 208.01,214.35 208.59,214.07 209.16,213.82 209.74,213.58 210.32,213.35 210.89,213.13 211.47,212.92 212.05,212.72" fill="none" stroke="#3ee03e" stroke-width="0.6" stroke-linejoin="round" stroke-linecap="round" />
<polyline points="179.75,232.63 180.33,232.43 180.91,232.23 181.48,232 182.06,231.76 182.64,231.49 183.21,231.2 183.79,230.87 184.37,230.49 184.94,230.08 185.52,229.61 186.1,229.08 186.67,228.5 187.25,227.85 187.83,227.14 188.4,226.37 188.98,225.56 189.56,224.72 190.13,223.85 190.71,222.99 191.29,222.15 191.86,221.33 192.44,220.57 193.02,219.86 193.59,219.21 194.17,218.62 194.75,218.1 195.32,217.63 195.9,217.21 196.48,216.84 197.05,216.51 197.63,216.21 198.21,215.95 198.78,215.7 199.36,215.48 199.94,215.27 200.51,215.08 201.09,214.9 201.67,214.73 202.24,214.56 202.82,214.4 203.4,214.25 203.97,214.1 204.55,213.95 205.13,213.8 205.7,213.66 206.28,213.52 206.86,213.38 207.43,213.24 208.01,213.1 208.59,212.96 209.16,212.82 209.74,212.69 210.32,212.55 210.89,212.41 211.47,212.28 212.05,212.14" fill="none" stroke="#4848f0" stroke-width="0.6" stroke-linejoin="round" stroke-linecap="round" />
<polyline points="179.75,232.86 180.33,232.72 180.91,232.59 181.48,232.45 182.06,232.31 182.64,232.18 183.21,232.04 183.79,231.9 184.37,231.76 184.94,231.62 185.52,231.48 186.1,231.34 186.67,231.2 187.25,231.05 187.83,230.9 188.4,230.75 188.98,230.6 189.56,230.44 190.13,230.27 190.71,230.1 191.29,229.92 191.86,229.73 192.44,229.52 193.02,229.3 193.59,229.05 194.17,228.79 194.75,228.49 195.32,228.16 195.9,227.79 196.48,227.37 197.05,226.9 197.63,226.38 198.21,225.79 198.78,225.14 199.36,224.43 199.94,223.67 200.51,222.85 201.09,222.01 201.67,221.15 202.24,220.28 202.82,219.44 203.4,218.63 203.97,217.86 204.55,217.15 205.13,216.5 205.7,215.92 206.28,215.39 206.86,214.92 207.43,214.51 208.01,214.13 208.59,213.8 209.16,213.51 209.74,213.24 210.32,213 210.89,212.77 211.47,212.57 212.05,212.37" fill="none" stroke="#4848f0" stroke-width="0.6" stroke-linejoin="round" stroke-linecap="round" />
<polyline points="179.75,233.14 180.33,232.94 180.91,232.72 181.48,232.47 182.06,232.2 182.64,231.9 183.21,231.55 183.79,231.16 184.37,230.71 184.94,230.2 185.52,229.63 186.1,228.98 186.67,228.26 187.25,227.47 187.83,226.61 188.4,225.7 188.98,224.75 189.56,223.78 190.13,222.8 190.71,221.85 191.29,220.94 191.86,220.08 192.44,219.29 193.02,218.57 193.59,217.93 194.17,217.35 194.75,216.84 195.32,216.39 195.9,216 196.48,215.66 197.05,215.35 197.63,215.08 198.21,214.84 198.78,214.62 199.36,214.42 199.94,214.23 200.51,214.06 201.09,213.9 201.67,213.75 202.24,213.61 202.82,213.47 203.4,213.33 203.97,213.2 204.55,213.07 205.13,212.95 205.7,212.83 206.28,212.7 206.86,212.58 207.43,212.46 208.01,212.34 208.59,212.22 209.16,212.11 209.74,211.99 210.32,211.87 210.89,211.75 211.47,211.64 212.05,211.52" fill="none" stroke="#f04040" stroke-width="0.6" stroke-linejoin="round" stroke-linecap="round" />
<polyline points="179.75,233.48 180.33,233.36 180.91,233.25 181.48,233.13 182.06,233.01 182.64,232.89 183.21,232.78 183.79,232.66 184.37,232.54 184.94,232.42 185.52,232.3 186.1,232.17 186.67,232.05 187.25,231.93 187.83,231.8 188.4,231.67 188.98,231.53 189.56,231.39 190.13,231.25 190.71,231.1 191.29,230.94 191.86,230.77 192.44,230.58 193.02,230.38 193.59,230.16 194.17,229.92 194.75,229.65 195.32,229.34 195.9,229 196.48,228.61 197.05,228.16 197.63,227.65 198.21,227.07 198.78,226.43 199.36,225.71 199.94,224.92 200.51,224.06 201.09,223.15 201.67,222.2 202.24,221.22 202.82,220.25 203.4,219.3 203.97,218.39 204.55,217.53 205.13,216.74 205.7,216.02 206.28,215.37 206.86,214.8 207.43,214.29 208.01,213.84 208.59,213.45 209.16,213.1 209.74,212.8 210.32,212.53 210.89,212.28 211.47,212.06 212.05,211.86" fill="none" stroke="#f04040" stroke-width="0.6" stroke-linejoin="round" stroke-linecap="round" />
<rect x="178.6" y="210.9" width="34.6" height="23.2" fill="none" stroke="#666" stroke-width="0.3" />
<line x1="201.5" y1="226.5" x2="204.5" y2="226.5" stroke="#222" stroke-width="0.5" /><text x="205.2" y="227" font-size="1.4" fill="#444" text-anchor="start" font-family="'Liberation Sans',Arial,sans-serif" font-weight="normal" >BFO</text>
<line x1="201.5" y1="228.4" x2="204.5" y2="228.4" stroke="#3ee03e" stroke-width="0.5" /><text x="205.2" y="228.9" font-size="1.4" fill="#444" text-anchor="start" font-family="'Liberation Sans',Arial,sans-serif" font-weight="normal" >BYFCO-1</text>
<line x1="201.5" y1="230.3" x2="204.5" y2="230.3" stroke="#4848f0" stroke-width="0.5" /><text x="205.2" y="230.8" font-size="1.4" fill="#444" text-anchor="start" font-family="'Liberation Sans',Arial,sans-serif" font-weight="normal" >BYFCO-2</text>
<line x1="201.5" y1="232.2" x2="204.5" y2="232.2" stroke="#f04040" stroke-width="0.5" /><text x="205.2" y="232.7" font-size="1.4" fill="#444" text-anchor="start" font-family="'Liberation Sans',Arial,sans-serif" font-weight="normal" >BYFCO-3</text>
<text x="195.5" y="237.2" font-size="1.6" fill="#444" text-anchor="middle" font-family="'Liberation Sans',Arial,sans-serif" font-weight="normal" >Applied Field, H (kOe)</text>
<line x1="125.4" y1="176" x2="131.6" y2="176" stroke="#222" stroke-width="1" /><text x="133.4" y="177.1" font-size="3" fill="#333" text-anchor="start" font-family="'Liberation Sans',Arial,sans-serif" font-weight="normal" >BFO</text>
<line x1="125.4" y1="179.9" x2="131.6" y2="179.9" stroke="#3ee03e" stroke-width="1" /><text x="133.4" y="181" font-size="3" fill="#333" text-anchor="start" font-family="'Liberation Sans',Arial,sans-serif" font-weight="normal" >BYFCO-1</text>
<line x1="125.4" y1="183.8" x2="131.6" y2="183.8" stroke="#4848f0" stroke-width="1" /><text x="133.4" y="184.9" font-size="3" fill="#333" text-anchor="start" font-family="'Liberation Sans',Arial,sans-serif" font-weight="normal" >BYFCO-2</text>
<line x1="125.4" y1="187.7" x2="131.6" y2="187.7" stroke="#f04040" stroke-width="1" /><text x="133.4" y="188.8" font-size="3" fill="#333" text-anchor="start" font-family="'Liberation Sans',Arial,sans-serif" font-weight="normal" >BYFCO-3</text>
<rect x="123.1" y="172.7" width="91" height="67.7" fill="none" stroke="#555" stroke-width="0.55" />
<text x="121.6" y="174" font-size="2.8" fill="#333" text-anchor="end" font-family="'Liberation Sans',Arial,sans-serif" font-weight="normal" >0.3</text>
<text x="121.6" y="185.2" font-size="2.8" fill="#333" text-anchor="end" font-family="'Liberation Sans',Arial,sans-serif" font-weight="normal" >0.2</text>
<text x="121.6" y="196.4" font-size="2.8" fill="#333" text-anchor="end" font-family="'Liberation Sans',Arial,sans-serif" font-weight="normal" >0.1</text>
<text x="121.6" y="207.6" font-size="2.8" fill="#333" text-anchor="end" font-family="'Liberation Sans',Arial,sans-serif" font-weight="normal" >0.0</text>
<text x="121.6" y="218.8" font-size="2.8" fill="#333" text-anchor="end" font-family="'Liberation Sans',Arial,sans-serif" font-weight="normal" >-0.1</text>
<text x="121.6" y="230" font-size="2.8" fill="#333" text-anchor="end" font-family="'Liberation Sans',Arial,sans-serif" font-weight="normal" >-0.2</text>
<text x="121.6" y="241.2" font-size="2.8" fill="#333" text-anchor="end" font-family="'Liberation Sans',Arial,sans-serif" font-weight="normal" >-0.3</text>
<text x="124.81" y="244.9" font-size="2.8" fill="#333" text-anchor="middle" font-family="'Liberation Sans',Arial,sans-serif" font-weight="normal" >-15</text>
<line x1="124.81" y1="240.4" x2="124.81" y2="239.5" stroke="#555" stroke-width="0.35" />
<text x="133.6" y="244.9" font-size="2.8" fill="#333" text-anchor="middle" font-family="'Liberation Sans',Arial,sans-serif" font-weight="normal" >-12</text>
<line x1="133.6" y1="240.4" x2="133.6" y2="239.5" stroke="#555" stroke-width="0.35" />
<text x="142.4" y="244.9" font-size="2.8" fill="#333" text-anchor="middle" font-family="'Liberation Sans',Arial,sans-serif" font-weight="normal" >-9</text>
<line x1="142.4" y1="240.4" x2="142.4" y2="239.5" stroke="#555" stroke-width="0.35" />
<text x="151.2" y="244.9" font-size="2.8" fill="#333" text-anchor="middle" font-family="'Liberation Sans',Arial,sans-serif" font-weight="normal" >-6</text>
<line x1="151.2" y1="240.4" x2="151.2" y2="239.5" stroke="#555" stroke-width="0.35" />
<text x="160" y="244.9" font-size="2.8" fill="#333" text-anchor="middle" font-family="'Liberation Sans',Arial,sans-serif" font-weight="normal" >-3</text>
<line x1="160" y1="240.4" x2="160" y2="239.5" stroke="#555" stroke-width="0.35" />
<text x="168.8" y="244.9" font-size="2.8" fill="#333" text-anchor="middle" font-family="'Liberation Sans',Arial,sans-serif" font-weight="normal" >0</text>
<line x1="168.8" y1="240.4" x2="168.8" y2="239.5" stroke="#555" stroke-width="0.35" />
<text x="177.6" y="244.9" font-size="2.8" fill="#333" text-anchor="middle" font-family="'Liberation Sans',Arial,sans-serif" font-weight="normal" >3</text>
<line x1="177.6" y1="240.4" x2="177.6" y2="239.5" stroke="#555" stroke-width="0.35" />
<text x="186.4" y="244.9" font-size="2.8" fill="#333" text-anchor="middle" font-family="'Liberation Sans',Arial,sans-serif" font-weight="normal" >6</text>
<line x1="186.4" y1="240.4" x2="186.4" y2="239.5" stroke="#555" stroke-width="0.35" />
<text x="195.2" y="244.9" font-size="2.8" fill="#333" text-anchor="middle" font-family="'Liberation Sans',Arial,sans-serif" font-weight="normal" >9</text>
<line x1="195.2" y1="240.4" x2="195.2" y2="239.5" stroke="#555" stroke-width="0.35" />
<text x="204" y="244.9" font-size="2.8" fill="#333" text-anchor="middle" font-family="'Liberation Sans',Arial,sans-serif" font-weight="normal" >12</text>
<line x1="204" y1="240.4" x2="204" y2="239.5" stroke="#555" stroke-width="0.35" />
<text x="212.8" y="244.9" font-size="2.8" fill="#333" text-anchor="middle" font-family="'Liberation Sans',Arial,sans-serif" font-weight="normal" >15</text>
<line x1="212.8" y1="240.4" x2="212.8" y2="239.5" stroke="#555" stroke-width="0.35" />
<text x="168.8" y="249.3" font-size="3.4" fill="#333" text-anchor="middle" font-family="'Liberation Sans',Arial,sans-serif" font-weight="normal" >H (kOe)</text>
<text x="0" y="0" font-size="3.4" fill="#333" text-anchor="middle" font-family="'Liberation Sans',Arial,sans-serif" font-weight="normal" transform="translate(115.2 206.6) rotate(-90)">M (emu/gm)</text>
<polyline points="231.7,213.4 232.9,213.52 234.6,213.7 236.58,213.9 238.65,214.11 240.6,214.3 242.39,214.48 244.15,214.66 245.96,214.83 247.88,215.01 250,215.2 252.4,215.42 255.03,215.68 257.76,215.92 260.46,216.11 263,216.2 265.38,216.16 267.68,216.04 269.91,215.85 272.08,215.63 274.2,215.4 276.31,215.22 278.4,215.08 280.42,214.88 282.31,214.55 284,214 285.44,213.2 286.67,212.22 287.78,211.08 288.86,209.83 290,208.5 291.23,207 292.5,205.31 293.74,203.57 294.93,201.92 296,200.5 296.91,199.4 297.7,198.52 298.42,197.74 299.17,196.94 300,196 300.9,194.92 301.83,193.78 302.81,192.58 303.86,191.32 305,190 306.28,188.54 307.68,186.93 309.13,185.31 310.59,183.79 312,182.5 313.45,181.44 314.99,180.53 316.45,179.77 317.71,179.16 318.6,178.7" fill="none" stroke="#f03a2a" stroke-width="0.9" stroke-linejoin="round" stroke-linecap="round" />
<polyline points="231.7,213.4 232.96,214.04 234.78,214.95 236.85,216 238.89,217.06 240.6,218 241.96,218.86 243.16,219.72 244.25,220.53 245.25,221.24 246.2,221.8 246.99,222.18 247.59,222.4 248.17,222.52 248.92,222.6 250,222.7 251.42,222.8 253.06,222.88 254.91,222.93 256.99,222.97 259.3,223 262,223.03 265.1,223.06 268.34,223.07 271.46,223.06 274.2,223 276.55,222.94 278.67,222.88 280.6,222.77 282.36,222.56 284,222.2 285.44,221.64 286.67,220.92 287.78,220.1 288.86,219.27 290,218.5 291.15,217.84 292.26,217.24 293.38,216.63 294.61,215.91 296,215 297.64,213.81 299.48,212.4 301.4,210.91 303.28,209.46 305,208.2 306.53,207.13 307.94,206.17 309.3,205.29 310.63,204.51 312,203.8 313.51,203.17 315.14,202.62 316.7,202.15 318.05,201.78 319,201.5" fill="none" stroke="#222" stroke-width="0.9" stroke-linejoin="round" stroke-linecap="round" />
<polyline points="231.3,199.25 232.52,199.73 234.28,200.41 236.28,201.21 238.25,202.03 239.9,202.8 241.2,203.55 242.34,204.32 243.36,205.09 244.3,205.79 245.2,206.4 245.97,206.88 246.59,207.25 247.19,207.57 247.88,207.87 248.8,208.2 250.04,208.58 251.53,208.99 253.11,209.38 254.62,209.73 255.9,210 256.88,210.19 257.66,210.31 258.37,210.38 259.11,210.41 260,210.4 261.08,210.35 262.26,210.24 263.51,210.1 264.77,209.95 266,209.8 267.1,209.67 268.11,209.54 269.17,209.4 270.42,209.23 272,209 274.11,208.76 276.66,208.52 279.34,208.21 281.89,207.79 284,207.2 285.58,206.37 286.83,205.36 287.89,204.23 288.9,203.08 290,202 291.23,200.94 292.5,199.84 293.74,198.77 294.93,197.8 296,197 296.91,196.42 297.7,196.01 298.42,195.69 299.17,195.38 300,195 300.94,194.51 301.93,193.96 302.95,193.41 303.98,192.91 305,192.5 305.94,192.2 306.81,191.96 307.71,191.79 308.74,191.67 310,191.6 311.69,191.6 313.74,191.69 315.86,191.81 317.71,191.92 319,192" fill="none" stroke="#1a9a1a" stroke-width="0.9" stroke-linejoin="round" stroke-linecap="round" />
<polyline points="231.3,185.9 232.2,186.73 233.47,187.89 234.96,189.26 236.52,190.74 238,192.2 239.44,193.76 240.93,195.5 242.43,197.25 243.87,198.84 245.2,200.1 246.45,201.01 247.66,201.69 248.79,202.15 249.78,202.45 250.6,202.6 251.19,202.47 251.58,202.05 251.86,201.53 252.1,201.11 252.4,201 252.69,201.19 252.91,201.55 253.16,202.09 253.52,202.8 254.1,203.7 254.96,204.89 256.04,206.36 257.23,207.96 258.42,209.52 259.5,210.9 260.47,212.03 261.39,213.02 262.28,213.96 263.15,214.92 264,216 264.83,217.22 265.64,218.52 266.42,219.87 267.21,221.21 268,222.5 268.8,223.77 269.6,225.04 270.4,226.28 271.2,227.45 272,228.5 272.8,229.43 273.6,230.26 274.4,231.02 275.2,231.69 276,232.3 276.8,232.83 277.6,233.28 278.4,233.66 279.2,233.99 280,234.3 280.61,234.55 281.02,234.74 281.54,234.9 282.43,235.07 284,235.3 286.38,235.61 289.39,235.96 292.81,236.34 296.42,236.69 300,237 303.91,237.26 308.3,237.5 312.62,237.71 316.37,237.88 319,238" fill="none" stroke="#2a3af0" stroke-width="0.9" stroke-linejoin="round" stroke-linecap="round" />
<polyline points="260,210.4 260.82,210.32 261.97,210.21 263.31,210.08 264.7,209.94 266,209.8 267.1,209.67 268.11,209.54 269.17,209.4 270.42,209.23 272,209 274.21,208.68 276.94,208.27 279.78,207.84 282.27,207.46 284,207.2" fill="none" stroke="#1a9a1a" stroke-width="1.6" stroke-linejoin="round" stroke-linecap="round" />
<polyline points="259.5,210.9 260.12,211.57 261,212.51 262.02,213.61 263.06,214.81 264,216 264.83,217.22 265.64,218.52 266.42,219.87 267.21,221.21 268,222.5 268.8,223.77 269.6,225.04 270.4,226.28 271.2,227.45 272,228.5 272.8,229.43 273.6,230.26 274.4,231.02 275.2,231.69 276,232.3 276.8,232.83 277.6,233.28 278.4,233.66 279.2,233.99 280,234.3 280.86,234.58 281.79,234.82 282.69,235.02 283.46,235.18 284,235.3" fill="none" stroke="#2a3af0" stroke-width="1.5" stroke-linejoin="round" stroke-linecap="round" />
<polyline points="263,216.2 264.55,216.1 266.74,215.97 269.28,215.8 271.87,215.61 274.2,215.4 276.41,215.14 278.69,214.82 280.85,214.49 282.69,214.2 284,214" fill="none" stroke="#f03a2a" stroke-width="1.3" stroke-linejoin="round" stroke-linecap="round" />
<polyline points="259.3,223 261.41,223.01 264.43,223.04 267.89,223.06 271.31,223.05 274.2,223 276.64,222.88 278.96,222.7 281.03,222.5 282.75,222.32 284,222.2" fill="none" stroke="#222" stroke-width="1.3" stroke-linejoin="round" stroke-linecap="round" />
<rect x="237.4" y="191.6" width="1.2" height="1.2" fill="#2a3af0" stroke="none" stroke-width="0" />
<rect x="244.6" y="199.5" width="1.2" height="1.2" fill="#2a3af0" stroke="none" stroke-width="0" />
<rect x="251.8" y="200.4" width="1.2" height="1.2" fill="#2a3af0" stroke="none" stroke-width="0" />
<rect x="299.4" y="236.4" width="1.2" height="1.2" fill="#2a3af0" stroke="none" stroke-width="0" />
<rect x="309.4" y="236.9" width="1.2" height="1.2" fill="#2a3af0" stroke="none" stroke-width="0" />
<text x="253.2" y="196" font-size="3.2" fill="#2a3af0" text-anchor="middle" font-family="'Liberation Serif','Times New Roman',serif" font-weight="normal" >Step</text>
<line x1="253.2" y1="196.8" x2="253.2" y2="199.6" stroke="#2a3af0" stroke-width="0.35" />
<text x="257" y="215" font-size="3.2" fill="#333" text-anchor="middle" font-family="'Liberation Serif','Times New Roman',serif" font-weight="normal" >Step</text>
<line x1="252.5" y1="211.5" x2="255" y2="213.2" stroke="#333" stroke-width="0.35" />
<text x="259" y="220.6" font-size="3.2" fill="#333" text-anchor="middle" font-family="'Liberation Serif','Times New Roman',serif" font-weight="normal" >Step</text>
<line x1="253" y1="217.5" x2="256" y2="219.2" stroke="#333" stroke-width="0.35" />
<text x="248.8" y="232.6" font-size="3.2" fill="#333" text-anchor="middle" font-family="'Liberation Serif','Times New Roman',serif" font-weight="normal" >Step</text>
<line x1="248.8" y1="229.5" x2="248.8" y2="224.8" stroke="#333" stroke-width="0.35" />
<text x="236.2" y="238.6" font-size="3.4" fill="#333" text-anchor="middle" font-family="'Liberation Serif','Times New Roman',serif" font-weight="normal" >(a)</text>
<line x1="262.2" y1="178.7" x2="271.1" y2="178.7" stroke="#222" stroke-width="0.6" /><rect x="265.9" y="178.1" width="1.2" height="1.2" fill="#222" stroke="none" stroke-width="0" /><text x="272.5" y="179.7" font-size="2.9" fill="#333" text-anchor="start" font-family="'Liberation Sans',Arial,sans-serif" font-weight="normal" >BFO</text>
<line x1="262.2" y1="182.77" x2="271.1" y2="182.77" stroke="#f03a2a" stroke-width="0.6" /><rect x="265.9" y="182.17" width="1.2" height="1.2" fill="#f03a2a" stroke="none" stroke-width="0" /><text x="272.5" y="183.77" font-size="2.9" fill="#333" text-anchor="start" font-family="'Liberation Sans',Arial,sans-serif" font-weight="normal" >BYFCO-1</text>
<line x1="262.2" y1="186.84" x2="271.1" y2="186.84" stroke="#2a3af0" stroke-width="0.6" /><rect x="265.9" y="186.24" width="1.2" height="1.2" fill="#2a3af0" stroke="none" stroke-width="0" /><text x="272.5" y="187.84" font-size="2.9" fill="#333" text-anchor="start" font-family="'Liberation Sans',Arial,sans-serif" font-weight="normal" >BYFCO-2</text>
<line x1="262.2" y1="190.91" x2="271.1" y2="190.91" stroke="#1a9a1a" stroke-width="0.6" /><rect x="265.9" y="190.31" width="1.2" height="1.2" fill="#1a9a1a" stroke="none" stroke-width="0" /><text x="272.5" y="191.91" font-size="2.9" fill="#333" text-anchor="start" font-family="'Liberation Sans',Arial,sans-serif" font-weight="normal" >BYFCO-3</text>
<rect x="231.3" y="175.5" width="87.7" height="64.9" fill="none" stroke="#555" stroke-width="0.55" />
<text x="229.3" y="240.5" font-size="2.8" fill="#333" text-anchor="end" font-family="'Liberation Sans',Arial,sans-serif" font-weight="normal" >0</text>
<line x1="231.3" y1="239.5" x2="232.2" y2="239.5" stroke="#555" stroke-width="0.35" />
<text x="229.3" y="235.41" font-size="2.8" fill="#333" text-anchor="end" font-family="'Liberation Sans',Arial,sans-serif" font-weight="normal" >1</text>
<line x1="231.3" y1="234.41" x2="232.2" y2="234.41" stroke="#555" stroke-width="0.35" />
<text x="229.3" y="230.32" font-size="2.8" fill="#333" text-anchor="end" font-family="'Liberation Sans',Arial,sans-serif" font-weight="normal" >2</text>
<line x1="231.3" y1="229.32" x2="232.2" y2="229.32" stroke="#555" stroke-width="0.35" />
<text x="229.3" y="225.23" font-size="2.8" fill="#333" text-anchor="end" font-family="'Liberation Sans',Arial,sans-serif" font-weight="normal" >3</text>
<line x1="231.3" y1="224.23" x2="232.2" y2="224.23" stroke="#555" stroke-width="0.35" />
<text x="229.3" y="220.14" font-size="2.8" fill="#333" text-anchor="end" font-family="'Liberation Sans',Arial,sans-serif" font-weight="normal" >4</text>
<line x1="231.3" y1="219.14" x2="232.2" y2="219.14" stroke="#555" stroke-width="0.35" />
<text x="229.3" y="215.05" font-size="2.8" fill="#333" text-anchor="end" font-family="'Liberation Sans',Arial,sans-serif" font-weight="normal" >5</text>
<line x1="231.3" y1="214.05" x2="232.2" y2="214.05" stroke="#555" stroke-width="0.35" />
<text x="229.3" y="209.96" font-size="2.8" fill="#333" text-anchor="end" font-family="'Liberation Sans',Arial,sans-serif" font-weight="normal" >6</text>
<line x1="231.3" y1="208.96" x2="232.2" y2="208.96" stroke="#555" stroke-width="0.35" />
<text x="229.3" y="204.87" font-size="2.8" fill="#333" text-anchor="end" font-family="'Liberation Sans',Arial,sans-serif" font-weight="normal" >7</text>
<line x1="231.3" y1="203.87" x2="232.2" y2="203.87" stroke="#555" stroke-width="0.35" />
<text x="229.3" y="199.78" font-size="2.8" fill="#333" text-anchor="end" font-family="'Liberation Sans',Arial,sans-serif" font-weight="normal" >8</text>
<line x1="231.3" y1="198.78" x2="232.2" y2="198.78" stroke="#555" stroke-width="0.35" />
<text x="229.3" y="194.69" font-size="2.8" fill="#333" text-anchor="end" font-family="'Liberation Sans',Arial,sans-serif" font-weight="normal" >9</text>
<line x1="231.3" y1="193.69" x2="232.2" y2="193.69" stroke="#555" stroke-width="0.35" />
<text x="229.3" y="189.6" font-size="2.8" fill="#333" text-anchor="end" font-family="'Liberation Sans',Arial,sans-serif" font-weight="normal" >10</text>
<line x1="231.3" y1="188.6" x2="232.2" y2="188.6" stroke="#555" stroke-width="0.35" />
<text x="229.3" y="184.51" font-size="2.8" fill="#333" text-anchor="end" font-family="'Liberation Sans',Arial,sans-serif" font-weight="normal" >11</text>
<line x1="231.3" y1="183.51" x2="232.2" y2="183.51" stroke="#555" stroke-width="0.35" />
<text x="229.3" y="179.42" font-size="2.8" fill="#333" text-anchor="end" font-family="'Liberation Sans',Arial,sans-serif" font-weight="normal" >12</text>
<line x1="231.3" y1="178.42" x2="232.2" y2="178.42" stroke="#555" stroke-width="0.35" />
<text x="231.7" y="245" font-size="2.8" fill="#333" text-anchor="middle" font-family="'Liberation Sans',Arial,sans-serif" font-weight="normal" >10<tspan dy="-1" font-size="1.8">2</tspan></text>
<line x1="231.7" y1="240.4" x2="231.7" y2="239.5" stroke="#555" stroke-width="0.35" />
<text x="249.08" y="245" font-size="2.8" fill="#333" text-anchor="middle" font-family="'Liberation Sans',Arial,sans-serif" font-weight="normal" >10<tspan dy="-1" font-size="1.8">3</tspan></text>
<line x1="249.08" y1="240.4" x2="249.08" y2="239.5" stroke="#555" stroke-width="0.35" />
<text x="266.46" y="245" font-size="2.8" fill="#333" text-anchor="middle" font-family="'Liberation Sans',Arial,sans-serif" font-weight="normal" >10<tspan dy="-1" font-size="1.8">4</tspan></text>
<line x1="266.46" y1="240.4" x2="266.46" y2="239.5" stroke="#555" stroke-width="0.35" />
<text x="283.84" y="245" font-size="2.8" fill="#333" text-anchor="middle" font-family="'Liberation Sans',Arial,sans-serif" font-weight="normal" >10<tspan dy="-1" font-size="1.8">5</tspan></text>
<line x1="283.84" y1="240.4" x2="283.84" y2="239.5" stroke="#555" stroke-width="0.35" />
<text x="301.22" y="245" font-size="2.8" fill="#333" text-anchor="middle" font-family="'Liberation Sans',Arial,sans-serif" font-weight="normal" >10<tspan dy="-1" font-size="1.8">6</tspan></text>
<line x1="301.22" y1="240.4" x2="301.22" y2="239.5" stroke="#555" stroke-width="0.35" />
<text x="318.6" y="245" font-size="2.8" fill="#333" text-anchor="middle" font-family="'Liberation Sans',Arial,sans-serif" font-weight="normal" >10<tspan dy="-1" font-size="1.8">7</tspan></text>
<line x1="318.6" y1="240.4" x2="318.6" y2="239.5" stroke="#555" stroke-width="0.35" />
<text x="283" y="249.4" font-size="3.4" fill="#333" text-anchor="middle" font-family="'Liberation Sans',Arial,sans-serif" font-weight="normal" >Frequency (Hz)</text>
<text x="0" y="0" font-size="3.3" fill="#333" text-anchor="middle" font-family="'Liberation Sans',Arial,sans-serif" font-weight="normal" transform="translate(224.8 208) rotate(-90)">Real Permittivity (ε')</text>
</svg>
</body></html>
